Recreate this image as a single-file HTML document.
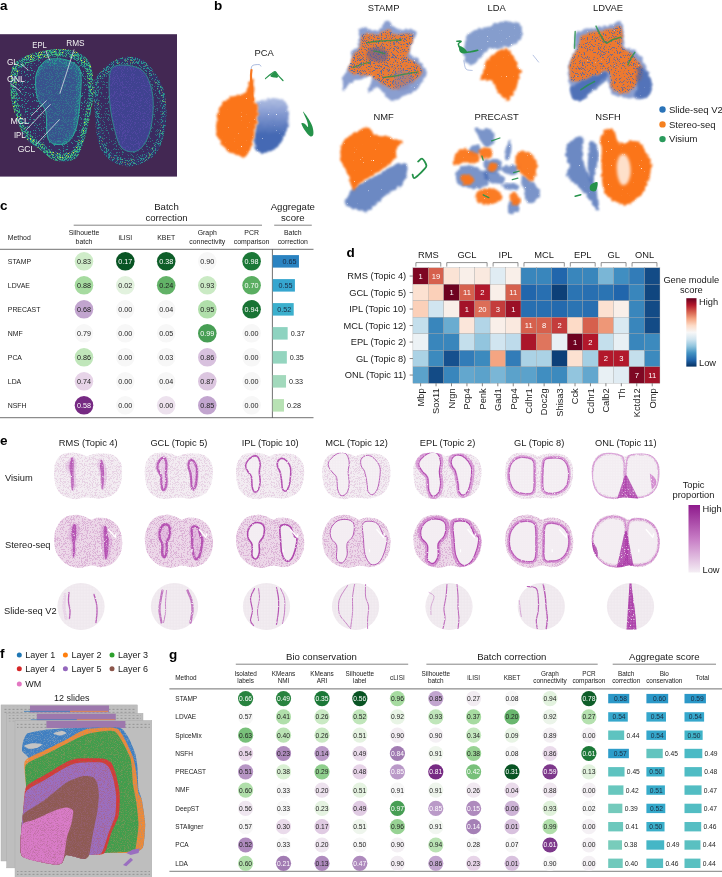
<!DOCTYPE html>
<html><head><meta charset="utf-8"><title>Figure</title>
<style>html,body{margin:0;padding:0;background:#fff;} svg{display:block;}</style></head>
<body><svg width="722" height="877" viewBox="0 0 722 877" font-family="'Liberation Sans', Arial, sans-serif">
<defs><filter id="spG" x="0" y="0" width="100%" height="100%" color-interpolation-filters="sRGB"><feTurbulence type="fractalNoise" baseFrequency="1.37" numOctaves="1" seed="3" result="n"/><feColorMatrix in="n" type="matrix" values="0 0 0 0 0.267  0 0 0 0 0.749  0 0 0 0 0.455  -20 0 0 0 9.6" result="c"/><feComposite in="c" in2="SourceGraphic" operator="in"/></filter><filter id="spY" x="0" y="0" width="100%" height="100%" color-interpolation-filters="sRGB"><feTurbulence type="fractalNoise" baseFrequency="1.37" numOctaves="1" seed="9" result="n"/><feColorMatrix in="n" type="matrix" values="0 0 0 0 0.812  0 0 0 0 0.878  0 0 0 0 0.227  -20 0 0 0 7.0" result="c"/><feComposite in="c" in2="SourceGraphic" operator="in"/></filter><filter id="spT" x="0" y="0" width="100%" height="100%" color-interpolation-filters="sRGB"><feTurbulence type="fractalNoise" baseFrequency="1.37" numOctaves="1" seed="5" result="n"/><feColorMatrix in="n" type="matrix" values="0 0 0 0 0.165  0 0 0 0 0.569  0 0 0 0 0.565  -20 0 0 0 9.3" result="c"/><feComposite in="c" in2="SourceGraphic" operator="in"/></filter><filter id="spT2" x="0" y="0" width="100%" height="100%" color-interpolation-filters="sRGB"><feTurbulence type="fractalNoise" baseFrequency="1.37" numOctaves="1" seed="12" result="n"/><feColorMatrix in="n" type="matrix" values="0 0 0 0 0.165  0 0 0 0 0.569  0 0 0 0 0.565  -20 0 0 0 7.9" result="c"/><feComposite in="c" in2="SourceGraphic" operator="in"/></filter><filter id="spB" x="0" y="0" width="100%" height="100%" color-interpolation-filters="sRGB"><feTurbulence type="fractalNoise" baseFrequency="1.37" numOctaves="1" seed="21" result="n"/><feColorMatrix in="n" type="matrix" values="0 0 0 0 0.227  0 0 0 0 0.416  0 0 0 0 0.596  -20 0 0 0 9.6" result="c"/><feComposite in="c" in2="SourceGraphic" operator="in"/></filter><filter id="spP" x="0" y="0" width="100%" height="100%" color-interpolation-filters="sRGB"><feTurbulence type="fractalNoise" baseFrequency="1.37" numOctaves="1" seed="17" result="n"/><feColorMatrix in="n" type="matrix" values="0 0 0 0 0.314  0 0 0 0 0.275  0 0 0 0 0.627  -20 0 0 0 9.0" result="c"/><feComposite in="c" in2="SourceGraphic" operator="in"/></filter>
<filter id="grainB" x="-10%" y="-10%" width="120%" height="120%" color-interpolation-filters="sRGB">
 <feTurbulence type="fractalNoise" baseFrequency="0.25" numOctaves="2" seed="4" result="t"/>
 <feDisplacementMap in="SourceGraphic" in2="t" scale="4" xChannelSelector="R" yChannelSelector="G" result="d"/>
 <feGaussianBlur in="d" stdDeviation="0.8" result="db"/>
 <feTurbulence type="fractalNoise" baseFrequency="1.37" numOctaves="1" seed="11" result="n"/>
 <feColorMatrix in="n" type="matrix" values="0 0 0 0 0  0 0 0 0 0  0 0 0 0 0  -10 0 0 0 8.3" result="a"/>
 <feComposite in="db" in2="a" operator="in"/>
</filter>
<filter id="mixB" x="0" y="0" width="100%" height="100%" color-interpolation-filters="sRGB">
 <feTurbulence type="fractalNoise" baseFrequency="1.37" numOctaves="1" seed="31" result="n"/>
 <feColorMatrix in="n" type="matrix" values="0 0 0 0 0.27  0 0 0 0 0.40  0 0 0 0 0.70  -20 0 0 0 9.0" result="c"/>
 <feComposite in="c" in2="SourceGraphic" operator="in"/>
</filter>
<filter id="mixB2" x="0" y="0" width="100%" height="100%" color-interpolation-filters="sRGB">
 <feTurbulence type="fractalNoise" baseFrequency="1.37" numOctaves="1" seed="37" result="n"/>
 <feColorMatrix in="n" type="matrix" values="0 0 0 0 0.27  0 0 0 0 0.40  0 0 0 0 0.70  -20 0 0 0 8.3" result="c"/>
 <feComposite in="c" in2="SourceGraphic" operator="in"/>
</filter>
<filter id="softG" x="-20%" y="-20%" width="140%" height="140%"><feGaussianBlur stdDeviation="0.5"/></filter>
<filter id="softB" x="-20%" y="-20%" width="140%" height="140%"><feGaussianBlur stdDeviation="1.5"/></filter>

<filter id="spPk" x="0" y="0" width="100%" height="100%" color-interpolation-filters="sRGB">
 <feTurbulence type="fractalNoise" baseFrequency="1.37" numOctaves="1" seed="41" result="n"/>
 <feColorMatrix in="n" type="matrix" values="0 0 0 0 0.86  0 0 0 0 0.70  0 0 0 0 0.84  -20 0 0 0 9.4" result="c"/>
 <feComposite in="c" in2="SourceGraphic" operator="in"/>
</filter>
<filter id="spPkV" x="0" y="0" width="100%" height="100%" color-interpolation-filters="sRGB">
 <feTurbulence type="fractalNoise" baseFrequency="1.37" numOctaves="1" seed="43" result="n"/>
 <feColorMatrix in="n" type="matrix" values="0 0 0 0 0.90  0 0 0 0 0.82  0 0 0 0 0.89  -20 0 0 0 9.6" result="c"/>
 <feComposite in="c" in2="SourceGraphic" operator="in"/>
</filter>
<filter id="magF" x="-10%" y="-10%" width="120%" height="120%" color-interpolation-filters="sRGB">
 <feGaussianBlur in="SourceGraphic" stdDeviation="0.5" result="b"/>
 <feTurbulence type="fractalNoise" baseFrequency="1.37" numOctaves="1" seed="23" result="n"/>
 <feColorMatrix in="n" type="matrix" values="0 0 0 0 0  0 0 0 0 0  0 0 0 0 0  -8 0 0 0 6.0" result="a"/>
 <feComposite in="b" in2="a" operator="in"/>
</filter>
<pattern id="dotsV" width="1.6" height="1.6" patternUnits="userSpaceOnUse"><rect width="1.6" height="1.6" fill="none"/><circle cx="0.4" cy="0.4" r="0.35" fill="#ffffff" opacity="0.55"/></pattern>
<pattern id="dotsS" width="2" height="2" patternUnits="userSpaceOnUse"><circle cx="0.5" cy="0.5" r="0.3" fill="#ffffff" opacity="0.35"/></pattern>
<pattern id="dotsL" width="1.5" height="1.5" patternUnits="userSpaceOnUse"><circle cx="0.4" cy="0.4" r="0.35" fill="#ffffff" opacity="0.5"/></pattern>

<pattern id="fdots" width="4" height="3" patternUnits="userSpaceOnUse"><rect x="0.5" y="0.8" width="2" height="1.2" fill="#9a9a9a"/></pattern>
<filter id="fhex" x="0" y="0" width="100%" height="100%">
 <feTurbulence type="fractalNoise" baseFrequency="1.3" numOctaves="1" seed="5" result="n"/>
 <feColorMatrix in="n" type="matrix" values="0 0 0 0 0  0 0 0 0 0  0 0 0 0 0  0 0 0 -1.6 1.75" result="a"/>
 <feComposite in="SourceGraphic" in2="a" operator="in"/>
</filter>
</defs>
<rect width="722" height="877" fill="#fff"/>
<text x="0.00" y="10.20" font-size="13.5" text-anchor="start" fill="#000" font-weight="bold" >a</text>
<rect x="0" y="34.2" width="177" height="142.4" fill="#432853"/>
<path d="M13.85,64.32 C18.10,58.18 27.24,54.90 36.01,52.41 C44.78,49.92 57.71,47.93 66.48,49.36 C75.25,50.79 84.12,54.35 88.64,61.00 C93.17,67.65 93.26,80.85 93.63,89.25 C94.00,97.65 92.38,103.10 90.86,111.41 C89.34,119.72 87.07,131.27 84.49,139.11 C81.90,146.96 80.19,154.95 75.35,158.50 C70.50,162.06 61.03,161.74 55.40,160.44 C49.77,159.15 46.63,154.67 41.55,150.75 C36.47,146.82 29.46,143.45 24.93,136.90 C20.41,130.34 16.81,119.35 14.40,111.41 C12.00,103.47 10.62,97.10 10.53,89.25 C10.43,81.40 9.60,70.46 13.85,64.32Z" fill="#33386a"/>
<path d="M13.85,64.32 C18.10,58.18 27.24,54.90 36.01,52.41 C44.78,49.92 57.71,47.93 66.48,49.36 C75.25,50.79 84.12,54.35 88.64,61.00 C93.17,67.65 93.26,80.85 93.63,89.25 C94.00,97.65 92.38,103.10 90.86,111.41 C89.34,119.72 87.07,131.27 84.49,139.11 C81.90,146.96 80.19,154.95 75.35,158.50 C70.50,162.06 61.03,161.74 55.40,160.44 C49.77,159.15 46.63,154.67 41.55,150.75 C36.47,146.82 29.46,143.45 24.93,136.90 C20.41,130.34 16.81,119.35 14.40,111.41 C12.00,103.47 10.62,97.10 10.53,89.25 C10.43,81.40 9.60,70.46 13.85,64.32Z" fill="#fff" filter="url(#spG)"/>
<path d="M13.85,64.32 C18.10,58.18 27.24,54.90 36.01,52.41 C44.78,49.92 57.71,47.93 66.48,49.36 C75.25,50.79 84.12,54.35 88.64,61.00 C93.17,67.65 93.26,80.85 93.63,89.25 C94.00,97.65 92.38,103.10 90.86,111.41 C89.34,119.72 87.07,131.27 84.49,139.11 C81.90,146.96 80.19,154.95 75.35,158.50 C70.50,162.06 61.03,161.74 55.40,160.44 C49.77,159.15 46.63,154.67 41.55,150.75 C36.47,146.82 29.46,143.45 24.93,136.90 C20.41,130.34 16.81,119.35 14.40,111.41 C12.00,103.47 10.62,97.10 10.53,89.25 C10.43,81.40 9.60,70.46 13.85,64.32Z" fill="#fff" filter="url(#spY)"/>
<path d="M13.85,64.32 C18.10,58.18 27.24,54.90 36.01,52.41 C44.78,49.92 57.71,47.93 66.48,49.36 C75.25,50.79 84.12,54.35 88.64,61.00 C93.17,67.65 93.26,80.85 93.63,89.25 C94.00,97.65 92.38,103.10 90.86,111.41 C89.34,119.72 87.07,131.27 84.49,139.11 C81.90,146.96 80.19,154.95 75.35,158.50 C70.50,162.06 61.03,161.74 55.40,160.44 C49.77,159.15 46.63,154.67 41.55,150.75 C36.47,146.82 29.46,143.45 24.93,136.90 C20.41,130.34 16.81,119.35 14.40,111.41 C12.00,103.47 10.62,97.10 10.53,89.25 C10.43,81.40 9.60,70.46 13.85,64.32Z" fill="#fff" filter="url(#spT)"/>
<path d="M19.61,69.88 C23.26,64.60 31.13,61.78 38.67,59.63 C46.21,57.49 57.33,55.78 64.87,57.01 C72.42,58.24 80.04,61.30 83.93,67.02 C87.82,72.74 87.90,84.09 88.22,91.32 C88.54,98.54 87.15,103.23 85.84,110.37 C84.53,117.52 82.58,127.45 80.36,134.20 C78.14,140.95 76.67,147.82 72.50,150.87 C68.33,153.93 60.19,153.65 55.35,152.54 C50.50,151.43 47.80,147.58 43.43,144.20 C39.07,140.83 33.03,137.93 29.14,132.29 C25.25,126.65 22.15,117.20 20.09,110.37 C18.02,103.55 16.83,98.07 16.75,91.32 C16.67,84.57 15.96,75.16 19.61,69.88Z" fill="#3a2c62"/>
<path d="M19.61,69.88 C23.26,64.60 31.13,61.78 38.67,59.63 C46.21,57.49 57.33,55.78 64.87,57.01 C72.42,58.24 80.04,61.30 83.93,67.02 C87.82,72.74 87.90,84.09 88.22,91.32 C88.54,98.54 87.15,103.23 85.84,110.37 C84.53,117.52 82.58,127.45 80.36,134.20 C78.14,140.95 76.67,147.82 72.50,150.87 C68.33,153.93 60.19,153.65 55.35,152.54 C50.50,151.43 47.80,147.58 43.43,144.20 C39.07,140.83 33.03,137.93 29.14,132.29 C25.25,126.65 22.15,117.20 20.09,110.37 C18.02,103.55 16.83,98.07 16.75,91.32 C16.67,84.57 15.96,75.16 19.61,69.88Z" fill="#fff" filter="url(#spT2)"/>
<path d="M55.40,58.78 C59.56,58.69 65.10,58.92 69.25,61.00 C73.41,63.07 78.58,64.23 80.33,71.25 C82.09,78.26 80.61,93.18 79.78,103.10 C78.95,113.03 77.93,124.02 75.35,130.80 C72.76,137.59 68.74,142.35 64.27,143.82 C59.79,145.30 51.57,145.07 48.48,139.67 C45.38,134.27 47.55,118.43 45.71,111.41 C43.86,104.40 39.01,103.56 37.40,97.56 C35.78,91.56 34.86,81.40 36.01,75.40 C37.17,69.40 41.09,64.32 44.32,61.55 C47.55,58.78 51.25,58.87 55.40,58.78Z" fill="#33608f"/>
<path d="M55.40,58.78 C59.56,58.69 65.10,58.92 69.25,61.00 C73.41,63.07 78.58,64.23 80.33,71.25 C82.09,78.26 80.61,93.18 79.78,103.10 C78.95,113.03 77.93,124.02 75.35,130.80 C72.76,137.59 68.74,142.35 64.27,143.82 C59.79,145.30 51.57,145.07 48.48,139.67 C45.38,134.27 47.55,118.43 45.71,111.41 C43.86,104.40 39.01,103.56 37.40,97.56 C35.78,91.56 34.86,81.40 36.01,75.40 C37.17,69.40 41.09,64.32 44.32,61.55 C47.55,58.78 51.25,58.87 55.40,58.78Z" fill="#fff" filter="url(#spT)"/>
<path d="M55.40,58.78 C59.56,58.69 65.10,58.92 69.25,61.00 C73.41,63.07 78.58,64.23 80.33,71.25 C82.09,78.26 80.61,93.18 79.78,103.10 C78.95,113.03 77.93,124.02 75.35,130.80 C72.76,137.59 68.74,142.35 64.27,143.82 C59.79,145.30 51.57,145.07 48.48,139.67 C45.38,134.27 47.55,118.43 45.71,111.41 C43.86,104.40 39.01,103.56 37.40,97.56 C35.78,91.56 34.86,81.40 36.01,75.40 C37.17,69.40 41.09,64.32 44.32,61.55 C47.55,58.78 51.25,58.87 55.40,58.78Z" fill="#443f8c" opacity="0.4" transform="translate(5,14) scale(0.88)"/>
<path d="M55.40,58.78 C59.56,58.69 65.10,58.92 69.25,61.00 C73.41,63.07 78.58,64.23 80.33,71.25 C82.09,78.26 80.61,93.18 79.78,103.10 C78.95,113.03 77.93,124.02 75.35,130.80 C72.76,137.59 68.74,142.35 64.27,143.82 C59.79,145.30 51.57,145.07 48.48,139.67 C45.38,134.27 47.55,118.43 45.71,111.41 C43.86,104.40 39.01,103.56 37.40,97.56 C35.78,91.56 34.86,81.40 36.01,75.40 C37.17,69.40 41.09,64.32 44.32,61.55 C47.55,58.78 51.25,58.87 55.40,58.78Z" fill="none" stroke="#2bab98" stroke-width="1.0"/>
<path d="M96.95,75.40 C101.20,69.77 111.27,60.63 119.11,58.23 C126.96,55.83 136.66,55.83 144.04,61.00 C151.43,66.17 159.83,78.54 163.43,89.25 C167.04,99.96 166.94,114.55 165.65,125.26 C164.36,135.97 161.13,146.73 155.68,153.52 C150.23,160.30 140.44,164.83 132.96,165.98 C125.48,167.14 116.57,164.37 110.80,160.44 C105.03,156.52 101.02,150.61 98.34,142.44 C95.66,134.27 95.52,119.82 94.74,111.41 C93.95,103.01 93.26,98.02 93.63,92.02 C94.00,86.02 92.71,81.03 96.95,75.40Z" fill="#373068"/>
<path d="M96.95,75.40 C101.20,69.77 111.27,60.63 119.11,58.23 C126.96,55.83 136.66,55.83 144.04,61.00 C151.43,66.17 159.83,78.54 163.43,89.25 C167.04,99.96 166.94,114.55 165.65,125.26 C164.36,135.97 161.13,146.73 155.68,153.52 C150.23,160.30 140.44,164.83 132.96,165.98 C125.48,167.14 116.57,164.37 110.80,160.44 C105.03,156.52 101.02,150.61 98.34,142.44 C95.66,134.27 95.52,119.82 94.74,111.41 C93.95,103.01 93.26,98.02 93.63,92.02 C94.00,86.02 92.71,81.03 96.95,75.40Z" fill="#fff" filter="url(#spT)"/>
<path d="M96.95,75.40 C101.20,69.77 111.27,60.63 119.11,58.23 C126.96,55.83 136.66,55.83 144.04,61.00 C151.43,66.17 159.83,78.54 163.43,89.25 C167.04,99.96 166.94,114.55 165.65,125.26 C164.36,135.97 161.13,146.73 155.68,153.52 C150.23,160.30 140.44,164.83 132.96,165.98 C125.48,167.14 116.57,164.37 110.80,160.44 C105.03,156.52 101.02,150.61 98.34,142.44 C95.66,134.27 95.52,119.82 94.74,111.41 C93.95,103.01 93.26,98.02 93.63,92.02 C94.00,86.02 92.71,81.03 96.95,75.40Z" fill="#fff" filter="url(#spY)" opacity="0.4"/>
<path d="M101.58,80.53 C105.23,75.68 113.89,67.82 120.64,65.76 C127.39,63.69 135.73,63.69 142.08,68.14 C148.43,72.58 155.66,83.23 158.75,92.44 C161.85,101.65 161.77,114.19 160.66,123.41 C159.55,132.62 156.77,141.87 152.08,147.71 C147.40,153.54 138.98,157.43 132.55,158.43 C126.12,159.42 118.45,157.04 113.49,153.66 C108.53,150.29 105.07,145.20 102.77,138.18 C100.47,131.15 100.35,118.72 99.67,111.49 C99.00,104.27 98.40,99.98 98.72,94.82 C99.04,89.66 97.93,85.37 101.58,80.53Z" fill="#3b2a60"/>
<path d="M101.58,80.53 C105.23,75.68 113.89,67.82 120.64,65.76 C127.39,63.69 135.73,63.69 142.08,68.14 C148.43,72.58 155.66,83.23 158.75,92.44 C161.85,101.65 161.77,114.19 160.66,123.41 C159.55,132.62 156.77,141.87 152.08,147.71 C147.40,153.54 138.98,157.43 132.55,158.43 C126.12,159.42 118.45,157.04 113.49,153.66 C108.53,150.29 105.07,145.20 102.77,138.18 C100.47,131.15 100.35,118.72 99.67,111.49 C99.00,104.27 98.40,99.98 98.72,94.82 C99.04,89.66 97.93,85.37 101.58,80.53Z" fill="#fff" filter="url(#spT2)" opacity="0.7"/>
<path d="M110.80,70.42 C113.34,65.01 119.11,64.88 124.65,65.15 C130.19,65.43 139.34,66.68 144.04,72.08 C148.75,77.48 151.89,87.77 152.91,97.56 C153.92,107.35 152.54,122.03 150.14,130.80 C147.74,139.58 143.21,147.33 138.50,150.19 C133.80,153.06 126.04,152.13 121.88,147.98 C117.73,143.82 115.65,133.67 113.57,125.26 C111.50,116.86 109.88,106.70 109.42,97.56 C108.96,88.42 108.26,75.82 110.80,70.42Z" fill="#3f4290"/>
<path d="M110.80,70.42 C113.34,65.01 119.11,64.88 124.65,65.15 C130.19,65.43 139.34,66.68 144.04,72.08 C148.75,77.48 151.89,87.77 152.91,97.56 C153.92,107.35 152.54,122.03 150.14,130.80 C147.74,139.58 143.21,147.33 138.50,150.19 C133.80,153.06 126.04,152.13 121.88,147.98 C117.73,143.82 115.65,133.67 113.57,125.26 C111.50,116.86 109.88,106.70 109.42,97.56 C108.96,88.42 108.26,75.82 110.80,70.42Z" fill="#fff" filter="url(#spP)"/>
<path d="M110.80,70.42 C113.34,65.01 119.11,64.88 124.65,65.15 C130.19,65.43 139.34,66.68 144.04,72.08 C148.75,77.48 151.89,87.77 152.91,97.56 C153.92,107.35 152.54,122.03 150.14,130.80 C147.74,139.58 143.21,147.33 138.50,150.19 C133.80,153.06 126.04,152.13 121.88,147.98 C117.73,143.82 115.65,133.67 113.57,125.26 C111.50,116.86 109.88,106.70 109.42,97.56 C108.96,88.42 108.26,75.82 110.80,70.42Z" fill="none" stroke="#2f8f8f" stroke-width="0.9"/>
<text x="32.30" y="47.70" font-size="9.5" text-anchor="start" fill="#f2f2f2" font-weight="normal" textLength="14.5" lengthAdjust="spacingAndGlyphs">EPL</text>
<text x="66.30" y="45.60" font-size="9.5" text-anchor="start" fill="#f2f2f2" font-weight="normal" textLength="18.3" lengthAdjust="spacingAndGlyphs">RMS</text>
<text x="6.90" y="64.70" font-size="9.5" text-anchor="start" fill="#f2f2f2" font-weight="normal" textLength="11.1" lengthAdjust="spacingAndGlyphs">GL</text>
<text x="6.90" y="82.10" font-size="9.5" text-anchor="start" fill="#f2f2f2" font-weight="normal" textLength="18.1" lengthAdjust="spacingAndGlyphs">ONL</text>
<text x="10.40" y="123.90" font-size="9.5" text-anchor="start" fill="#f2f2f2" font-weight="normal" textLength="18.6" lengthAdjust="spacingAndGlyphs">MCL</text>
<text x="13.90" y="137.70" font-size="9.5" text-anchor="start" fill="#f2f2f2" font-weight="normal" textLength="11.7" lengthAdjust="spacingAndGlyphs">IPL</text>
<text x="17.70" y="151.50" font-size="9.5" text-anchor="start" fill="#f2f2f2" font-weight="normal" textLength="17.6" lengthAdjust="spacingAndGlyphs">GCL</text>
<line x1="45.7" y1="50.8" x2="49.9" y2="60.5" stroke="#f2f2f2" stroke-width="0.7"/>
<line x1="74.1" y1="49.4" x2="59.8" y2="93.7" stroke="#f2f2f2" stroke-width="0.7"/>
<line x1="20.8" y1="63.9" x2="28.4" y2="70.2" stroke="#f2f2f2" stroke-width="0.7"/>
<line x1="10.4" y1="83.3" x2="20.8" y2="91.6" stroke="#f2f2f2" stroke-width="0.7"/>
<line x1="31.2" y1="115.9" x2="46.5" y2="100.6" stroke="#f2f2f2" stroke-width="0.7"/>
<line x1="26.3" y1="129.8" x2="50.6" y2="104.2" stroke="#f2f2f2" stroke-width="0.7"/>
<line x1="36.3" y1="144.3" x2="59.6" y2="119.4" stroke="#f2f2f2" stroke-width="0.7"/>
<text x="214.00" y="10.20" font-size="13.5" text-anchor="start" fill="#000" font-weight="bold" >b</text>
<text x="264.10" y="55.50" font-size="9.4" text-anchor="middle" fill="#1a1a1a" font-weight="normal" >PCA</text>
<path d="M252.80,91.60 C252.58,89.48 251.77,82.62 251.50,78.90 C251.23,75.18 250.98,71.55 251.20,69.30 C251.42,67.05 251.47,66.18 252.80,65.40 C254.13,64.62 257.87,64.47 259.20,64.60 C260.53,64.73 260.53,65.93 260.80,66.20" fill="none" stroke="#7d95cc" stroke-width="0.8" opacity="0.8" stroke-linecap="round" stroke-linejoin="round"/>
<linearGradient id="pcaBl" gradientUnits="userSpaceOnUse" x1="0" y1="100" x2="0" y2="135"><stop offset="0" stop-color="#a9b8e0"/><stop offset="0.45" stop-color="#7890cc"/><stop offset="1" stop-color="#3c62b0"/></linearGradient>
<path d="M256.00,102.80 C256.53,101.33 258.42,100.93 260.00,100.40 C261.58,99.87 263.52,100.00 265.50,99.60 C267.48,99.20 269.77,98.13 271.90,98.00 C274.03,97.87 276.18,98.27 278.30,98.80 C280.42,99.33 283.02,99.73 284.60,101.20 C286.18,102.67 287.13,104.68 287.80,107.60 C288.47,110.52 288.73,114.98 288.60,118.70 C288.47,122.42 288.45,125.65 287.00,129.90 C285.55,134.15 282.42,140.75 279.90,144.20 C277.38,147.65 274.83,149.13 271.90,150.60 C268.97,152.07 264.95,153.27 262.30,153.00 C259.65,152.73 257.32,151.27 256.00,149.00 C254.68,146.73 254.40,142.85 254.40,139.40 C254.40,135.95 255.47,131.75 256.00,128.30 C256.53,124.85 257.47,121.88 257.60,118.70 C257.73,115.52 257.07,111.85 256.80,109.20 C256.53,106.55 255.47,104.27 256.00,102.80Z" fill="url(#pcaBl)" opacity="0.95" filter="url(#grainB)"/>
<path d="M252.80,100.00 C252.58,97.67 251.80,90.00 251.50,86.00 C251.20,82.00 251.00,78.67 251.00,76.00 C251.00,73.33 251.42,71.00 251.50,70.00" fill="none" stroke="#fb7519" stroke-width="2.2" opacity="0.95" stroke-linecap="round" stroke-linejoin="round"/>
<path d="M216.20,126.70 C216.47,121.93 217.18,112.38 219.30,107.60 C221.42,102.82 225.97,100.00 228.90,98.00 C231.83,96.00 234.25,96.40 236.90,95.60 C239.55,94.80 242.95,94.65 244.80,93.20 C246.65,91.75 247.05,89.10 248.00,86.90 C248.95,84.70 249.58,81.15 250.50,80.00 C251.42,78.85 253.03,78.67 253.50,80.00 C253.97,81.33 253.15,84.73 253.30,88.00 C253.45,91.27 253.68,96.33 254.40,99.60 C255.12,102.87 257.07,104.42 257.60,107.60 C258.13,110.78 258.00,114.98 257.60,118.70 C257.20,122.42 255.87,126.45 255.20,129.90 C254.53,133.35 254.53,135.95 253.60,139.40 C252.67,142.85 251.33,147.42 249.60,150.60 C247.87,153.78 245.32,157.97 243.20,158.50 C241.08,159.03 239.28,154.85 236.90,153.80 C234.52,152.75 231.30,153.80 228.90,152.20 C226.50,150.60 224.37,146.87 222.50,144.20 C220.63,141.53 218.75,139.12 217.70,136.20 C216.65,133.28 215.93,131.47 216.20,126.70Z" fill="#fb7519" opacity="1.0" filter="url(#grainB)"/>
<path d="M265.50,78.60 C266.42,77.83 269.40,75.15 271.00,74.00 C272.60,72.85 273.88,71.42 275.10,71.70 C276.32,71.98 276.98,74.23 278.30,75.70 C279.62,77.17 282.22,79.70 283.00,80.50" fill="none" stroke="#25924a" stroke-width="1.2" opacity="1.0" stroke-linecap="round" stroke-linejoin="round"/>
<path d="M270.30,76.00 C270.48,75.03 273.82,71.53 275.10,71.70 C276.38,71.87 278.18,76.03 278.00,77.00 C277.82,77.97 275.28,77.67 274.00,77.50 C272.72,77.33 270.12,76.97 270.30,76.00Z" fill="#25924a" opacity="1"/>
<path d="M303.00,111.50 C303.25,111.12 306.92,116.17 308.50,118.70 C310.08,121.23 311.70,124.05 312.50,126.70 C313.30,129.35 313.70,133.02 313.30,134.60 C312.90,136.18 311.55,136.98 310.10,136.20 C308.65,135.42 306.05,132.02 304.60,129.90 C303.15,127.78 301.33,124.48 301.40,123.50 C301.47,122.52 303.90,123.42 305.00,124.00 C306.10,124.58 307.67,127.50 308.00,127.00 C308.33,126.50 307.83,123.58 307.00,121.00 C306.17,118.42 302.75,111.88 303.00,111.50Z" fill="#25924a" opacity="1"/>
<text x="383.60" y="10.60" font-size="9.4" text-anchor="middle" fill="#1a1a1a" font-weight="normal" >STAMP</text>
<path d="M343.30,91.20 C342.81,90.39 341.41,82.69 341.90,80.10 C342.39,77.51 346.37,71.43 347.50,69.00 C348.63,66.57 351.12,61.56 351.60,59.30 C352.08,57.04 350.80,51.05 351.60,49.60 C352.41,48.15 357.61,49.16 358.50,46.90 C359.39,44.64 358.38,32.46 359.20,30.20 C360.02,27.94 363.47,27.50 365.50,27.50 C367.53,27.50 374.02,31.02 376.60,30.20 C379.18,29.38 385.66,20.98 387.60,20.50 C389.54,20.02 391.74,24.97 393.20,26.10 C394.66,27.23 397.84,29.87 400.10,30.20 C402.36,30.53 410.66,28.57 412.60,28.90 C414.54,29.23 416.70,31.39 416.70,33.00 C416.70,34.61 413.41,40.27 412.60,42.70 C411.80,45.13 409.16,51.86 409.80,53.80 C410.44,55.74 416.16,57.04 418.10,59.30 C420.04,61.56 425.76,70.94 426.40,73.20 C427.04,75.46 424.57,77.09 423.60,78.70 C422.63,80.31 419.38,85.38 418.10,87.00 C416.82,88.62 414.54,91.47 412.60,92.60 C410.66,93.73 403.76,95.73 401.50,96.70 C399.24,97.67 394.82,100.74 393.20,100.90 C391.58,101.06 388.90,99.23 387.60,98.10 C386.31,96.97 383.38,92.50 382.10,91.20 C380.82,89.91 378.22,86.84 376.60,87.00 C374.98,87.16 368.85,93.24 368.20,92.60 C367.55,91.96 370.51,83.60 371.00,81.50 C371.49,79.40 373.37,74.93 372.40,74.60 C371.43,74.27 364.96,77.89 362.70,78.70 C360.44,79.51 354.94,80.53 353.00,81.50 C351.06,82.47 347.23,85.87 346.10,87.00 C344.97,88.13 343.79,92.01 343.30,91.20Z" fill="#6d86c4" opacity="0.8" filter="url(#grainB)"/>
<path d="M353.00,56.60 C354.47,54.01 358.61,51.16 359.90,48.20 C361.19,45.24 360.47,36.24 362.70,34.40 C364.93,32.56 373.28,34.96 376.60,34.40 C379.92,33.84 385.03,30.20 387.60,30.20 C390.17,30.20 392.57,33.84 395.90,34.40 C399.23,34.96 410.75,32.37 412.60,34.40 C414.45,36.43 410.55,46.64 409.80,49.60 C409.05,52.56 405.89,54.56 407.00,56.60 C408.11,58.64 416.06,62.69 418.10,64.90 C420.14,67.11 423.03,70.99 422.30,73.20 C421.57,75.41 415.37,79.66 412.60,81.50 C409.83,83.34 404.09,85.89 401.50,87.00 C398.91,88.11 395.60,90.16 393.20,89.80 C390.80,89.44 385.71,85.59 383.50,84.30 C381.29,83.01 378.27,81.22 376.60,80.10 C374.93,78.98 372.85,76.63 371.00,75.90 C369.15,75.17 365.29,74.96 362.70,74.60 C360.11,74.24 353.44,74.13 351.60,73.20 C349.76,72.27 348.71,69.81 348.90,67.60 C349.09,65.39 351.53,59.19 353.00,56.60Z" fill="#fb7519" opacity="0.85" filter="url(#grainB)"/>
<path d="M353.00,56.60 C354.47,54.01 358.61,51.16 359.90,48.20 C361.19,45.24 360.47,36.24 362.70,34.40 C364.93,32.56 373.28,34.96 376.60,34.40 C379.92,33.84 385.03,30.20 387.60,30.20 C390.17,30.20 392.57,33.84 395.90,34.40 C399.23,34.96 410.75,32.37 412.60,34.40 C414.45,36.43 410.55,46.64 409.80,49.60 C409.05,52.56 405.89,54.56 407.00,56.60 C408.11,58.64 416.06,62.69 418.10,64.90 C420.14,67.11 423.03,70.99 422.30,73.20 C421.57,75.41 415.37,79.66 412.60,81.50 C409.83,83.34 404.09,85.89 401.50,87.00 C398.91,88.11 395.60,90.16 393.20,89.80 C390.80,89.44 385.71,85.59 383.50,84.30 C381.29,83.01 378.27,81.22 376.60,80.10 C374.93,78.98 372.85,76.63 371.00,75.90 C369.15,75.17 365.29,74.96 362.70,74.60 C360.11,74.24 353.44,74.13 351.60,73.20 C349.76,72.27 348.71,69.81 348.90,67.60 C349.09,65.39 351.53,59.19 353.00,56.60Z" fill="#fff" filter="url(#mixB)" opacity="0.8"/>
<path d="M368.00,50.00 C369.67,48.17 374.67,46.67 378.00,47.00 C381.33,47.33 386.67,49.83 388.00,52.00 C389.33,54.17 388.00,58.33 386.00,60.00 C384.00,61.67 379.00,62.33 376.00,62.00 C373.00,61.67 369.33,60.00 368.00,58.00 C366.67,56.00 366.33,51.83 368.00,50.00Z" fill="#5a5f9a" opacity="0.6" filter="url(#grainB)"/>
<path d="M395.00,72.00 C396.67,69.00 401.83,68.67 405.00,70.00 C408.17,71.33 414.00,76.67 414.00,80.00 C414.00,83.33 408.17,88.67 405.00,90.00 C401.83,91.33 396.67,91.00 395.00,88.00 C393.33,85.00 393.33,75.00 395.00,72.00Z" fill="#7d7fb0" opacity="0.45" filter="url(#grainB)"/>
<path d="M353.00,67.60 C354.33,67.08 358.23,65.42 361.00,64.50 C363.77,63.58 368.17,62.50 369.60,62.10" fill="none" stroke="#25924a" stroke-width="1.3" opacity="0.75" stroke-linecap="round" stroke-linejoin="round"/>
<path d="M366.90,42.70 C369.08,42.42 375.82,41.37 380.00,41.00 C384.18,40.63 388.42,40.68 392.00,40.50 C395.58,40.32 399.92,40.00 401.50,39.90" fill="none" stroke="#25924a" stroke-width="1.3" opacity="0.75" stroke-linecap="round" stroke-linejoin="round"/>
<path d="M383.50,77.30 C385.42,77.08 391.42,76.55 395.00,76.00 C398.58,75.45 401.15,74.70 405.00,74.00 C408.85,73.30 415.92,72.17 418.10,71.80" fill="none" stroke="#25924a" stroke-width="1.3" opacity="0.75" stroke-linecap="round" stroke-linejoin="round"/>
<path d="M373.80,51.00 C374.67,51.17 377.15,51.53 379.00,52.00 C380.85,52.47 383.92,53.50 384.90,53.80" fill="none" stroke="#25924a" stroke-width="1.3" opacity="0.75" stroke-linecap="round" stroke-linejoin="round"/>
<text x="383.60" y="119.50" font-size="9.4" text-anchor="middle" fill="#1a1a1a" font-weight="normal" >NMF</text>
<path d="M351.60,189.30 C353.90,187.22 358.53,184.62 362.70,182.30 C366.87,179.98 371.98,177.93 376.60,175.40 C381.22,172.87 386.25,169.18 390.40,167.10 C394.55,165.02 398.73,163.13 401.50,162.90 C404.27,162.67 406.32,163.15 407.00,165.70 C407.68,168.25 406.75,174.73 405.60,178.20 C404.45,181.67 402.63,184.20 400.10,186.50 C397.57,188.80 393.63,189.70 390.40,192.00 C387.17,194.30 383.47,197.98 380.70,200.30 C377.93,202.62 376.10,204.05 373.80,205.90 C371.50,207.75 369.67,210.72 366.90,211.40 C364.13,212.08 360.43,210.92 357.20,210.00 C353.97,209.08 349.47,207.28 347.50,205.90 C345.53,204.52 345.17,203.55 345.40,201.70 C345.63,199.85 347.87,196.87 348.90,194.80 C349.93,192.73 349.30,191.38 351.60,189.30Z" fill="#3c62b0" opacity="0.75" filter="url(#grainB)"/>
<path d="M340.50,150.50 C340.97,146.58 342.62,142.17 344.70,139.40 C346.78,136.63 350.00,135.75 353.00,133.90 C356.00,132.05 359.93,129.23 362.70,128.30 C365.47,127.37 367.28,127.15 369.60,128.30 C371.92,129.45 373.60,133.82 376.60,135.20 C379.60,136.58 384.38,135.90 387.60,136.60 C390.82,137.30 393.35,138.58 395.90,139.40 C398.45,140.22 402.67,140.12 402.90,141.50 C403.13,142.88 398.47,145.28 397.30,147.70 C396.13,150.12 396.58,153.68 395.90,156.00 C395.22,158.32 395.27,159.52 393.20,161.60 C391.13,163.68 386.73,166.20 383.50,168.50 C380.27,170.80 377.27,173.33 373.80,175.40 C370.33,177.47 365.93,178.58 362.70,180.90 C359.47,183.22 356.25,188.37 354.40,189.30 C352.55,190.23 352.75,189.05 351.60,186.50 C350.45,183.95 349.12,177.93 347.50,174.00 C345.88,170.07 343.07,166.82 341.90,162.90 C340.73,158.98 340.03,154.42 340.50,150.50Z" fill="#fb7519" opacity="1.0" filter="url(#grainB)"/>
<path d="M418.10,161.60 C418.80,161.13 420.92,158.12 422.30,158.80 C423.68,159.48 426.18,163.85 426.40,165.70 C426.62,167.55 424.98,168.28 423.60,169.90 C422.22,171.52 419.70,174.02 418.10,175.40 C416.50,176.78 414.92,178.32 414.00,178.20 C413.08,178.08 412.83,175.28 412.60,174.70" fill="none" stroke="#25924a" stroke-width="1.8" opacity="1.0" stroke-linecap="round" stroke-linejoin="round"/>
<text x="496.60" y="10.60" font-size="9.4" text-anchor="middle" fill="#1a1a1a" font-weight="normal" >LDA</text>
<path d="M465.20,41.30 C465.78,39.22 465.92,36.47 468.00,34.40 C470.08,32.33 473.77,30.28 477.70,28.90 C481.63,27.52 488.60,27.15 491.60,26.10 C494.60,25.05 492.93,23.30 495.70,22.60 C498.47,21.90 504.27,21.78 508.20,21.90 C512.13,22.02 517.00,21.92 519.30,23.30 C521.60,24.68 521.78,27.43 522.00,30.20 C522.22,32.97 521.75,37.58 520.60,39.90 C519.45,42.22 517.63,42.93 515.10,44.10 C512.57,45.27 508.63,46.22 505.40,46.90 C502.17,47.58 498.47,47.75 495.70,48.20 C492.93,48.65 491.10,48.43 488.80,49.60 C486.50,50.77 483.75,53.35 481.90,55.20 C480.05,57.05 479.32,59.08 477.70,60.70 C476.08,62.32 474.28,64.90 472.20,64.90 C470.12,64.90 466.58,62.55 465.20,60.70 C463.82,58.85 464.02,56.10 463.90,53.80 C463.78,51.50 464.28,48.98 464.50,46.90 C464.72,44.82 464.62,43.38 465.20,41.30Z" fill="#3c62b0" opacity="0.62" filter="url(#grainB)"/>
<path d="M463.90,60.70 C464.23,62.08 464.52,67.38 465.90,69.00 C467.28,70.62 471.15,70.17 472.20,70.40" fill="none" stroke="#7d95cc" stroke-width="0.7" opacity="0.8" stroke-linecap="round" stroke-linejoin="round"/>
<path d="M533.1,55.2 L538.6,62.1" fill="none" stroke="#7d95cc" stroke-width="0.7" opacity="0.8" stroke-linecap="round" stroke-linejoin="round"/>
<path d="M487.40,59.30 C489.25,57.22 493.17,54.13 495.70,52.40 C498.23,50.67 500.52,49.37 502.60,48.90 C504.68,48.43 506.58,48.55 508.20,49.60 C509.82,50.65 510.92,53.12 512.30,55.20 C513.68,57.28 515.57,60.03 516.50,62.10 C517.43,64.17 516.98,65.98 517.90,67.60 C518.82,69.22 521.77,70.42 522.00,71.80 C522.23,73.18 520.22,73.37 519.30,75.90 C518.38,78.43 517.67,83.77 516.50,87.00 C515.33,90.23 513.68,92.98 512.30,95.30 C510.92,97.62 509.82,100.67 508.20,100.90 C506.58,101.13 504.45,98.55 502.60,96.70 C500.75,94.85 498.72,92.33 497.10,89.80 C495.48,87.27 494.98,83.12 492.90,81.50 C490.82,79.88 486.67,80.57 484.60,80.10 C482.53,79.63 480.73,80.08 480.50,78.70 C480.27,77.32 482.52,74.10 483.20,71.80 C483.88,69.50 483.90,66.98 484.60,64.90 C485.30,62.82 485.55,61.38 487.40,59.30Z" fill="#fb7519" opacity="1.0" filter="url(#grainB)"/>
<path d="M456.90,41.30 C457.60,41.30 460.87,40.83 461.10,41.30 C461.33,41.77 458.30,42.72 458.30,44.10 C458.30,45.48 459.95,48.22 461.10,49.60 C462.25,50.98 463.58,52.05 465.20,52.40 C466.82,52.75 468.72,52.05 470.80,51.70 C472.88,51.35 476.55,50.53 477.70,50.30" fill="none" stroke="#25924a" stroke-width="1.6" opacity="1.0" stroke-linecap="round" stroke-linejoin="round"/>
<path d="M459.50,46.00 C460.25,45.50 462.75,47.00 464.00,48.00 C465.25,49.00 467.17,51.08 467.00,52.00 C466.83,52.92 464.25,53.67 463.00,53.50 C461.75,53.33 460.08,52.25 459.50,51.00 C458.92,49.75 458.75,46.50 459.50,46.00Z" fill="#25924a" opacity="1"/>
<text x="608.00" y="10.60" font-size="9.4" text-anchor="middle" fill="#1a1a1a" font-weight="normal" >LDVAE</text>
<path d="M568.30,73.20 C568.30,70.05 568.78,63.85 569.70,60.70 C570.62,57.55 574.47,53.11 575.20,49.60 C575.93,46.09 574.09,36.99 575.20,34.40 C576.31,31.81 580.73,31.12 583.50,30.20 C586.27,29.28 592.67,28.05 596.00,27.50 C599.33,26.95 605.54,26.94 608.50,26.10 C611.46,25.26 616.36,21.57 618.20,21.20 C620.04,20.83 621.57,21.73 622.30,23.30 C623.03,24.87 623.33,29.85 623.70,33.00 C624.07,36.15 623.62,44.50 625.10,46.90 C626.58,49.30 632.40,49.16 634.80,51.00 C637.20,52.84 641.26,57.74 643.10,60.70 C644.94,63.66 647.49,70.05 648.60,73.20 C649.71,76.35 651.40,81.35 651.40,84.30 C651.40,87.25 650.08,93.27 648.60,95.30 C647.12,97.33 642.87,99.13 640.30,99.50 C637.73,99.87 632.06,98.47 629.30,98.10 C626.54,97.73 621.83,97.26 619.60,96.70 C617.37,96.14 614.08,95.55 612.60,93.90 C611.12,92.25 609.42,86.70 608.50,84.30 C607.58,81.90 606.62,76.46 605.70,75.90 C604.78,75.34 603.08,78.62 601.60,80.10 C600.12,81.58 596.45,85.16 594.60,87.00 C592.75,88.84 589.54,92.05 587.70,93.90 C585.86,95.75 582.64,100.15 580.80,100.90 C578.96,101.65 575.19,100.61 573.90,99.50 C572.61,98.39 571.66,94.63 571.10,92.60 C570.54,90.57 570.07,86.89 569.70,84.30 C569.33,81.71 568.30,76.35 568.30,73.20Z" fill="#6d86c4" opacity="0.8" filter="url(#grainB)"/>
<path d="M569.70,73.20 C569.70,70.43 569.99,62.63 571.10,59.30 C572.21,55.97 576.52,51.33 578.00,48.20 C579.48,45.07 579.99,38.01 582.20,35.80 C584.41,33.59 591.09,32.35 594.60,31.60 C598.11,30.85 605.17,30.93 608.50,30.20 C611.83,29.47 617.76,25.73 619.60,26.10 C621.44,26.47 621.94,30.23 622.30,33.00 C622.66,35.77 621.01,44.13 622.30,46.90 C623.59,49.67 629.79,51.77 632.00,53.80 C634.21,55.83 637.42,59.89 638.90,62.10 C640.38,64.31 642.91,68.19 643.10,70.40 C643.29,72.61 641.41,76.49 640.30,78.70 C639.19,80.91 636.64,85.15 634.80,87.00 C632.96,88.85 628.71,91.85 626.50,92.60 C624.29,93.35 620.24,93.35 618.20,92.60 C616.16,91.85 612.31,89.23 611.20,87.00 C610.09,84.77 610.63,78.11 609.90,75.90 C609.17,73.69 607.37,70.57 605.70,70.40 C604.03,70.23 599.80,73.49 597.40,74.60 C595.00,75.71 590.29,77.78 587.70,78.70 C585.11,79.62 580.21,81.31 578.00,81.50 C575.79,81.69 572.21,81.21 571.10,80.10 C569.99,78.99 569.70,75.97 569.70,73.20Z" fill="#fb7519" opacity="0.88" filter="url(#grainB)"/>
<path d="M569.70,73.20 C569.70,70.43 569.99,62.63 571.10,59.30 C572.21,55.97 576.52,51.33 578.00,48.20 C579.48,45.07 579.99,38.01 582.20,35.80 C584.41,33.59 591.09,32.35 594.60,31.60 C598.11,30.85 605.17,30.93 608.50,30.20 C611.83,29.47 617.76,25.73 619.60,26.10 C621.44,26.47 621.94,30.23 622.30,33.00 C622.66,35.77 621.01,44.13 622.30,46.90 C623.59,49.67 629.79,51.77 632.00,53.80 C634.21,55.83 637.42,59.89 638.90,62.10 C640.38,64.31 642.91,68.19 643.10,70.40 C643.29,72.61 641.41,76.49 640.30,78.70 C639.19,80.91 636.64,85.15 634.80,87.00 C632.96,88.85 628.71,91.85 626.50,92.60 C624.29,93.35 620.24,93.35 618.20,92.60 C616.16,91.85 612.31,89.23 611.20,87.00 C610.09,84.77 610.63,78.11 609.90,75.90 C609.17,73.69 607.37,70.57 605.70,70.40 C604.03,70.23 599.80,73.49 597.40,74.60 C595.00,75.71 590.29,77.78 587.70,78.70 C585.11,79.62 580.21,81.31 578.00,81.50 C575.79,81.69 572.21,81.21 571.10,80.10 C569.99,78.99 569.70,75.97 569.70,73.20Z" fill="#fff" filter="url(#mixB2)" opacity="0.75"/>
<path d="M571.10,87.00 C572.83,85.15 576.88,83.35 580.80,81.50 C584.72,79.65 590.45,77.52 594.60,75.90 C598.75,74.28 603.62,71.33 605.70,71.80 C607.78,72.27 607.78,76.62 607.10,78.70 C606.42,80.78 604.37,81.98 601.60,84.30 C598.83,86.62 593.97,89.83 590.50,92.60 C587.03,95.37 583.57,99.75 580.80,100.90 C578.03,102.05 575.63,100.88 573.90,99.50 C572.17,98.12 570.87,94.68 570.40,92.60 C569.93,90.52 569.37,88.85 571.10,87.00Z" fill="#3c62b0" opacity="0.75" filter="url(#grainB)"/>
<path d="M637.60,67.60 C638.98,65.28 643.60,68.08 645.90,70.40 C648.20,72.72 650.72,77.58 651.40,81.50 C652.08,85.42 651.62,91.13 650.00,93.90 C648.38,96.67 644.23,97.87 641.70,98.10 C639.17,98.33 635.48,97.60 634.80,95.30 C634.12,93.00 637.13,88.92 637.60,84.30 C638.07,79.68 636.22,69.92 637.60,67.60Z" fill="#3c62b0" opacity="0.7" filter="url(#grainB)"/>
<path d="M575.20,31.60 C575.13,33.00 574.92,37.23 574.80,40.00 C574.68,42.77 574.55,46.83 574.50,48.20" fill="none" stroke="#25924a" stroke-width="1.5" opacity="0.8" stroke-linecap="round" stroke-linejoin="round"/>
<path d="M596.00,26.10 C596.67,27.42 598.38,31.23 600.00,34.00 C601.62,36.77 603.70,41.70 605.70,42.70 C607.70,43.70 609.47,40.92 612.00,40.00 C614.53,39.08 619.42,37.67 620.90,37.20" fill="none" stroke="#25924a" stroke-width="1.5" opacity="0.8" stroke-linecap="round" stroke-linejoin="round"/>
<path d="M634.80,52.40 C634.17,53.33 632.15,55.92 631.00,58.00 C629.85,60.08 628.42,63.75 627.90,64.90" fill="none" stroke="#25924a" stroke-width="1.5" opacity="0.8" stroke-linecap="round" stroke-linejoin="round"/>
<path d="M580.80,89.80 C582.00,89.00 585.70,86.38 588.00,85.00 C590.30,83.62 593.50,82.08 594.60,81.50" fill="none" stroke="#25924a" stroke-width="1.5" opacity="0.8" stroke-linecap="round" stroke-linejoin="round"/>
<text x="496.60" y="119.80" font-size="9.4" text-anchor="middle" fill="#1a1a1a" font-weight="normal" >PRECAST</text>
<path d="M474.43,128.29 C475.26,127.46 480.59,130.00 482.85,130.00 C485.10,130.00 486.00,127.46 487.97,128.29 C489.94,129.13 493.83,132.46 494.68,135.00 C495.54,137.54 494.50,141.57 493.10,143.54 C491.69,145.51 488.24,147.12 486.26,146.84 C484.29,146.55 482.66,143.81 481.26,141.83 C479.86,139.86 478.98,137.26 477.85,135.00 C476.71,132.74 473.60,129.13 474.43,128.29Z" fill="#3c62b0" opacity="0.68" filter="url(#grainB)"/>
<path d="M504.73,152.03 C505.30,148.65 508.73,141.05 509.85,140.19 C510.97,139.34 511.44,144.10 511.44,146.90 C511.44,149.71 510.68,154.77 509.85,157.03 C509.02,159.29 507.29,161.28 506.43,160.45 C505.58,159.61 504.16,155.40 504.73,152.03Z" fill="#3c62b0" opacity="0.68" filter="url(#grainB)"/>
<path d="M484.47,160.69 C486.16,159.29 492.06,158.99 494.60,158.99 C497.14,158.99 498.58,159.29 499.72,160.69 C500.86,162.10 502.00,165.45 501.43,167.40 C500.86,169.36 498.28,171.57 496.31,172.41 C494.33,173.24 491.57,173.24 489.60,172.41 C487.62,171.57 485.33,169.36 484.47,167.40 C483.62,165.45 482.78,162.10 484.47,160.69Z" fill="#3c62b0" opacity="0.68" filter="url(#grainB)"/>
<path d="M456.92,171.53 C458.33,168.72 461.68,165.37 465.34,164.82 C469.00,164.27 475.22,166.55 478.88,168.23 C482.54,169.92 485.61,172.42 487.30,174.94 C488.99,177.46 490.41,181.10 489.01,183.36 C487.61,185.62 482.83,187.92 478.88,188.49 C474.94,189.05 469.00,187.92 465.34,186.78 C461.68,185.64 458.33,184.20 456.92,181.65 C455.52,179.11 455.52,174.33 456.92,171.53Z" fill="#3c62b0" opacity="0.68" filter="url(#grainB)"/>
<path d="M484.12,171.43 C485.81,170.00 492.58,170.29 495.96,171.43 C499.33,172.57 503.26,176.29 504.37,178.26 C505.49,180.23 504.35,182.43 502.67,183.26 C500.98,184.09 497.05,183.81 494.25,183.26 C491.44,182.71 487.52,181.94 485.83,179.97 C484.14,177.99 482.44,172.85 484.12,171.43Z" fill="#3c62b0" opacity="0.68" filter="url(#grainB)"/>
<path d="M500.70,168.26 C501.54,166.57 509.43,165.13 512.54,164.85 C515.65,164.56 518.80,165.15 519.37,166.55 C519.94,167.96 517.93,171.86 515.95,173.26 C513.98,174.67 510.08,175.81 507.54,174.97 C504.99,174.14 499.87,169.95 500.70,168.26Z" fill="#3c62b0" opacity="0.68" filter="url(#grainB)"/>
<path d="M521.88,175.64 C522.71,173.93 526.04,176.96 528.59,178.93 C531.13,180.90 535.15,184.93 537.13,187.47 C539.10,190.01 540.99,191.66 540.42,194.18 C539.85,196.70 535.95,201.48 533.71,202.60 C531.47,203.72 528.69,203.13 527.00,200.89 C525.31,198.66 524.44,193.39 523.58,189.18 C522.73,184.97 521.04,177.35 521.88,175.64Z" fill="#3c62b0" opacity="0.68" filter="url(#grainB)"/>
<path d="M502.35,184.73 C503.18,183.59 509.65,182.74 512.48,183.02 C515.30,183.31 518.74,185.30 519.31,186.44 C519.88,187.58 517.86,189.29 515.89,189.85 C513.92,190.42 509.73,190.71 507.47,189.85 C505.22,189.00 501.52,185.87 502.35,184.73Z" fill="#3c62b0" opacity="0.68" filter="url(#grainB)"/>
<path d="M508.75,202.13 C510.15,200.16 515.48,199.30 517.17,200.42 C518.86,201.54 519.45,206.58 518.88,208.84 C518.31,211.09 515.44,213.39 513.75,213.96 C512.07,214.53 509.58,214.23 508.75,212.25 C507.92,210.28 507.35,204.10 508.75,202.13Z" fill="#3c62b0" opacity="0.68" filter="url(#grainB)"/>
<path d="M469.89,147.03 C471.29,145.63 476.33,144.47 478.31,145.32 C480.28,146.18 482.29,150.47 481.72,152.16 C481.15,153.84 476.86,155.18 474.89,155.45 C472.92,155.71 470.72,155.14 469.89,153.74 C469.06,152.34 468.49,148.43 469.89,147.03Z" fill="#3c62b0" opacity="0.68" filter="url(#grainB)"/>
<path d="M452.73,162.10 C452.73,159.79 455.27,153.57 457.32,151.24 C459.37,148.91 462.71,148.10 465.05,148.10 C467.38,148.10 469.25,150.47 471.32,151.24 C473.39,152.00 476.19,151.15 477.48,152.69 C478.77,154.24 479.81,158.72 479.05,160.53 C478.28,162.35 475.22,163.30 472.89,163.56 C470.55,163.82 467.64,161.84 465.05,162.10 C462.45,162.36 459.37,165.13 457.32,165.13 C455.27,165.13 452.73,164.42 452.73,162.10Z" fill="#fb7519" opacity="0.95" filter="url(#grainB)"/>
<path d="M479.86,148.56 C481.15,147.14 485.52,147.25 487.59,147.78 C489.66,148.30 491.77,150.02 492.30,151.70 C492.82,153.38 492.03,156.57 490.73,157.86 C489.42,159.14 486.27,159.69 484.46,159.42 C482.65,159.16 480.63,158.10 479.86,156.29 C479.10,154.48 478.58,149.98 479.86,148.56Z" fill="#fb7519" opacity="0.95" filter="url(#grainB)"/>
<path d="M516.87,154.83 C518.42,153.13 522.02,150.91 524.60,150.91 C527.17,150.91 530.25,152.62 532.32,154.83 C534.40,157.03 536.51,160.50 537.03,164.12 C537.55,167.74 536.24,173.70 535.46,176.55 C534.68,179.41 533.87,181.00 532.32,181.26 C530.77,181.52 528.48,179.93 526.16,178.12 C523.85,176.31 520.25,173.23 518.44,170.39 C516.63,167.56 515.56,163.69 515.30,161.10 C515.04,158.50 515.32,156.52 516.87,154.83Z" fill="#fb7519" opacity="0.95" filter="url(#grainB)"/>
<path d="M476.45,193.02 C477.74,191.22 481.08,189.08 484.18,188.42 C487.28,187.77 492.19,188.07 495.04,189.10 C497.90,190.12 500.53,192.64 501.32,194.58 C502.10,196.53 501.56,199.19 499.75,200.74 C497.94,202.29 493.55,203.36 490.45,203.88 C487.35,204.40 483.49,204.66 481.16,203.88 C478.82,203.10 477.24,200.99 476.45,199.18 C475.67,197.37 475.16,194.81 476.45,193.02Z" fill="#fb7519" opacity="0.95" filter="url(#grainB)"/>
<path d="M508.97,194.30 C509.49,192.49 513.32,191.97 515.13,192.74 C516.94,193.50 519.31,196.82 519.84,198.90 C520.36,200.97 519.57,204.38 518.27,205.17 C516.96,205.95 513.54,205.41 512.00,203.60 C510.45,201.79 508.45,196.11 508.97,194.30Z" fill="#fb7519" opacity="0.95" filter="url(#grainB)"/>
<path d="M460.34,176.44 C461.10,174.89 465.75,174.34 468.06,174.87 C470.38,175.39 473.70,178.02 474.22,179.57 C474.75,181.12 472.99,183.40 471.20,184.16 C469.41,184.93 465.28,185.45 463.47,184.16 C461.66,182.88 459.57,177.98 460.34,176.44Z" fill="#fb7519" opacity="0.95" filter="url(#grainB)"/>
<path d="M488.37,163.97 C489.40,162.66 492.98,161.88 494.53,162.40 C496.08,162.92 497.93,165.55 497.67,167.10 C497.41,168.65 494.51,171.17 492.96,171.69 C491.41,172.22 489.14,171.53 488.37,170.24 C487.61,168.95 487.34,165.27 488.37,163.97Z" fill="#fb7519" opacity="0.95" filter="url(#grainB)"/>
<path d="M491.6,140.8 L499.9,138.0" fill="none" stroke="#25924a" stroke-width="1.3" opacity="0.9" stroke-linecap="round" stroke-linejoin="round"/>
<path d="M481.9,156.0 L483.2,160.2" fill="none" stroke="#25924a" stroke-width="1.3" opacity="0.9" stroke-linecap="round" stroke-linejoin="round"/>
<path d="M513.7,172.6 L519.3,171.2" fill="none" stroke="#25924a" stroke-width="1.3" opacity="0.9" stroke-linecap="round" stroke-linejoin="round"/>
<path d="M512.3,179.6 L517.9,178.2" fill="none" stroke="#25924a" stroke-width="1.3" opacity="0.9" stroke-linecap="round" stroke-linejoin="round"/>
<path d="M483.2,194.8 L488.8,197.6" fill="none" stroke="#25924a" stroke-width="1.3" opacity="0.9" stroke-linecap="round" stroke-linejoin="round"/>
<text x="608.00" y="119.80" font-size="9.4" text-anchor="middle" fill="#1a1a1a" font-weight="normal" >NSFH</text>
<path d="M565.50,147.70 C566.20,144.47 568.55,142.53 571.10,140.80 C573.65,139.07 578.73,137.30 580.80,137.30 C582.87,137.30 583.27,137.92 583.50,140.80 C583.73,143.68 581.97,150.45 582.20,154.60 C582.43,158.75 583.98,162.70 584.90,165.70 C585.82,168.70 586.53,170.07 587.70,172.60 C588.87,175.13 590.52,178.58 591.90,180.90 C593.28,183.22 595.08,183.72 596.00,186.50 C596.92,189.28 597.05,193.68 597.40,197.60 C597.75,201.52 598.80,208.62 598.10,210.00 C597.40,211.38 594.93,207.97 593.20,205.90 C591.47,203.83 590.00,200.60 587.70,197.60 C585.40,194.60 582.40,190.90 579.40,187.90 C576.40,184.90 571.78,182.15 569.70,179.60 C567.62,177.05 566.67,174.92 566.90,172.60 C567.13,170.28 571.10,167.77 571.10,165.70 C571.10,163.63 567.83,163.20 566.90,160.20 C565.97,157.20 564.80,150.93 565.50,147.70Z" fill="#3c62b0" opacity="0.75" filter="url(#grainB)"/>
<path d="M589.10,142.20 C589.90,140.02 591.82,140.58 593.20,141.50 C594.58,142.42 596.70,144.35 597.40,147.70 C598.10,151.05 597.87,157.45 597.40,161.60 C596.93,165.75 595.30,169.15 594.60,172.60 C593.90,176.05 594.00,180.92 593.20,182.30 C592.40,183.68 590.72,183.20 589.80,180.90 C588.88,178.60 587.93,172.88 587.70,168.50 C587.47,164.12 588.17,158.98 588.40,154.60 C588.63,150.22 588.30,144.38 589.10,142.20Z" fill="#3c62b0" opacity="0.75" filter="url(#grainB)"/>
<path d="M600.20,138.00 C600.88,135.00 603.87,131.32 605.70,129.70 C607.53,128.08 609.58,127.60 611.20,128.30 C612.82,129.00 614.23,131.58 615.40,133.90 C616.57,136.22 616.82,140.60 618.20,142.20 C619.58,143.80 621.40,143.73 623.70,143.50 C626.00,143.27 629.23,140.80 632.00,140.80 C634.77,140.80 637.75,141.20 640.30,143.50 C642.85,145.80 645.45,151.13 647.30,154.60 C649.15,158.07 651.18,160.13 651.40,164.30 C651.62,168.47 649.98,174.98 648.60,179.60 C647.22,184.22 645.40,188.55 643.10,192.00 C640.80,195.45 637.57,198.22 634.80,200.30 C632.03,202.38 629.27,204.03 626.50,204.50 C623.73,204.97 621.20,204.25 618.20,203.10 C615.20,201.95 611.05,200.37 608.50,197.60 C605.95,194.83 604.05,191.35 602.90,186.50 C601.75,181.65 601.82,174.97 601.60,168.50 C601.38,162.03 601.83,152.78 601.60,147.70 C601.37,142.62 599.52,141.00 600.20,138.00Z" fill="#fb7519" opacity="1.0" filter="url(#grainB)"/>
<path d="M619.60,156.00 C620.98,154.15 623.48,153.67 625.10,154.60 C626.72,155.53 628.38,158.60 629.30,161.60 C630.22,164.60 630.83,169.15 630.60,172.60 C630.37,176.05 629.28,180.22 627.90,182.30 C626.52,184.38 623.92,185.78 622.30,185.10 C620.68,184.42 619.12,181.43 618.20,178.20 C617.28,174.97 616.57,169.40 616.80,165.70 C617.03,162.00 618.22,157.85 619.60,156.00Z" fill="#fff3ea" opacity="0.85" filter="url(#softB)"/>
<path d="M590.50,185.10 C591.65,183.72 596.48,181.38 597.40,182.30 C598.32,183.22 597.15,189.22 596.00,190.60 C594.85,191.98 591.42,191.52 590.50,190.60 C589.58,189.68 589.35,186.48 590.50,185.10Z" fill="#25924a" opacity="1"/>
<path d="M575.2,196.2 L580.8,194.8" fill="none" stroke="#25924a" stroke-width="1.5" opacity="1.0" stroke-linecap="round" stroke-linejoin="round"/>
<circle cx="662.5" cy="109.5" r="3.2" fill="#2a73b8"/>
<text x="669.00" y="112.80" font-size="9.5" text-anchor="start" fill="#1a1a1a" font-weight="normal" >Slide-seq V2</text>
<circle cx="662.5" cy="124.4" r="3.2" fill="#f5801f"/>
<text x="669.00" y="127.70" font-size="9.5" text-anchor="start" fill="#1a1a1a" font-weight="normal" >Stereo-seq</text>
<circle cx="662.5" cy="139.1" r="3.2" fill="#2a9a5c"/>
<text x="669.00" y="142.40" font-size="9.5" text-anchor="start" fill="#1a1a1a" font-weight="normal" >Visium</text>
<text x="0.00" y="209.80" font-size="13.5" text-anchor="start" fill="#000" font-weight="bold" >c</text>
<text x="166.50" y="209.80" font-size="9.6" text-anchor="middle" fill="#1a1a1a" font-weight="normal" >Batch</text>
<text x="166.50" y="220.80" font-size="9.6" text-anchor="middle" fill="#1a1a1a" font-weight="normal" >correction</text>
<text x="292.80" y="209.80" font-size="9.6" text-anchor="middle" fill="#1a1a1a" font-weight="normal" >Aggregate</text>
<text x="292.80" y="220.80" font-size="9.6" text-anchor="middle" fill="#1a1a1a" font-weight="normal" >score</text>
<line x1="73.7" y1="225.2" x2="262" y2="225.2" stroke="#333" stroke-width="0.6"/>
<line x1="274.2" y1="225.2" x2="311.8" y2="225.2" stroke="#333" stroke-width="0.6"/>
<text x="7.80" y="239.50" font-size="6.9" text-anchor="start" fill="#1a1a1a" font-weight="normal" >Method</text>
<text x="84.00" y="235.30" font-size="6.9" text-anchor="middle" fill="#1a1a1a" font-weight="normal" >Silhouette</text>
<text x="84.00" y="243.50" font-size="6.9" text-anchor="middle" fill="#1a1a1a" font-weight="normal" >batch</text>
<text x="125.30" y="239.50" font-size="6.9" text-anchor="middle" fill="#1a1a1a" font-weight="normal" >iLISI</text>
<text x="166.20" y="239.50" font-size="6.9" text-anchor="middle" fill="#1a1a1a" font-weight="normal" >KBET</text>
<text x="207.30" y="235.30" font-size="6.9" text-anchor="middle" fill="#1a1a1a" font-weight="normal" >Graph</text>
<text x="207.30" y="243.50" font-size="6.9" text-anchor="middle" fill="#1a1a1a" font-weight="normal" >connectivity</text>
<text x="251.60" y="235.30" font-size="6.9" text-anchor="middle" fill="#1a1a1a" font-weight="normal" >PCR</text>
<text x="251.60" y="243.50" font-size="6.9" text-anchor="middle" fill="#1a1a1a" font-weight="normal" >comparison</text>
<text x="292.80" y="235.30" font-size="6.9" text-anchor="middle" fill="#1a1a1a" font-weight="normal" >Batch</text>
<text x="292.80" y="243.50" font-size="6.9" text-anchor="middle" fill="#1a1a1a" font-weight="normal" >correction</text>
<line x1="0" y1="249.3" x2="313.5" y2="249.3" stroke="#333" stroke-width="0.7"/>
<line x1="272.4" y1="249.3" x2="272.4" y2="417.7" stroke="#333" stroke-width="0.7"/>
<line x1="0" y1="417.7" x2="313.5" y2="417.7" stroke="#333" stroke-width="0.7"/>
<text x="7.80" y="263.80" font-size="6.9" text-anchor="start" fill="#1a1a1a" font-weight="normal" >STAMP</text>
<circle cx="84.00" cy="261.30" r="9.3" fill="#cfecc9"/><text x="84.00" y="263.89" font-size="7.2" text-anchor="middle" fill="#222222" font-weight="normal" >0.83</text>
<circle cx="125.30" cy="261.30" r="9.3" fill="#085423"/><text x="125.30" y="263.89" font-size="7.2" text-anchor="middle" fill="#ffffff" font-weight="normal" >0.17</text>
<circle cx="166.20" cy="261.30" r="9.3" fill="#0e5e29"/><text x="166.20" y="263.89" font-size="7.2" text-anchor="middle" fill="#ffffff" font-weight="normal" >0.38</text>
<circle cx="207.30" cy="261.30" r="9.3" fill="#f7f7f7"/><text x="207.30" y="263.89" font-size="7.2" text-anchor="middle" fill="#222222" font-weight="normal" >0.90</text>
<circle cx="251.60" cy="261.30" r="9.3" fill="#1b7837"/><text x="251.60" y="263.89" font-size="7.2" text-anchor="middle" fill="#ffffff" font-weight="normal" >0.98</text>
<rect x="272.7" y="255.10" width="26.26" height="12.5" fill="#2b83c1"/>
<text x="296.46" y="263.90" font-size="7.2" text-anchor="end" fill="#1a2a44" font-weight="normal" >0.65</text>
<text x="7.80" y="287.80" font-size="6.9" text-anchor="start" fill="#1a1a1a" font-weight="normal" >LDVAE</text>
<circle cx="84.00" cy="285.30" r="9.3" fill="#a6dba0"/><text x="84.00" y="287.89" font-size="7.2" text-anchor="middle" fill="#222222" font-weight="normal" >0.88</text>
<circle cx="125.30" cy="285.30" r="9.3" fill="#e2f2de"/><text x="125.30" y="287.89" font-size="7.2" text-anchor="middle" fill="#222222" font-weight="normal" >0.02</text>
<circle cx="166.20" cy="285.30" r="9.3" fill="#62b267"/><text x="166.20" y="287.89" font-size="7.2" text-anchor="middle" fill="#222222" font-weight="normal" >0.24</text>
<circle cx="207.30" cy="285.30" r="9.3" fill="#caeac4"/><text x="207.30" y="287.89" font-size="7.2" text-anchor="middle" fill="#222222" font-weight="normal" >0.93</text>
<circle cx="251.60" cy="285.30" r="9.3" fill="#5aae61"/><text x="251.60" y="287.89" font-size="7.2" text-anchor="middle" fill="#ffffff" font-weight="normal" >0.70</text>
<rect x="272.7" y="279.10" width="22.22" height="12.5" fill="#36a6cf"/>
<text x="292.42" y="287.90" font-size="7.2" text-anchor="end" fill="#1a2a44" font-weight="normal" >0.55</text>
<text x="7.80" y="311.80" font-size="6.9" text-anchor="start" fill="#1a1a1a" font-weight="normal" >PRECAST</text>
<circle cx="84.00" cy="309.30" r="9.3" fill="#c2a5cf"/><text x="84.00" y="311.89" font-size="7.2" text-anchor="middle" fill="#222222" font-weight="normal" >0.68</text>
<circle cx="125.30" cy="309.30" r="9.3" fill="#f7f7f7"/><text x="125.30" y="311.89" font-size="7.2" text-anchor="middle" fill="#222222" font-weight="normal" >0.00</text>
<circle cx="166.20" cy="309.30" r="9.3" fill="#f7f7f7"/><text x="166.20" y="311.89" font-size="7.2" text-anchor="middle" fill="#222222" font-weight="normal" >0.04</text>
<circle cx="207.30" cy="309.30" r="9.3" fill="#b0dfaa"/><text x="207.30" y="311.89" font-size="7.2" text-anchor="middle" fill="#222222" font-weight="normal" >0.95</text>
<circle cx="251.60" cy="309.30" r="9.3" fill="#187334"/><text x="251.60" y="311.89" font-size="7.2" text-anchor="middle" fill="#ffffff" font-weight="normal" >0.94</text>
<rect x="272.7" y="303.10" width="21.01" height="12.5" fill="#3cb0cd"/>
<text x="291.21" y="311.90" font-size="7.2" text-anchor="end" fill="#1a2a44" font-weight="normal" >0.52</text>
<text x="7.80" y="335.80" font-size="6.9" text-anchor="start" fill="#1a1a1a" font-weight="normal" >NMF</text>
<circle cx="84.00" cy="333.30" r="9.3" fill="#f7f7f7"/><text x="84.00" y="335.89" font-size="7.2" text-anchor="middle" fill="#222222" font-weight="normal" >0.79</text>
<circle cx="125.30" cy="333.30" r="9.3" fill="#f7f7f7"/><text x="125.30" y="335.89" font-size="7.2" text-anchor="middle" fill="#222222" font-weight="normal" >0.00</text>
<circle cx="166.20" cy="333.30" r="9.3" fill="#f7f7f7"/><text x="166.20" y="335.89" font-size="7.2" text-anchor="middle" fill="#222222" font-weight="normal" >0.05</text>
<circle cx="207.30" cy="333.30" r="9.3" fill="#479e54"/><text x="207.30" y="335.89" font-size="7.2" text-anchor="middle" fill="#ffffff" font-weight="normal" >0.99</text>
<circle cx="251.60" cy="333.30" r="9.3" fill="#f7f7f7"/><text x="251.60" y="335.89" font-size="7.2" text-anchor="middle" fill="#222222" font-weight="normal" >0.00</text>
<rect x="272.7" y="327.10" width="14.95" height="12.5" fill="#8ed3c0"/>
<text x="290.65" y="335.90" font-size="7.2" text-anchor="start" fill="#222" font-weight="normal" >0.37</text>
<text x="7.80" y="359.80" font-size="6.9" text-anchor="start" fill="#1a1a1a" font-weight="normal" >PCA</text>
<circle cx="84.00" cy="357.30" r="9.3" fill="#c0e6ba"/><text x="84.00" y="359.89" font-size="7.2" text-anchor="middle" fill="#222222" font-weight="normal" >0.86</text>
<circle cx="125.30" cy="357.30" r="9.3" fill="#f7f7f7"/><text x="125.30" y="359.89" font-size="7.2" text-anchor="middle" fill="#222222" font-weight="normal" >0.00</text>
<circle cx="166.20" cy="357.30" r="9.3" fill="#f7f7f7"/><text x="166.20" y="359.89" font-size="7.2" text-anchor="middle" fill="#222222" font-weight="normal" >0.03</text>
<circle cx="207.30" cy="357.30" r="9.3" fill="#d8c1de"/><text x="207.30" y="359.89" font-size="7.2" text-anchor="middle" fill="#222222" font-weight="normal" >0.86</text>
<circle cx="251.60" cy="357.30" r="9.3" fill="#f7f7f7"/><text x="251.60" y="359.89" font-size="7.2" text-anchor="middle" fill="#222222" font-weight="normal" >0.00</text>
<rect x="272.7" y="351.10" width="14.14" height="12.5" fill="#94d5bf"/>
<text x="289.84" y="359.90" font-size="7.2" text-anchor="start" fill="#222" font-weight="normal" >0.35</text>
<text x="7.80" y="383.80" font-size="6.9" text-anchor="start" fill="#1a1a1a" font-weight="normal" >LDA</text>
<circle cx="84.00" cy="381.30" r="9.3" fill="#e7d4e8"/><text x="84.00" y="383.89" font-size="7.2" text-anchor="middle" fill="#222222" font-weight="normal" >0.74</text>
<circle cx="125.30" cy="381.30" r="9.3" fill="#f7f7f7"/><text x="125.30" y="383.89" font-size="7.2" text-anchor="middle" fill="#222222" font-weight="normal" >0.00</text>
<circle cx="166.20" cy="381.30" r="9.3" fill="#f7f7f7"/><text x="166.20" y="383.89" font-size="7.2" text-anchor="middle" fill="#222222" font-weight="normal" >0.04</text>
<circle cx="207.30" cy="381.30" r="9.3" fill="#dcc6e0"/><text x="207.30" y="383.89" font-size="7.2" text-anchor="middle" fill="#222222" font-weight="normal" >0.87</text>
<circle cx="251.60" cy="381.30" r="9.3" fill="#f7f7f7"/><text x="251.60" y="383.89" font-size="7.2" text-anchor="middle" fill="#222222" font-weight="normal" >0.00</text>
<rect x="272.7" y="375.10" width="13.33" height="12.5" fill="#a2d9bc"/>
<text x="289.03" y="383.90" font-size="7.2" text-anchor="start" fill="#222" font-weight="normal" >0.33</text>
<text x="7.80" y="407.80" font-size="6.9" text-anchor="start" fill="#1a1a1a" font-weight="normal" >NSFH</text>
<circle cx="84.00" cy="405.30" r="9.3" fill="#762a83"/><text x="84.00" y="407.89" font-size="7.2" text-anchor="middle" fill="#ffffff" font-weight="normal" >0.58</text>
<circle cx="125.30" cy="405.30" r="9.3" fill="#f7f7f7"/><text x="125.30" y="407.89" font-size="7.2" text-anchor="middle" fill="#222222" font-weight="normal" >0.00</text>
<circle cx="166.20" cy="405.30" r="9.3" fill="#ede2ee"/><text x="166.20" y="407.89" font-size="7.2" text-anchor="middle" fill="#222222" font-weight="normal" >0.00</text>
<circle cx="207.30" cy="405.30" r="9.3" fill="#c2a5cf"/><text x="207.30" y="407.89" font-size="7.2" text-anchor="middle" fill="#222222" font-weight="normal" >0.85</text>
<circle cx="251.60" cy="405.30" r="9.3" fill="#f7f7f7"/><text x="251.60" y="407.89" font-size="7.2" text-anchor="middle" fill="#222222" font-weight="normal" >0.00</text>
<rect x="272.7" y="399.10" width="11.31" height="12.5" fill="#b8e2b4"/>
<text x="287.01" y="407.90" font-size="7.2" text-anchor="start" fill="#222" font-weight="normal" >0.28</text>
<text x="346.50" y="256.80" font-size="13.5" text-anchor="start" fill="#000" font-weight="bold" >d</text>
<rect x="412.90" y="267.80" width="15.44" height="16.50" fill="#7e0723" stroke="#9c9c9c" stroke-width="0.3"/>
<rect x="428.34" y="267.80" width="15.44" height="16.50" fill="#d6604d" stroke="#9c9c9c" stroke-width="0.3"/>
<rect x="443.78" y="267.80" width="15.44" height="16.50" fill="#fbe3d5" stroke="#9c9c9c" stroke-width="0.3"/>
<rect x="459.22" y="267.80" width="15.44" height="16.50" fill="#f9efe9" stroke="#9c9c9c" stroke-width="0.3"/>
<rect x="474.66" y="267.80" width="15.44" height="16.50" fill="#fae9df" stroke="#9c9c9c" stroke-width="0.3"/>
<rect x="490.10" y="267.80" width="15.44" height="16.50" fill="#e0ecf3" stroke="#9c9c9c" stroke-width="0.3"/>
<rect x="505.54" y="267.80" width="15.44" height="16.50" fill="#f9efe9" stroke="#9c9c9c" stroke-width="0.3"/>
<rect x="520.98" y="267.80" width="15.44" height="16.50" fill="#3986bc" stroke="#9c9c9c" stroke-width="0.3"/>
<rect x="536.42" y="267.80" width="15.44" height="16.50" fill="#3986bc" stroke="#9c9c9c" stroke-width="0.3"/>
<rect x="551.86" y="267.80" width="15.44" height="16.50" fill="#2166ac" stroke="#9c9c9c" stroke-width="0.3"/>
<rect x="567.30" y="267.80" width="15.44" height="16.50" fill="#3986bc" stroke="#9c9c9c" stroke-width="0.3"/>
<rect x="582.74" y="267.80" width="15.44" height="16.50" fill="#3986bc" stroke="#9c9c9c" stroke-width="0.3"/>
<rect x="598.18" y="267.80" width="15.44" height="16.50" fill="#7ab6d6" stroke="#9c9c9c" stroke-width="0.3"/>
<rect x="613.62" y="267.80" width="15.44" height="16.50" fill="#408ec1" stroke="#9c9c9c" stroke-width="0.3"/>
<rect x="629.06" y="267.80" width="15.44" height="16.50" fill="#327cb8" stroke="#9c9c9c" stroke-width="0.3"/>
<rect x="644.50" y="267.80" width="15.44" height="16.50" fill="#134b86" stroke="#9c9c9c" stroke-width="0.3"/>
<rect x="412.90" y="284.30" width="15.44" height="16.50" fill="#fce1d1" stroke="#9c9c9c" stroke-width="0.3"/>
<rect x="428.34" y="284.30" width="15.44" height="16.50" fill="#fbd0b9" stroke="#9c9c9c" stroke-width="0.3"/>
<rect x="443.78" y="284.30" width="15.44" height="16.50" fill="#6e0220" stroke="#9c9c9c" stroke-width="0.3"/>
<rect x="459.22" y="284.30" width="15.44" height="16.50" fill="#d6604d" stroke="#9c9c9c" stroke-width="0.3"/>
<rect x="474.66" y="284.30" width="15.44" height="16.50" fill="#b2182b" stroke="#9c9c9c" stroke-width="0.3"/>
<rect x="490.10" y="284.30" width="15.44" height="16.50" fill="#f9efe9" stroke="#9c9c9c" stroke-width="0.3"/>
<rect x="505.54" y="284.30" width="15.44" height="16.50" fill="#d6604d" stroke="#9c9c9c" stroke-width="0.3"/>
<rect x="520.98" y="284.30" width="15.44" height="16.50" fill="#2166ac" stroke="#9c9c9c" stroke-width="0.3"/>
<rect x="536.42" y="284.30" width="15.44" height="16.50" fill="#286fb1" stroke="#9c9c9c" stroke-width="0.3"/>
<rect x="551.86" y="284.30" width="15.44" height="16.50" fill="#0d4078" stroke="#9c9c9c" stroke-width="0.3"/>
<rect x="567.30" y="284.30" width="15.44" height="16.50" fill="#2b74b3" stroke="#9c9c9c" stroke-width="0.3"/>
<rect x="582.74" y="284.30" width="15.44" height="16.50" fill="#286fb1" stroke="#9c9c9c" stroke-width="0.3"/>
<rect x="598.18" y="284.30" width="15.44" height="16.50" fill="#2b74b3" stroke="#9c9c9c" stroke-width="0.3"/>
<rect x="613.62" y="284.30" width="15.44" height="16.50" fill="#2166ac" stroke="#9c9c9c" stroke-width="0.3"/>
<rect x="629.06" y="284.30" width="15.44" height="16.50" fill="#3986bc" stroke="#9c9c9c" stroke-width="0.3"/>
<rect x="644.50" y="284.30" width="15.44" height="16.50" fill="#10467f" stroke="#9c9c9c" stroke-width="0.3"/>
<rect x="412.90" y="300.80" width="15.44" height="16.50" fill="#fbd0b9" stroke="#9c9c9c" stroke-width="0.3"/>
<rect x="428.34" y="300.80" width="15.44" height="16.50" fill="#d1e5f0" stroke="#9c9c9c" stroke-width="0.3"/>
<rect x="443.78" y="300.80" width="15.44" height="16.50" fill="#f9efe9" stroke="#9c9c9c" stroke-width="0.3"/>
<rect x="459.22" y="300.80" width="15.44" height="16.50" fill="#a31329" stroke="#9c9c9c" stroke-width="0.3"/>
<rect x="474.66" y="300.80" width="15.44" height="16.50" fill="#dc6e58" stroke="#9c9c9c" stroke-width="0.3"/>
<rect x="490.10" y="300.80" width="15.44" height="16.50" fill="#c43c3c" stroke="#9c9c9c" stroke-width="0.3"/>
<rect x="505.54" y="300.80" width="15.44" height="16.50" fill="#9b1127" stroke="#9c9c9c" stroke-width="0.3"/>
<rect x="520.98" y="300.80" width="15.44" height="16.50" fill="#286fb1" stroke="#9c9c9c" stroke-width="0.3"/>
<rect x="536.42" y="300.80" width="15.44" height="16.50" fill="#286fb1" stroke="#9c9c9c" stroke-width="0.3"/>
<rect x="551.86" y="300.80" width="15.44" height="16.50" fill="#246aae" stroke="#9c9c9c" stroke-width="0.3"/>
<rect x="567.30" y="300.80" width="15.44" height="16.50" fill="#2b74b3" stroke="#9c9c9c" stroke-width="0.3"/>
<rect x="582.74" y="300.80" width="15.44" height="16.50" fill="#286fb1" stroke="#9c9c9c" stroke-width="0.3"/>
<rect x="598.18" y="300.80" width="15.44" height="16.50" fill="#fce1d1" stroke="#9c9c9c" stroke-width="0.3"/>
<rect x="613.62" y="300.80" width="15.44" height="16.50" fill="#f9efe9" stroke="#9c9c9c" stroke-width="0.3"/>
<rect x="629.06" y="300.80" width="15.44" height="16.50" fill="#3986bc" stroke="#9c9c9c" stroke-width="0.3"/>
<rect x="644.50" y="300.80" width="15.44" height="16.50" fill="#134b86" stroke="#9c9c9c" stroke-width="0.3"/>
<rect x="412.90" y="317.30" width="15.44" height="16.50" fill="#c4dfec" stroke="#9c9c9c" stroke-width="0.3"/>
<rect x="428.34" y="317.30" width="15.44" height="16.50" fill="#3986bc" stroke="#9c9c9c" stroke-width="0.3"/>
<rect x="443.78" y="317.30" width="15.44" height="16.50" fill="#6aacd0" stroke="#9c9c9c" stroke-width="0.3"/>
<rect x="459.22" y="317.30" width="15.44" height="16.50" fill="#fbe6da" stroke="#9c9c9c" stroke-width="0.3"/>
<rect x="474.66" y="317.30" width="15.44" height="16.50" fill="#b2d5e7" stroke="#9c9c9c" stroke-width="0.3"/>
<rect x="490.10" y="317.30" width="15.44" height="16.50" fill="#f9efe9" stroke="#9c9c9c" stroke-width="0.3"/>
<rect x="505.54" y="317.30" width="15.44" height="16.50" fill="#fae9df" stroke="#9c9c9c" stroke-width="0.3"/>
<rect x="520.98" y="317.30" width="15.44" height="16.50" fill="#d6604d" stroke="#9c9c9c" stroke-width="0.3"/>
<rect x="536.42" y="317.30" width="15.44" height="16.50" fill="#d6604d" stroke="#9c9c9c" stroke-width="0.3"/>
<rect x="551.86" y="317.30" width="15.44" height="16.50" fill="#c43c3c" stroke="#9c9c9c" stroke-width="0.3"/>
<rect x="567.30" y="317.30" width="15.44" height="16.50" fill="#fddbc7" stroke="#9c9c9c" stroke-width="0.3"/>
<rect x="582.74" y="317.30" width="15.44" height="16.50" fill="#d6604d" stroke="#9c9c9c" stroke-width="0.3"/>
<rect x="598.18" y="317.30" width="15.44" height="16.50" fill="#ee9777" stroke="#9c9c9c" stroke-width="0.3"/>
<rect x="613.62" y="317.30" width="15.44" height="16.50" fill="#d9e9f1" stroke="#9c9c9c" stroke-width="0.3"/>
<rect x="629.06" y="317.30" width="15.44" height="16.50" fill="#3986bc" stroke="#9c9c9c" stroke-width="0.3"/>
<rect x="644.50" y="317.30" width="15.44" height="16.50" fill="#134b86" stroke="#9c9c9c" stroke-width="0.3"/>
<rect x="412.90" y="333.80" width="15.44" height="16.50" fill="#ecf2f5" stroke="#9c9c9c" stroke-width="0.3"/>
<rect x="428.34" y="333.80" width="15.44" height="16.50" fill="#3986bc" stroke="#9c9c9c" stroke-width="0.3"/>
<rect x="443.78" y="333.80" width="15.44" height="16.50" fill="#3986bc" stroke="#9c9c9c" stroke-width="0.3"/>
<rect x="459.22" y="333.80" width="15.44" height="16.50" fill="#c4dfec" stroke="#9c9c9c" stroke-width="0.3"/>
<rect x="474.66" y="333.80" width="15.44" height="16.50" fill="#92c5de" stroke="#9c9c9c" stroke-width="0.3"/>
<rect x="490.10" y="333.80" width="15.44" height="16.50" fill="#d1e5f0" stroke="#9c9c9c" stroke-width="0.3"/>
<rect x="505.54" y="333.80" width="15.44" height="16.50" fill="#bedbeb" stroke="#9c9c9c" stroke-width="0.3"/>
<rect x="520.98" y="333.80" width="15.44" height="16.50" fill="#ab162a" stroke="#9c9c9c" stroke-width="0.3"/>
<rect x="536.42" y="333.80" width="15.44" height="16.50" fill="#df755d" stroke="#9c9c9c" stroke-width="0.3"/>
<rect x="551.86" y="333.80" width="15.44" height="16.50" fill="#e8f0f4" stroke="#9c9c9c" stroke-width="0.3"/>
<rect x="567.30" y="333.80" width="15.44" height="16.50" fill="#6e0220" stroke="#9c9c9c" stroke-width="0.3"/>
<rect x="582.74" y="333.80" width="15.44" height="16.50" fill="#b2182b" stroke="#9c9c9c" stroke-width="0.3"/>
<rect x="598.18" y="333.80" width="15.44" height="16.50" fill="#c4dfec" stroke="#9c9c9c" stroke-width="0.3"/>
<rect x="613.62" y="333.80" width="15.44" height="16.50" fill="#e8f0f4" stroke="#9c9c9c" stroke-width="0.3"/>
<rect x="629.06" y="333.80" width="15.44" height="16.50" fill="#3986bc" stroke="#9c9c9c" stroke-width="0.3"/>
<rect x="644.50" y="333.80" width="15.44" height="16.50" fill="#3c8abe" stroke="#9c9c9c" stroke-width="0.3"/>
<rect x="412.90" y="350.30" width="15.44" height="16.50" fill="#abd2e5" stroke="#9c9c9c" stroke-width="0.3"/>
<rect x="428.34" y="350.30" width="15.44" height="16.50" fill="#3c8abe" stroke="#9c9c9c" stroke-width="0.3"/>
<rect x="443.78" y="350.30" width="15.44" height="16.50" fill="#16508e" stroke="#9c9c9c" stroke-width="0.3"/>
<rect x="459.22" y="350.30" width="15.44" height="16.50" fill="#327cb8" stroke="#9c9c9c" stroke-width="0.3"/>
<rect x="474.66" y="350.30" width="15.44" height="16.50" fill="#3c8abe" stroke="#9c9c9c" stroke-width="0.3"/>
<rect x="490.10" y="350.30" width="15.44" height="16.50" fill="#f4a582" stroke="#9c9c9c" stroke-width="0.3"/>
<rect x="505.54" y="350.30" width="15.44" height="16.50" fill="#327cb8" stroke="#9c9c9c" stroke-width="0.3"/>
<rect x="520.98" y="350.30" width="15.44" height="16.50" fill="#abd2e5" stroke="#9c9c9c" stroke-width="0.3"/>
<rect x="536.42" y="350.30" width="15.44" height="16.50" fill="#abd2e5" stroke="#9c9c9c" stroke-width="0.3"/>
<rect x="551.86" y="350.30" width="15.44" height="16.50" fill="#0d4078" stroke="#9c9c9c" stroke-width="0.3"/>
<rect x="567.30" y="350.30" width="15.44" height="16.50" fill="#fce1d1" stroke="#9c9c9c" stroke-width="0.3"/>
<rect x="582.74" y="350.30" width="15.44" height="16.50" fill="#a5cfe3" stroke="#9c9c9c" stroke-width="0.3"/>
<rect x="598.18" y="350.30" width="15.44" height="16.50" fill="#b2182b" stroke="#9c9c9c" stroke-width="0.3"/>
<rect x="613.62" y="350.30" width="15.44" height="16.50" fill="#b2182b" stroke="#9c9c9c" stroke-width="0.3"/>
<rect x="629.06" y="350.30" width="15.44" height="16.50" fill="#c4dfec" stroke="#9c9c9c" stroke-width="0.3"/>
<rect x="644.50" y="350.30" width="15.44" height="16.50" fill="#3c8abe" stroke="#9c9c9c" stroke-width="0.3"/>
<rect x="412.90" y="366.80" width="15.44" height="16.50" fill="#5ba2cb" stroke="#9c9c9c" stroke-width="0.3"/>
<rect x="428.34" y="366.80" width="15.44" height="16.50" fill="#134b86" stroke="#9c9c9c" stroke-width="0.3"/>
<rect x="443.78" y="366.80" width="15.44" height="16.50" fill="#3986bc" stroke="#9c9c9c" stroke-width="0.3"/>
<rect x="459.22" y="366.80" width="15.44" height="16.50" fill="#63a7ce" stroke="#9c9c9c" stroke-width="0.3"/>
<rect x="474.66" y="366.80" width="15.44" height="16.50" fill="#5ba2cb" stroke="#9c9c9c" stroke-width="0.3"/>
<rect x="490.10" y="366.80" width="15.44" height="16.50" fill="#7ab6d6" stroke="#9c9c9c" stroke-width="0.3"/>
<rect x="505.54" y="366.80" width="15.44" height="16.50" fill="#5ba2cb" stroke="#9c9c9c" stroke-width="0.3"/>
<rect x="520.98" y="366.80" width="15.44" height="16.50" fill="#5ba2cb" stroke="#9c9c9c" stroke-width="0.3"/>
<rect x="536.42" y="366.80" width="15.44" height="16.50" fill="#408ec1" stroke="#9c9c9c" stroke-width="0.3"/>
<rect x="551.86" y="366.80" width="15.44" height="16.50" fill="#3c8abe" stroke="#9c9c9c" stroke-width="0.3"/>
<rect x="567.30" y="366.80" width="15.44" height="16.50" fill="#92c5de" stroke="#9c9c9c" stroke-width="0.3"/>
<rect x="582.74" y="366.80" width="15.44" height="16.50" fill="#63a7ce" stroke="#9c9c9c" stroke-width="0.3"/>
<rect x="598.18" y="366.80" width="15.44" height="16.50" fill="#e8f0f4" stroke="#9c9c9c" stroke-width="0.3"/>
<rect x="613.62" y="366.80" width="15.44" height="16.50" fill="#e0ecf3" stroke="#9c9c9c" stroke-width="0.3"/>
<rect x="629.06" y="366.80" width="15.44" height="16.50" fill="#7e0723" stroke="#9c9c9c" stroke-width="0.3"/>
<rect x="644.50" y="366.80" width="15.44" height="16.50" fill="#a31329" stroke="#9c9c9c" stroke-width="0.3"/>
<text x="420.62" y="278.75" font-size="7.6" text-anchor="middle" fill="#fff" font-weight="normal" >1</text>
<text x="436.06" y="278.75" font-size="7.6" text-anchor="middle" fill="#fff" font-weight="normal" >19</text>
<text x="451.50" y="295.25" font-size="7.6" text-anchor="middle" fill="#fff" font-weight="normal" >1</text>
<text x="466.94" y="295.25" font-size="7.6" text-anchor="middle" fill="#fff" font-weight="normal" >11</text>
<text x="482.38" y="295.25" font-size="7.6" text-anchor="middle" fill="#fff" font-weight="normal" >2</text>
<text x="513.26" y="295.25" font-size="7.6" text-anchor="middle" fill="#fff" font-weight="normal" >11</text>
<text x="466.94" y="311.75" font-size="7.6" text-anchor="middle" fill="#fff" font-weight="normal" >1</text>
<text x="482.38" y="311.75" font-size="7.6" text-anchor="middle" fill="#fff" font-weight="normal" >20</text>
<text x="497.82" y="311.75" font-size="7.6" text-anchor="middle" fill="#fff" font-weight="normal" >3</text>
<text x="513.26" y="311.75" font-size="7.6" text-anchor="middle" fill="#fff" font-weight="normal" >1</text>
<text x="528.70" y="328.25" font-size="7.6" text-anchor="middle" fill="#fff" font-weight="normal" >11</text>
<text x="544.14" y="328.25" font-size="7.6" text-anchor="middle" fill="#fff" font-weight="normal" >8</text>
<text x="559.58" y="328.25" font-size="7.6" text-anchor="middle" fill="#fff" font-weight="normal" >2</text>
<text x="575.02" y="344.75" font-size="7.6" text-anchor="middle" fill="#fff" font-weight="normal" >1</text>
<text x="590.46" y="344.75" font-size="7.6" text-anchor="middle" fill="#fff" font-weight="normal" >2</text>
<text x="605.90" y="361.25" font-size="7.6" text-anchor="middle" fill="#fff" font-weight="normal" >2</text>
<text x="621.34" y="361.25" font-size="7.6" text-anchor="middle" fill="#fff" font-weight="normal" >3</text>
<text x="636.78" y="377.75" font-size="7.6" text-anchor="middle" fill="#fff" font-weight="normal" >7</text>
<text x="652.22" y="377.75" font-size="7.6" text-anchor="middle" fill="#fff" font-weight="normal" >11</text>
<text x="406.20" y="279.45" font-size="9.3" text-anchor="end" fill="#1a1a1a" font-weight="normal" >RMS (Topic 4)</text>
<line x1="409.6" y1="276.05" x2="412.9" y2="276.05" stroke="#333" stroke-width="0.6"/>
<text x="406.20" y="295.95" font-size="9.3" text-anchor="end" fill="#1a1a1a" font-weight="normal" >GCL (Topic 5)</text>
<line x1="409.6" y1="292.55" x2="412.9" y2="292.55" stroke="#333" stroke-width="0.6"/>
<text x="406.20" y="312.45" font-size="9.3" text-anchor="end" fill="#1a1a1a" font-weight="normal" >IPL (Topic 10)</text>
<line x1="409.6" y1="309.05" x2="412.9" y2="309.05" stroke="#333" stroke-width="0.6"/>
<text x="406.20" y="328.95" font-size="9.3" text-anchor="end" fill="#1a1a1a" font-weight="normal" >MCL (Topic 12)</text>
<line x1="409.6" y1="325.55" x2="412.9" y2="325.55" stroke="#333" stroke-width="0.6"/>
<text x="406.20" y="345.45" font-size="9.3" text-anchor="end" fill="#1a1a1a" font-weight="normal" >EPL (Topic 2)</text>
<line x1="409.6" y1="342.05" x2="412.9" y2="342.05" stroke="#333" stroke-width="0.6"/>
<text x="406.20" y="361.95" font-size="9.3" text-anchor="end" fill="#1a1a1a" font-weight="normal" >GL (Topic 8)</text>
<line x1="409.6" y1="358.55" x2="412.9" y2="358.55" stroke="#333" stroke-width="0.6"/>
<text x="406.20" y="378.45" font-size="9.3" text-anchor="end" fill="#1a1a1a" font-weight="normal" >ONL (Topic 11)</text>
<line x1="409.6" y1="375.05" x2="412.9" y2="375.05" stroke="#333" stroke-width="0.6"/>
<line x1="420.62" y1="383.30" x2="420.62" y2="386.30" stroke="#333" stroke-width="0.6"/>
<text x="0.00" y="0.00" font-size="9.3" text-anchor="end" fill="#1a1a1a" font-weight="normal" transform="translate(423.92,388.30) rotate(-90)">Mbp</text>
<line x1="436.06" y1="383.30" x2="436.06" y2="386.30" stroke="#333" stroke-width="0.6"/>
<text x="0.00" y="0.00" font-size="9.3" text-anchor="end" fill="#1a1a1a" font-weight="normal" transform="translate(439.36,388.30) rotate(-90)">Sox11</text>
<line x1="451.50" y1="383.30" x2="451.50" y2="386.30" stroke="#333" stroke-width="0.6"/>
<text x="0.00" y="0.00" font-size="9.3" text-anchor="end" fill="#1a1a1a" font-weight="normal" transform="translate(454.80,388.30) rotate(-90)">Nrgn</text>
<line x1="466.94" y1="383.30" x2="466.94" y2="386.30" stroke="#333" stroke-width="0.6"/>
<text x="0.00" y="0.00" font-size="9.3" text-anchor="end" fill="#1a1a1a" font-weight="normal" transform="translate(470.24,388.30) rotate(-90)">Pcp4</text>
<line x1="482.38" y1="383.30" x2="482.38" y2="386.30" stroke="#333" stroke-width="0.6"/>
<text x="0.00" y="0.00" font-size="9.3" text-anchor="end" fill="#1a1a1a" font-weight="normal" transform="translate(485.68,388.30) rotate(-90)">Penk</text>
<line x1="497.82" y1="383.30" x2="497.82" y2="386.30" stroke="#333" stroke-width="0.6"/>
<text x="0.00" y="0.00" font-size="9.3" text-anchor="end" fill="#1a1a1a" font-weight="normal" transform="translate(501.12,388.30) rotate(-90)">Gad1</text>
<line x1="513.26" y1="383.30" x2="513.26" y2="386.30" stroke="#333" stroke-width="0.6"/>
<text x="0.00" y="0.00" font-size="9.3" text-anchor="end" fill="#1a1a1a" font-weight="normal" transform="translate(516.56,388.30) rotate(-90)">Pcp4</text>
<line x1="528.70" y1="383.30" x2="528.70" y2="386.30" stroke="#333" stroke-width="0.6"/>
<text x="0.00" y="0.00" font-size="9.3" text-anchor="end" fill="#1a1a1a" font-weight="normal" transform="translate(532.00,388.30) rotate(-90)">Cdhr1</text>
<line x1="544.14" y1="383.30" x2="544.14" y2="386.30" stroke="#333" stroke-width="0.6"/>
<text x="0.00" y="0.00" font-size="9.3" text-anchor="end" fill="#1a1a1a" font-weight="normal" transform="translate(547.44,388.30) rotate(-90)">Doc2g</text>
<line x1="559.58" y1="383.30" x2="559.58" y2="386.30" stroke="#333" stroke-width="0.6"/>
<text x="0.00" y="0.00" font-size="9.3" text-anchor="end" fill="#1a1a1a" font-weight="normal" transform="translate(562.88,388.30) rotate(-90)">Shisa3</text>
<line x1="575.02" y1="383.30" x2="575.02" y2="386.30" stroke="#333" stroke-width="0.6"/>
<text x="0.00" y="0.00" font-size="9.3" text-anchor="end" fill="#1a1a1a" font-weight="normal" transform="translate(578.32,388.30) rotate(-90)">Cck</text>
<line x1="590.46" y1="383.30" x2="590.46" y2="386.30" stroke="#333" stroke-width="0.6"/>
<text x="0.00" y="0.00" font-size="9.3" text-anchor="end" fill="#1a1a1a" font-weight="normal" transform="translate(593.76,388.30) rotate(-90)">Cdhr1</text>
<line x1="605.90" y1="383.30" x2="605.90" y2="386.30" stroke="#333" stroke-width="0.6"/>
<text x="0.00" y="0.00" font-size="9.3" text-anchor="end" fill="#1a1a1a" font-weight="normal" transform="translate(609.20,388.30) rotate(-90)">Calb2</text>
<line x1="621.34" y1="383.30" x2="621.34" y2="386.30" stroke="#333" stroke-width="0.6"/>
<text x="0.00" y="0.00" font-size="9.3" text-anchor="end" fill="#1a1a1a" font-weight="normal" transform="translate(624.64,388.30) rotate(-90)">Th</text>
<line x1="636.78" y1="383.30" x2="636.78" y2="386.30" stroke="#333" stroke-width="0.6"/>
<text x="0.00" y="0.00" font-size="9.3" text-anchor="end" fill="#1a1a1a" font-weight="normal" transform="translate(640.08,388.30) rotate(-90)">Kctd12</text>
<line x1="652.22" y1="383.30" x2="652.22" y2="386.30" stroke="#333" stroke-width="0.6"/>
<text x="0.00" y="0.00" font-size="9.3" text-anchor="end" fill="#1a1a1a" font-weight="normal" transform="translate(655.52,388.30) rotate(-90)">Omp</text>
<path d="M415.90,266.6 V262.6 H440.78 V266.6" fill="none" stroke="#444" stroke-width="0.6"/>
<text x="428.34" y="258.30" font-size="9.3" text-anchor="middle" fill="#1a1a1a" font-weight="normal" >RMS</text>
<path d="M446.78,266.6 V262.6 H487.10 V266.6" fill="none" stroke="#444" stroke-width="0.6"/>
<text x="466.94" y="258.30" font-size="9.3" text-anchor="middle" fill="#1a1a1a" font-weight="normal" >GCL</text>
<path d="M493.10,266.6 V262.6 H517.98 V266.6" fill="none" stroke="#444" stroke-width="0.6"/>
<text x="505.54" y="258.30" font-size="9.3" text-anchor="middle" fill="#1a1a1a" font-weight="normal" >IPL</text>
<path d="M523.98,266.6 V262.6 H564.30 V266.6" fill="none" stroke="#444" stroke-width="0.6"/>
<text x="544.14" y="258.30" font-size="9.3" text-anchor="middle" fill="#1a1a1a" font-weight="normal" >MCL</text>
<path d="M570.30,266.6 V262.6 H595.18 V266.6" fill="none" stroke="#444" stroke-width="0.6"/>
<text x="582.74" y="258.30" font-size="9.3" text-anchor="middle" fill="#1a1a1a" font-weight="normal" >EPL</text>
<path d="M601.18,266.6 V262.6 H626.06 V266.6" fill="none" stroke="#444" stroke-width="0.6"/>
<text x="613.62" y="258.30" font-size="9.3" text-anchor="middle" fill="#1a1a1a" font-weight="normal" >GL</text>
<path d="M632.06,266.6 V262.6 H656.94 V266.6" fill="none" stroke="#444" stroke-width="0.6"/>
<text x="644.50" y="258.30" font-size="9.3" text-anchor="middle" fill="#1a1a1a" font-weight="normal" >ONL</text>
<linearGradient id="rdbuG" x1="0" y1="0" x2="0" y2="1"><stop offset="0.0" stop-color="#67001f"/><stop offset="0.1" stop-color="#b2182b"/><stop offset="0.2" stop-color="#d6604d"/><stop offset="0.3" stop-color="#f4a582"/><stop offset="0.4" stop-color="#fddbc7"/><stop offset="0.5" stop-color="#f7f7f7"/><stop offset="0.6" stop-color="#d1e5f0"/><stop offset="0.7" stop-color="#92c5de"/><stop offset="0.8" stop-color="#4393c3"/><stop offset="0.9" stop-color="#2166ac"/><stop offset="1.0" stop-color="#053061"/></linearGradient>
<rect x="686.3" y="298.2" width="10.2" height="68.4" fill="url(#rdbuG)"/>
<text x="691.30" y="283.30" font-size="9.3" text-anchor="middle" fill="#1a1a1a" font-weight="normal" >Gene module</text>
<text x="691.30" y="293.00" font-size="9.3" text-anchor="middle" fill="#1a1a1a" font-weight="normal" >score</text>
<text x="699.00" y="305.30" font-size="9.3" text-anchor="start" fill="#1a1a1a" font-weight="normal" >High</text>
<text x="699.00" y="366.00" font-size="9.3" text-anchor="start" fill="#1a1a1a" font-weight="normal" >Low</text>
<text x="0.00" y="445.30" font-size="13.5" text-anchor="start" fill="#000" font-weight="bold" >e</text>
<text x="88.20" y="446.00" font-size="9.3" text-anchor="middle" fill="#1a1a1a" font-weight="normal" >RMS (Topic 4)</text>
<text x="178.90" y="446.00" font-size="9.3" text-anchor="middle" fill="#1a1a1a" font-weight="normal" >GCL (Topic 5)</text>
<text x="270.20" y="446.00" font-size="9.3" text-anchor="middle" fill="#1a1a1a" font-weight="normal" >IPL (Topic 10)</text>
<text x="356.50" y="446.00" font-size="9.3" text-anchor="middle" fill="#1a1a1a" font-weight="normal" >MCL (Topic 12)</text>
<text x="447.50" y="446.00" font-size="9.3" text-anchor="middle" fill="#1a1a1a" font-weight="normal" >EPL (Topic 2)</text>
<text x="539.20" y="446.00" font-size="9.3" text-anchor="middle" fill="#1a1a1a" font-weight="normal" >GL (Topic 8)</text>
<text x="625.80" y="446.00" font-size="9.3" text-anchor="middle" fill="#1a1a1a" font-weight="normal" >ONL (Topic 11)</text>
<text x="5.00" y="481.00" font-size="9.3" text-anchor="start" fill="#1a1a1a" font-weight="normal" >Visium</text>
<text x="5.00" y="547.80" font-size="9.3" text-anchor="start" fill="#1a1a1a" font-weight="normal" >Stereo-seq</text>
<text x="4.00" y="613.60" font-size="9.3" text-anchor="start" fill="#1a1a1a" font-weight="normal" >Slide-seq V2</text>
<path d="M55.00,464.00 C56.07,460.68 58.08,457.07 60.60,455.20 C63.12,453.33 66.92,453.07 70.10,452.80 C73.28,452.53 77.03,453.07 79.70,453.60 C82.37,454.13 83.97,455.87 86.10,456.00 C88.23,456.13 89.83,454.80 92.50,454.40 C95.17,454.00 98.63,453.47 102.10,453.60 C105.57,453.73 110.23,453.73 113.30,455.20 C116.37,456.67 119.03,459.33 120.50,462.40 C121.97,465.47 122.23,469.62 122.10,473.60 C121.97,477.58 121.17,482.85 119.70,486.30 C118.23,489.75 116.23,492.30 113.30,494.30 C110.37,496.30 106.63,497.77 102.10,498.30 C97.57,498.83 90.63,497.37 86.10,497.50 C81.57,497.63 78.62,499.37 74.90,499.10 C71.18,498.83 66.85,497.77 63.80,495.90 C60.75,494.03 58.20,491.37 56.60,487.90 C55.00,484.43 54.47,479.08 54.20,475.10 C53.93,471.12 53.93,467.32 55.00,464.00Z" fill="#f2ebf1"/>
<path d="M55.00,464.00 C56.07,460.68 58.08,457.07 60.60,455.20 C63.12,453.33 66.92,453.07 70.10,452.80 C73.28,452.53 77.03,453.07 79.70,453.60 C82.37,454.13 83.97,455.87 86.10,456.00 C88.23,456.13 89.83,454.80 92.50,454.40 C95.17,454.00 98.63,453.47 102.10,453.60 C105.57,453.73 110.23,453.73 113.30,455.20 C116.37,456.67 119.03,459.33 120.50,462.40 C121.97,465.47 122.23,469.62 122.10,473.60 C121.97,477.58 121.17,482.85 119.70,486.30 C118.23,489.75 116.23,492.30 113.30,494.30 C110.37,496.30 106.63,497.77 102.10,498.30 C97.57,498.83 90.63,497.37 86.10,497.50 C81.57,497.63 78.62,499.37 74.90,499.10 C71.18,498.83 66.85,497.77 63.80,495.90 C60.75,494.03 58.20,491.37 56.60,487.90 C55.00,484.43 54.47,479.08 54.20,475.10 C53.93,471.12 53.93,467.32 55.00,464.00Z" fill="#fff" filter="url(#spPkV)"/>
<clipPath id="clipV0"><path d="M55.00,464.00 C56.07,460.68 58.08,457.07 60.60,455.20 C63.12,453.33 66.92,453.07 70.10,452.80 C73.28,452.53 77.03,453.07 79.70,453.60 C82.37,454.13 83.97,455.87 86.10,456.00 C88.23,456.13 89.83,454.80 92.50,454.40 C95.17,454.00 98.63,453.47 102.10,453.60 C105.57,453.73 110.23,453.73 113.30,455.20 C116.37,456.67 119.03,459.33 120.50,462.40 C121.97,465.47 122.23,469.62 122.10,473.60 C121.97,477.58 121.17,482.85 119.70,486.30 C118.23,489.75 116.23,492.30 113.30,494.30 C110.37,496.30 106.63,497.77 102.10,498.30 C97.57,498.83 90.63,497.37 86.10,497.50 C81.57,497.63 78.62,499.37 74.90,499.10 C71.18,498.83 66.85,497.77 63.80,495.90 C60.75,494.03 58.20,491.37 56.60,487.90 C55.00,484.43 54.47,479.08 54.20,475.10 C53.93,471.12 53.93,467.32 55.00,464.00Z"/></clipPath>
<g clip-path="url(#clipV0)">
<g filter="url(#magF)">
<path d="M66.78,462.93 C67.52,461.29 69.33,458.50 70.63,457.61 C71.92,456.73 73.62,456.47 74.55,457.61 C75.48,458.75 76.04,462.05 76.23,464.45 C76.42,466.86 75.67,469.28 75.67,472.05 C75.67,474.83 76.32,478.31 76.23,481.08 C76.14,483.85 75.76,487.03 75.11,488.68 C74.46,490.33 73.06,491.47 72.31,490.96 C71.56,490.45 70.99,488.05 70.63,485.64 C70.27,483.23 70.59,478.78 70.14,476.52 C69.69,474.26 68.55,473.56 67.90,472.05 C67.25,470.55 66.41,469.01 66.22,467.49 C66.03,465.97 66.05,464.58 66.78,462.93Z" fill="#c35fc0" opacity="0.26"/>
<path d="M69.69,463.26 C70.00,461.66 70.78,458.96 71.34,458.10 C71.89,457.24 72.62,457.00 73.02,458.10 C73.42,459.21 73.66,462.40 73.74,464.73 C73.82,467.06 73.50,469.40 73.50,472.09 C73.50,474.77 73.78,478.14 73.74,480.83 C73.70,483.51 73.54,486.59 73.26,488.19 C72.98,489.78 72.38,490.89 72.06,490.40 C71.74,489.90 71.49,487.57 71.34,485.24 C71.18,482.91 71.32,478.60 71.13,476.41 C70.93,474.22 70.45,473.54 70.17,472.09 C69.89,470.63 69.53,469.14 69.45,467.67 C69.37,466.20 69.37,464.85 69.69,463.26Z" fill="#a0229e" opacity="0.64"/>
<path d="M97.58,462.21 C98.04,460.82 99.35,459.30 100.38,459.17 C101.40,459.05 102.71,459.93 103.74,461.45 C104.76,462.97 106.07,465.77 106.54,468.29 C107.00,470.81 106.72,473.66 106.54,476.56 C106.35,479.45 105.98,483.40 105.42,485.68 C104.86,487.96 103.92,489.86 103.18,490.24 C102.43,490.62 101.40,489.48 100.94,487.96 C100.47,486.44 100.66,483.76 100.38,481.12 C100.10,478.47 99.72,474.36 99.26,472.09 C98.79,469.83 97.86,469.18 97.58,467.53 C97.30,465.89 97.11,463.61 97.58,462.21Z" fill="#c35fc0" opacity="0.26"/>
<path d="M100.08,462.58 C100.28,461.23 100.84,459.76 101.28,459.64 C101.72,459.51 102.28,460.37 102.72,461.84 C103.16,463.32 103.72,466.03 103.92,468.47 C104.12,470.91 104.00,473.67 103.92,476.47 C103.84,479.28 103.68,483.10 103.44,485.30 C103.20,487.51 102.80,489.35 102.48,489.72 C102.16,490.09 101.72,488.98 101.52,487.51 C101.32,486.04 101.40,483.45 101.28,480.89 C101.16,478.33 101.00,474.34 100.80,472.15 C100.60,469.95 100.20,469.33 100.08,467.73 C99.96,466.14 99.88,463.93 100.08,462.58Z" fill="#a0229e" opacity="0.64"/>
</g></g>
<path d="M55.00,464.00 C56.07,460.68 58.08,457.07 60.60,455.20 C63.12,453.33 66.92,453.07 70.10,452.80 C73.28,452.53 77.03,453.07 79.70,453.60 C82.37,454.13 83.97,455.87 86.10,456.00 C88.23,456.13 89.83,454.80 92.50,454.40 C95.17,454.00 98.63,453.47 102.10,453.60 C105.57,453.73 110.23,453.73 113.30,455.20 C116.37,456.67 119.03,459.33 120.50,462.40 C121.97,465.47 122.23,469.62 122.10,473.60 C121.97,477.58 121.17,482.85 119.70,486.30 C118.23,489.75 116.23,492.30 113.30,494.30 C110.37,496.30 106.63,497.77 102.10,498.30 C97.57,498.83 90.63,497.37 86.10,497.50 C81.57,497.63 78.62,499.37 74.90,499.10 C71.18,498.83 66.85,497.77 63.80,495.90 C60.75,494.03 58.20,491.37 56.60,487.90 C55.00,484.43 54.47,479.08 54.20,475.10 C53.93,471.12 53.93,467.32 55.00,464.00Z" fill="url(#dotsV)"/>
<path d="M55.80,529.76 C57.40,525.89 60.35,520.60 63.80,518.11 C67.25,515.61 72.78,514.92 76.50,514.78 C80.22,514.64 83.70,516.44 86.10,517.28 C88.50,518.11 89.03,519.69 90.90,519.77 C92.77,519.86 94.37,517.93 97.30,517.80 C100.23,517.66 105.03,517.50 108.50,518.94 C111.97,520.38 115.83,522.98 118.10,526.43 C120.37,529.88 121.70,535.22 122.10,539.64 C122.50,544.06 121.97,549.07 120.50,552.95 C119.03,556.83 116.37,560.57 113.30,562.93 C110.23,565.29 105.83,566.68 102.10,567.09 C98.37,567.51 94.63,565.29 90.90,565.43 C87.17,565.57 83.68,568.06 79.70,567.92 C75.72,567.79 70.72,566.81 67.00,564.60 C63.28,562.38 59.53,558.49 57.40,554.61 C55.27,550.73 54.47,545.44 54.20,541.30 C53.93,537.16 54.20,533.62 55.80,529.76Z" fill="#ecd7e8"/>
<path d="M55.80,529.76 C57.40,525.89 60.35,520.60 63.80,518.11 C67.25,515.61 72.78,514.92 76.50,514.78 C80.22,514.64 83.70,516.44 86.10,517.28 C88.50,518.11 89.03,519.69 90.90,519.77 C92.77,519.86 94.37,517.93 97.30,517.80 C100.23,517.66 105.03,517.50 108.50,518.94 C111.97,520.38 115.83,522.98 118.10,526.43 C120.37,529.88 121.70,535.22 122.10,539.64 C122.50,544.06 121.97,549.07 120.50,552.95 C119.03,556.83 116.37,560.57 113.30,562.93 C110.23,565.29 105.83,566.68 102.10,567.09 C98.37,567.51 94.63,565.29 90.90,565.43 C87.17,565.57 83.68,568.06 79.70,567.92 C75.72,567.79 70.72,566.81 67.00,564.60 C63.28,562.38 59.53,558.49 57.40,554.61 C55.27,550.73 54.47,545.44 54.20,541.30 C53.93,537.16 54.20,533.62 55.80,529.76Z" fill="#fff" filter="url(#spPk)"/>
<clipPath id="clipS0"><path d="M55.80,529.76 C57.40,525.89 60.35,520.60 63.80,518.11 C67.25,515.61 72.78,514.92 76.50,514.78 C80.22,514.64 83.70,516.44 86.10,517.28 C88.50,518.11 89.03,519.69 90.90,519.77 C92.77,519.86 94.37,517.93 97.30,517.80 C100.23,517.66 105.03,517.50 108.50,518.94 C111.97,520.38 115.83,522.98 118.10,526.43 C120.37,529.88 121.70,535.22 122.10,539.64 C122.50,544.06 121.97,549.07 120.50,552.95 C119.03,556.83 116.37,560.57 113.30,562.93 C110.23,565.29 105.83,566.68 102.10,567.09 C98.37,567.51 94.63,565.29 90.90,565.43 C87.17,565.57 83.68,568.06 79.70,567.92 C75.72,567.79 70.72,566.81 67.00,564.60 C63.28,562.38 59.53,558.49 57.40,554.61 C55.27,550.73 54.47,545.44 54.20,541.30 C53.93,537.16 54.20,533.62 55.80,529.76Z"/></clipPath>
<g clip-path="url(#clipS0)">
<g filter="url(#magF)">
<path d="M68.53,530.66 C69.08,528.39 70.43,525.72 71.82,524.58 C73.21,523.44 75.56,523.31 76.86,523.82 C78.17,524.33 79.29,525.48 79.66,527.62 C80.04,529.76 79.66,534.13 79.10,536.64 C78.54,539.16 76.77,540.19 76.30,542.72 C75.84,545.26 76.68,549.31 76.30,551.84 C75.93,554.38 74.90,557.42 74.06,557.92 C73.22,558.43 71.73,557.16 71.26,554.88 C70.80,552.60 71.72,547.03 71.26,544.24 C70.81,541.46 68.99,540.43 68.53,538.16 C68.08,535.90 67.98,532.92 68.53,530.66Z" fill="#c35fc0" opacity="0.26"/>
<path d="M71.64,530.93 C71.88,528.74 72.46,526.15 73.05,525.05 C73.65,523.94 74.65,523.82 75.21,524.31 C75.77,524.80 76.25,525.92 76.41,527.99 C76.57,530.06 76.41,534.29 76.17,536.73 C75.93,539.17 75.17,540.16 74.97,542.62 C74.77,545.07 75.13,549.00 74.97,551.45 C74.81,553.90 74.37,556.85 74.01,557.34 C73.65,557.83 73.01,556.60 72.81,554.39 C72.61,552.19 73.01,546.79 72.81,544.09 C72.62,541.39 71.84,540.39 71.64,538.20 C71.45,536.01 71.41,533.13 71.64,530.93Z" fill="#a0229e" opacity="0.64"/>
<path d="M100.52,527.72 C101.02,525.33 102.66,525.44 103.88,525.44 C105.09,525.44 106.67,525.84 107.80,527.72 C108.92,529.60 109.85,534.99 110.59,536.75 C111.34,538.50 112.18,536.24 112.28,538.27 C112.37,540.29 111.81,545.61 111.16,548.91 C110.50,552.20 109.48,556.25 108.36,558.03 C107.23,559.80 105.56,560.56 104.44,559.55 C103.31,558.53 102.23,555.24 101.64,551.95 C101.04,548.65 101.05,543.82 100.87,539.79 C100.68,535.75 100.01,530.11 100.52,527.72Z" fill="#c35fc0" opacity="0.26"/>
<path d="M103.74,528.15 C103.95,525.84 104.66,525.94 105.18,525.94 C105.70,525.94 106.38,526.33 106.86,528.15 C107.34,529.98 107.74,535.19 108.06,536.89 C108.38,538.59 108.74,536.40 108.78,538.36 C108.81,540.33 108.58,545.48 108.30,548.67 C108.02,551.86 107.58,555.78 107.10,557.50 C106.62,559.22 105.90,559.95 105.42,558.97 C104.94,557.99 104.47,554.80 104.22,551.61 C103.96,548.42 103.97,543.75 103.89,539.84 C103.81,535.93 103.52,530.47 103.74,528.15Z" fill="#a0229e" opacity="0.64"/>
</g></g>
<path d="M55.80,529.76 C57.40,525.89 60.35,520.60 63.80,518.11 C67.25,515.61 72.78,514.92 76.50,514.78 C80.22,514.64 83.70,516.44 86.10,517.28 C88.50,518.11 89.03,519.69 90.90,519.77 C92.77,519.86 94.37,517.93 97.30,517.80 C100.23,517.66 105.03,517.50 108.50,518.94 C111.97,520.38 115.83,522.98 118.10,526.43 C120.37,529.88 121.70,535.22 122.10,539.64 C122.50,544.06 121.97,549.07 120.50,552.95 C119.03,556.83 116.37,560.57 113.30,562.93 C110.23,565.29 105.83,566.68 102.10,567.09 C98.37,567.51 94.63,565.29 90.90,565.43 C87.17,565.57 83.68,568.06 79.70,567.92 C75.72,567.79 70.72,566.81 67.00,564.60 C63.28,562.38 59.53,558.49 57.40,554.61 C55.27,550.73 54.47,545.44 54.20,541.30 C53.93,537.16 54.20,533.62 55.80,529.76Z" fill="url(#dotsS)"/>
<path d="M108.2,529.3 L115.2,537.3 L116.2,533.3" fill="none" stroke="#ffffff" stroke-width="1.3" stroke-linejoin="round"/>
<line x1="101.2" y1="549.3" x2="101.2" y2="552.3" stroke="#ffffff" stroke-width="1.2"/>
<circle cx="81.0" cy="606.5" r="23.6" fill="#efe8ee"/>
<g filter="url(#magF)">
<path d="M69.00,592.50 C68.92,594.00 68.33,598.50 68.50,601.50 C68.67,604.50 69.83,607.67 70.00,610.50 C70.17,613.33 69.58,617.17 69.50,618.50" fill="none" stroke="#a0229e" stroke-width="1.36" opacity="0.72" stroke-linecap="round"/>
<path d="M94.00,594.50 C94.42,596.00 96.00,600.50 96.50,603.50 C97.00,606.50 97.08,609.33 97.00,612.50 C96.92,615.67 96.17,620.83 96.00,622.50" fill="none" stroke="#a0229e" stroke-width="1.36" opacity="0.72" stroke-linecap="round"/>
<path d="M65.00,594.50 C64.83,596.50 63.83,602.50 64.00,606.50 C64.17,610.50 65.67,616.50 66.00,618.50" fill="none" stroke="#c35fc0" stroke-width="2.98" opacity="0.17" stroke-linecap="round"/>
</g>
<circle cx="81.0" cy="606.5" r="23.6" fill="url(#dotsL)"/>
<path d="M145.70,464.00 C146.77,460.68 148.78,457.07 151.30,455.20 C153.82,453.33 157.62,453.07 160.80,452.80 C163.98,452.53 167.73,453.07 170.40,453.60 C173.07,454.13 174.67,455.87 176.80,456.00 C178.93,456.13 180.53,454.80 183.20,454.40 C185.87,454.00 189.33,453.47 192.80,453.60 C196.27,453.73 200.93,453.73 204.00,455.20 C207.07,456.67 209.73,459.33 211.20,462.40 C212.67,465.47 212.93,469.62 212.80,473.60 C212.67,477.58 211.87,482.85 210.40,486.30 C208.93,489.75 206.93,492.30 204.00,494.30 C201.07,496.30 197.33,497.77 192.80,498.30 C188.27,498.83 181.33,497.37 176.80,497.50 C172.27,497.63 169.32,499.37 165.60,499.10 C161.88,498.83 157.55,497.77 154.50,495.90 C151.45,494.03 148.90,491.37 147.30,487.90 C145.70,484.43 145.17,479.08 144.90,475.10 C144.63,471.12 144.63,467.32 145.70,464.00Z" fill="#f2ebf1"/>
<path d="M145.70,464.00 C146.77,460.68 148.78,457.07 151.30,455.20 C153.82,453.33 157.62,453.07 160.80,452.80 C163.98,452.53 167.73,453.07 170.40,453.60 C173.07,454.13 174.67,455.87 176.80,456.00 C178.93,456.13 180.53,454.80 183.20,454.40 C185.87,454.00 189.33,453.47 192.80,453.60 C196.27,453.73 200.93,453.73 204.00,455.20 C207.07,456.67 209.73,459.33 211.20,462.40 C212.67,465.47 212.93,469.62 212.80,473.60 C212.67,477.58 211.87,482.85 210.40,486.30 C208.93,489.75 206.93,492.30 204.00,494.30 C201.07,496.30 197.33,497.77 192.80,498.30 C188.27,498.83 181.33,497.37 176.80,497.50 C172.27,497.63 169.32,499.37 165.60,499.10 C161.88,498.83 157.55,497.77 154.50,495.90 C151.45,494.03 148.90,491.37 147.30,487.90 C145.70,484.43 145.17,479.08 144.90,475.10 C144.63,471.12 144.63,467.32 145.70,464.00Z" fill="#fff" filter="url(#spPkV)"/>
<clipPath id="clipV1"><path d="M145.70,464.00 C146.77,460.68 148.78,457.07 151.30,455.20 C153.82,453.33 157.62,453.07 160.80,452.80 C163.98,452.53 167.73,453.07 170.40,453.60 C173.07,454.13 174.67,455.87 176.80,456.00 C178.93,456.13 180.53,454.80 183.20,454.40 C185.87,454.00 189.33,453.47 192.80,453.60 C196.27,453.73 200.93,453.73 204.00,455.20 C207.07,456.67 209.73,459.33 211.20,462.40 C212.67,465.47 212.93,469.62 212.80,473.60 C212.67,477.58 211.87,482.85 210.40,486.30 C208.93,489.75 206.93,492.30 204.00,494.30 C201.07,496.30 197.33,497.77 192.80,498.30 C188.27,498.83 181.33,497.37 176.80,497.50 C172.27,497.63 169.32,499.37 165.60,499.10 C161.88,498.83 157.55,497.77 154.50,495.90 C151.45,494.03 148.90,491.37 147.30,487.90 C145.70,484.43 145.17,479.08 144.90,475.10 C144.63,471.12 144.63,467.32 145.70,464.00Z"/></clipPath>
<g clip-path="url(#clipV1)">
<g filter="url(#magF)">
<path d="M155.66,462.40 C156.66,460.67 159.13,457.73 160.89,456.80 C162.65,455.87 164.94,455.60 166.21,456.80 C167.48,458.00 168.24,461.47 168.49,464.00 C168.74,466.53 167.73,469.08 167.73,472.00 C167.73,474.92 168.62,478.58 168.49,481.50 C168.36,484.42 167.86,487.77 166.97,489.50 C166.08,491.23 164.18,492.43 163.17,491.90 C162.16,491.37 161.38,488.83 160.89,486.30 C160.40,483.77 160.84,479.08 160.22,476.70 C159.61,474.32 158.07,473.58 157.18,472.00 C156.30,470.42 155.16,468.80 154.90,467.20 C154.65,465.60 154.67,464.13 155.66,462.40Z" fill="#c35fc0" opacity="0.21"/>
<path d="M158.06,463.47 C158.71,461.91 160.32,459.27 161.47,458.43 C162.62,457.59 164.12,457.35 164.94,458.43 C165.77,459.51 166.27,462.63 166.43,464.91 C166.60,467.19 165.94,469.48 165.94,472.11 C165.94,474.73 166.51,478.03 166.43,480.66 C166.35,483.28 166.02,486.30 165.44,487.86 C164.86,489.42 163.62,490.50 162.96,490.02 C162.30,489.54 161.79,487.26 161.47,484.98 C161.15,482.70 161.44,478.48 161.04,476.34 C160.63,474.19 159.63,473.53 159.05,472.11 C158.47,470.68 157.73,469.23 157.57,467.79 C157.40,466.35 157.41,465.03 158.06,463.47Z" fill="none" stroke="#a0229e" stroke-width="2.30" opacity="0.68"/>
<path d="M186.71,461.60 C187.35,460.13 189.12,458.53 190.51,458.40 C191.91,458.27 193.68,459.20 195.07,460.80 C196.47,462.40 198.24,465.35 198.87,468.00 C199.51,470.65 199.13,473.65 198.87,476.70 C198.62,479.75 198.11,483.90 197.35,486.30 C196.59,488.70 195.33,490.70 194.31,491.10 C193.30,491.50 191.91,490.30 191.27,488.70 C190.64,487.10 190.89,484.28 190.51,481.50 C190.13,478.72 189.63,474.38 188.99,472.00 C188.36,469.62 187.09,468.93 186.71,467.20 C186.33,465.47 186.08,463.07 186.71,461.60Z" fill="#c35fc0" opacity="0.21"/>
<path d="M188.78,462.82 C189.19,461.50 190.35,460.06 191.26,459.94 C192.17,459.82 193.32,460.66 194.23,462.10 C195.14,463.54 196.30,466.20 196.71,468.58 C197.13,470.97 196.88,473.67 196.71,476.41 C196.55,479.16 196.22,482.89 195.72,485.05 C195.22,487.21 194.40,489.01 193.74,489.37 C193.08,489.73 192.17,488.65 191.75,487.21 C191.34,485.77 191.50,483.24 191.26,480.73 C191.01,478.23 190.68,474.33 190.26,472.18 C189.85,470.04 189.02,469.42 188.78,467.86 C188.53,466.30 188.36,464.14 188.78,462.82Z" fill="none" stroke="#a0229e" stroke-width="2.30" opacity="0.68"/>
</g></g>
<path d="M145.70,464.00 C146.77,460.68 148.78,457.07 151.30,455.20 C153.82,453.33 157.62,453.07 160.80,452.80 C163.98,452.53 167.73,453.07 170.40,453.60 C173.07,454.13 174.67,455.87 176.80,456.00 C178.93,456.13 180.53,454.80 183.20,454.40 C185.87,454.00 189.33,453.47 192.80,453.60 C196.27,453.73 200.93,453.73 204.00,455.20 C207.07,456.67 209.73,459.33 211.20,462.40 C212.67,465.47 212.93,469.62 212.80,473.60 C212.67,477.58 211.87,482.85 210.40,486.30 C208.93,489.75 206.93,492.30 204.00,494.30 C201.07,496.30 197.33,497.77 192.80,498.30 C188.27,498.83 181.33,497.37 176.80,497.50 C172.27,497.63 169.32,499.37 165.60,499.10 C161.88,498.83 157.55,497.77 154.50,495.90 C151.45,494.03 148.90,491.37 147.30,487.90 C145.70,484.43 145.17,479.08 144.90,475.10 C144.63,471.12 144.63,467.32 145.70,464.00Z" fill="url(#dotsV)"/>
<path d="M146.50,529.76 C148.10,525.89 151.05,520.60 154.50,518.11 C157.95,515.61 163.48,514.92 167.20,514.78 C170.92,514.64 174.40,516.44 176.80,517.28 C179.20,518.11 179.73,519.69 181.60,519.77 C183.47,519.86 185.07,517.93 188.00,517.80 C190.93,517.66 195.73,517.50 199.20,518.94 C202.67,520.38 206.53,522.98 208.80,526.43 C211.07,529.88 212.40,535.22 212.80,539.64 C213.20,544.06 212.67,549.07 211.20,552.95 C209.73,556.83 207.07,560.57 204.00,562.93 C200.93,565.29 196.53,566.68 192.80,567.09 C189.07,567.51 185.33,565.29 181.60,565.43 C177.87,565.57 174.38,568.06 170.40,567.92 C166.42,567.79 161.42,566.81 157.70,564.60 C153.98,562.38 150.23,558.49 148.10,554.61 C145.97,550.73 145.17,545.44 144.90,541.30 C144.63,537.16 144.90,533.62 146.50,529.76Z" fill="#ecd7e8"/>
<path d="M146.50,529.76 C148.10,525.89 151.05,520.60 154.50,518.11 C157.95,515.61 163.48,514.92 167.20,514.78 C170.92,514.64 174.40,516.44 176.80,517.28 C179.20,518.11 179.73,519.69 181.60,519.77 C183.47,519.86 185.07,517.93 188.00,517.80 C190.93,517.66 195.73,517.50 199.20,518.94 C202.67,520.38 206.53,522.98 208.80,526.43 C211.07,529.88 212.40,535.22 212.80,539.64 C213.20,544.06 212.67,549.07 211.20,552.95 C209.73,556.83 207.07,560.57 204.00,562.93 C200.93,565.29 196.53,566.68 192.80,567.09 C189.07,567.51 185.33,565.29 181.60,565.43 C177.87,565.57 174.38,568.06 170.40,567.92 C166.42,567.79 161.42,566.81 157.70,564.60 C153.98,562.38 150.23,558.49 148.10,554.61 C145.97,550.73 145.17,545.44 144.90,541.30 C144.63,537.16 144.90,533.62 146.50,529.76Z" fill="#fff" filter="url(#spPk)"/>
<clipPath id="clipS1"><path d="M146.50,529.76 C148.10,525.89 151.05,520.60 154.50,518.11 C157.95,515.61 163.48,514.92 167.20,514.78 C170.92,514.64 174.40,516.44 176.80,517.28 C179.20,518.11 179.73,519.69 181.60,519.77 C183.47,519.86 185.07,517.93 188.00,517.80 C190.93,517.66 195.73,517.50 199.20,518.94 C202.67,520.38 206.53,522.98 208.80,526.43 C211.07,529.88 212.40,535.22 212.80,539.64 C213.20,544.06 212.67,549.07 211.20,552.95 C209.73,556.83 207.07,560.57 204.00,562.93 C200.93,565.29 196.53,566.68 192.80,567.09 C189.07,567.51 185.33,565.29 181.60,565.43 C177.87,565.57 174.38,568.06 170.40,567.92 C166.42,567.79 161.42,566.81 157.70,564.60 C153.98,562.38 150.23,558.49 148.10,554.61 C145.97,550.73 145.17,545.44 144.90,541.30 C144.63,537.16 144.90,533.62 146.50,529.76Z"/></clipPath>
<g clip-path="url(#clipS1)">
<g filter="url(#magF)">
<path d="M157.29,530.20 C158.03,527.82 159.87,525.00 161.75,523.80 C163.64,522.60 166.82,522.47 168.59,523.00 C170.37,523.53 171.89,524.75 172.39,527.00 C172.90,529.25 172.39,533.85 171.63,536.50 C170.87,539.15 168.47,540.23 167.83,542.90 C167.20,545.57 168.34,549.83 167.83,552.50 C167.33,555.17 165.93,558.37 164.79,558.90 C163.65,559.43 161.63,558.10 160.99,555.70 C160.36,553.30 161.61,547.43 160.99,544.50 C160.38,541.57 157.91,540.48 157.29,538.10 C156.67,535.72 156.54,532.58 157.29,530.20Z" fill="#c35fc0" opacity="0.21"/>
<path d="M159.85,531.12 C160.34,528.97 161.54,526.44 162.77,525.36 C164.00,524.28 166.07,524.16 167.23,524.64 C168.39,525.12 169.38,526.21 169.71,528.24 C170.04,530.26 169.71,534.40 169.22,536.79 C168.72,539.17 167.15,540.15 166.74,542.55 C166.32,544.95 167.07,548.79 166.74,551.19 C166.40,553.59 165.50,556.47 164.75,556.95 C164.01,557.43 162.68,556.23 162.27,554.07 C161.86,551.91 162.67,546.63 162.27,543.99 C161.87,541.35 160.26,540.37 159.85,538.23 C159.45,536.08 159.37,533.26 159.85,531.12Z" fill="none" stroke="#a0229e" stroke-width="2.30" opacity="0.68"/>
<path d="M189.20,527.00 C189.88,524.48 192.12,524.60 193.76,524.60 C195.41,524.60 197.56,525.02 199.08,527.00 C200.60,528.98 201.87,534.65 202.88,536.50 C203.90,538.35 205.04,535.97 205.16,538.10 C205.29,540.23 204.53,545.83 203.64,549.30 C202.76,552.77 201.36,557.03 199.84,558.90 C198.32,560.77 196.04,561.57 194.52,560.50 C193.00,559.43 191.53,555.97 190.72,552.50 C189.91,549.03 189.93,543.95 189.68,539.70 C189.42,535.45 188.52,529.52 189.20,527.00Z" fill="#c35fc0" opacity="0.21"/>
<path d="M191.86,528.44 C192.30,526.18 193.76,526.28 194.84,526.28 C195.91,526.28 197.32,526.66 198.31,528.44 C199.30,530.23 200.13,535.33 200.79,536.99 C201.45,538.66 202.19,536.51 202.28,538.43 C202.36,540.35 201.86,545.39 201.28,548.51 C200.70,551.63 199.79,555.47 198.80,557.15 C197.81,558.83 196.32,559.55 195.33,558.59 C194.34,557.63 193.38,554.51 192.85,551.39 C192.32,548.27 192.33,543.70 192.17,539.87 C192.00,536.05 191.41,530.71 191.86,528.44Z" fill="none" stroke="#a0229e" stroke-width="2.30" opacity="0.68"/>
</g></g>
<path d="M146.50,529.76 C148.10,525.89 151.05,520.60 154.50,518.11 C157.95,515.61 163.48,514.92 167.20,514.78 C170.92,514.64 174.40,516.44 176.80,517.28 C179.20,518.11 179.73,519.69 181.60,519.77 C183.47,519.86 185.07,517.93 188.00,517.80 C190.93,517.66 195.73,517.50 199.20,518.94 C202.67,520.38 206.53,522.98 208.80,526.43 C211.07,529.88 212.40,535.22 212.80,539.64 C213.20,544.06 212.67,549.07 211.20,552.95 C209.73,556.83 207.07,560.57 204.00,562.93 C200.93,565.29 196.53,566.68 192.80,567.09 C189.07,567.51 185.33,565.29 181.60,565.43 C177.87,565.57 174.38,568.06 170.40,567.92 C166.42,567.79 161.42,566.81 157.70,564.60 C153.98,562.38 150.23,558.49 148.10,554.61 C145.97,550.73 145.17,545.44 144.90,541.30 C144.63,537.16 144.90,533.62 146.50,529.76Z" fill="url(#dotsS)"/>
<path d="M198.9,529.3 L205.9,537.3 L206.9,533.3" fill="none" stroke="#ffffff" stroke-width="1.3" stroke-linejoin="round"/>
<line x1="191.9" y1="549.3" x2="191.9" y2="552.3" stroke="#ffffff" stroke-width="1.2"/>
<circle cx="174.5" cy="606.5" r="23.6" fill="#efe8ee"/>
<g filter="url(#magF)">
<path d="M162.50,590.50 C162.17,592.17 161.00,597.17 160.50,600.50 C160.00,603.83 159.33,606.83 159.50,610.50 C159.67,614.17 161.17,620.50 161.50,622.50" fill="none" stroke="#a0229e" stroke-width="2.21" opacity="0.59" stroke-linecap="round"/>
<path d="M166.50,590.50 C166.33,592.50 165.67,598.83 165.50,602.50 C165.33,606.17 165.83,609.17 165.50,612.50 C165.17,615.83 163.83,620.83 163.50,622.50" fill="none" stroke="#a0229e" stroke-width="1.02" opacity="0.51" stroke-linecap="round"/>
<path d="M187.50,590.50 C188.17,592.17 190.67,597.17 191.50,600.50 C192.33,603.83 192.67,606.83 192.50,610.50 C192.33,614.17 190.83,620.50 190.50,622.50" fill="none" stroke="#a0229e" stroke-width="2.38" opacity="0.59" stroke-linecap="round"/>
</g>
<circle cx="174.5" cy="606.5" r="23.6" fill="url(#dotsL)"/>
<path d="M237.00,464.00 C238.07,460.68 240.08,457.07 242.60,455.20 C245.12,453.33 248.92,453.07 252.10,452.80 C255.28,452.53 259.03,453.07 261.70,453.60 C264.37,454.13 265.97,455.87 268.10,456.00 C270.23,456.13 271.83,454.80 274.50,454.40 C277.17,454.00 280.63,453.47 284.10,453.60 C287.57,453.73 292.23,453.73 295.30,455.20 C298.37,456.67 301.03,459.33 302.50,462.40 C303.97,465.47 304.23,469.62 304.10,473.60 C303.97,477.58 303.17,482.85 301.70,486.30 C300.23,489.75 298.23,492.30 295.30,494.30 C292.37,496.30 288.63,497.77 284.10,498.30 C279.57,498.83 272.63,497.37 268.10,497.50 C263.57,497.63 260.62,499.37 256.90,499.10 C253.18,498.83 248.85,497.77 245.80,495.90 C242.75,494.03 240.20,491.37 238.60,487.90 C237.00,484.43 236.47,479.08 236.20,475.10 C235.93,471.12 235.93,467.32 237.00,464.00Z" fill="#f2ebf1"/>
<path d="M237.00,464.00 C238.07,460.68 240.08,457.07 242.60,455.20 C245.12,453.33 248.92,453.07 252.10,452.80 C255.28,452.53 259.03,453.07 261.70,453.60 C264.37,454.13 265.97,455.87 268.10,456.00 C270.23,456.13 271.83,454.80 274.50,454.40 C277.17,454.00 280.63,453.47 284.10,453.60 C287.57,453.73 292.23,453.73 295.30,455.20 C298.37,456.67 301.03,459.33 302.50,462.40 C303.97,465.47 304.23,469.62 304.10,473.60 C303.97,477.58 303.17,482.85 301.70,486.30 C300.23,489.75 298.23,492.30 295.30,494.30 C292.37,496.30 288.63,497.77 284.10,498.30 C279.57,498.83 272.63,497.37 268.10,497.50 C263.57,497.63 260.62,499.37 256.90,499.10 C253.18,498.83 248.85,497.77 245.80,495.90 C242.75,494.03 240.20,491.37 238.60,487.90 C237.00,484.43 236.47,479.08 236.20,475.10 C235.93,471.12 235.93,467.32 237.00,464.00Z" fill="#fff" filter="url(#spPkV)"/>
<clipPath id="clipV2"><path d="M237.00,464.00 C238.07,460.68 240.08,457.07 242.60,455.20 C245.12,453.33 248.92,453.07 252.10,452.80 C255.28,452.53 259.03,453.07 261.70,453.60 C264.37,454.13 265.97,455.87 268.10,456.00 C270.23,456.13 271.83,454.80 274.50,454.40 C277.17,454.00 280.63,453.47 284.10,453.60 C287.57,453.73 292.23,453.73 295.30,455.20 C298.37,456.67 301.03,459.33 302.50,462.40 C303.97,465.47 304.23,469.62 304.10,473.60 C303.97,477.58 303.17,482.85 301.70,486.30 C300.23,489.75 298.23,492.30 295.30,494.30 C292.37,496.30 288.63,497.77 284.10,498.30 C279.57,498.83 272.63,497.37 268.10,497.50 C263.57,497.63 260.62,499.37 256.90,499.10 C253.18,498.83 248.85,497.77 245.80,495.90 C242.75,494.03 240.20,491.37 238.60,487.90 C237.00,484.43 236.47,479.08 236.20,475.10 C235.93,471.12 235.93,467.32 237.00,464.00Z"/></clipPath>
<g clip-path="url(#clipV2)">
<path d="M246.60,462.40 C247.65,460.67 250.25,457.73 252.10,456.80 C253.95,455.87 256.37,455.60 257.70,456.80 C259.03,458.00 259.83,461.47 260.10,464.00 C260.37,466.53 259.30,469.08 259.30,472.00 C259.30,474.92 260.23,478.58 260.10,481.50 C259.97,484.42 259.43,487.77 258.50,489.50 C257.57,491.23 255.57,492.43 254.50,491.90 C253.43,491.37 252.62,488.83 252.10,486.30 C251.58,483.77 252.05,479.08 251.40,476.70 C250.75,474.32 249.13,473.58 248.20,472.00 C247.27,470.42 246.07,468.80 245.80,467.20 C245.53,465.60 245.55,464.13 246.60,462.40Z" fill="#f3edf2"/>
<path d="M277.70,461.60 C278.37,460.13 280.23,458.53 281.70,458.40 C283.17,458.27 285.03,459.20 286.50,460.80 C287.97,462.40 289.83,465.35 290.50,468.00 C291.17,470.65 290.77,473.65 290.50,476.70 C290.23,479.75 289.70,483.90 288.90,486.30 C288.10,488.70 286.77,490.70 285.70,491.10 C284.63,491.50 283.17,490.30 282.50,488.70 C281.83,487.10 282.10,484.28 281.70,481.50 C281.30,478.72 280.77,474.38 280.10,472.00 C279.43,469.62 278.10,468.93 277.70,467.20 C277.30,465.47 277.03,463.07 277.70,461.60Z" fill="#f3edf2"/>
<g filter="url(#magF)">
<path d="M246.60,462.40 C247.65,460.67 250.25,457.73 252.10,456.80 C253.95,455.87 256.37,455.60 257.70,456.80 C259.03,458.00 259.83,461.47 260.10,464.00 C260.37,466.53 259.30,469.08 259.30,472.00 C259.30,474.92 260.23,478.58 260.10,481.50 C259.97,484.42 259.43,487.77 258.50,489.50 C257.57,491.23 255.57,492.43 254.50,491.90 C253.43,491.37 252.62,488.83 252.10,486.30 C251.58,483.77 252.05,479.08 251.40,476.70 C250.75,474.32 249.13,473.58 248.20,472.00 C247.27,470.42 246.07,468.80 245.80,467.20 C245.53,465.60 245.55,464.13 246.60,462.40Z" fill="none" stroke="#a0229e" stroke-width="1.56" opacity="0.81"/>
<path d="M277.70,461.60 C278.37,460.13 280.23,458.53 281.70,458.40 C283.17,458.27 285.03,459.20 286.50,460.80 C287.97,462.40 289.83,465.35 290.50,468.00 C291.17,470.65 290.77,473.65 290.50,476.70 C290.23,479.75 289.70,483.90 288.90,486.30 C288.10,488.70 286.77,490.70 285.70,491.10 C284.63,491.50 283.17,490.30 282.50,488.70 C281.83,487.10 282.10,484.28 281.70,481.50 C281.30,478.72 280.77,474.38 280.10,472.00 C279.43,469.62 278.10,468.93 277.70,467.20 C277.30,465.47 277.03,463.07 277.70,461.60Z" fill="none" stroke="#a0229e" stroke-width="1.56" opacity="0.81"/>
</g></g>
<path d="M237.00,464.00 C238.07,460.68 240.08,457.07 242.60,455.20 C245.12,453.33 248.92,453.07 252.10,452.80 C255.28,452.53 259.03,453.07 261.70,453.60 C264.37,454.13 265.97,455.87 268.10,456.00 C270.23,456.13 271.83,454.80 274.50,454.40 C277.17,454.00 280.63,453.47 284.10,453.60 C287.57,453.73 292.23,453.73 295.30,455.20 C298.37,456.67 301.03,459.33 302.50,462.40 C303.97,465.47 304.23,469.62 304.10,473.60 C303.97,477.58 303.17,482.85 301.70,486.30 C300.23,489.75 298.23,492.30 295.30,494.30 C292.37,496.30 288.63,497.77 284.10,498.30 C279.57,498.83 272.63,497.37 268.10,497.50 C263.57,497.63 260.62,499.37 256.90,499.10 C253.18,498.83 248.85,497.77 245.80,495.90 C242.75,494.03 240.20,491.37 238.60,487.90 C237.00,484.43 236.47,479.08 236.20,475.10 C235.93,471.12 235.93,467.32 237.00,464.00Z" fill="url(#dotsV)"/>
<path d="M237.80,529.76 C239.40,525.89 242.35,520.60 245.80,518.11 C249.25,515.61 254.78,514.92 258.50,514.78 C262.22,514.64 265.70,516.44 268.10,517.28 C270.50,518.11 271.03,519.69 272.90,519.77 C274.77,519.86 276.37,517.93 279.30,517.80 C282.23,517.66 287.03,517.50 290.50,518.94 C293.97,520.38 297.83,522.98 300.10,526.43 C302.37,529.88 303.70,535.22 304.10,539.64 C304.50,544.06 303.97,549.07 302.50,552.95 C301.03,556.83 298.37,560.57 295.30,562.93 C292.23,565.29 287.83,566.68 284.10,567.09 C280.37,567.51 276.63,565.29 272.90,565.43 C269.17,565.57 265.68,568.06 261.70,567.92 C257.72,567.79 252.72,566.81 249.00,564.60 C245.28,562.38 241.53,558.49 239.40,554.61 C237.27,550.73 236.47,545.44 236.20,541.30 C235.93,537.16 236.20,533.62 237.80,529.76Z" fill="#ecd7e8"/>
<path d="M237.80,529.76 C239.40,525.89 242.35,520.60 245.80,518.11 C249.25,515.61 254.78,514.92 258.50,514.78 C262.22,514.64 265.70,516.44 268.10,517.28 C270.50,518.11 271.03,519.69 272.90,519.77 C274.77,519.86 276.37,517.93 279.30,517.80 C282.23,517.66 287.03,517.50 290.50,518.94 C293.97,520.38 297.83,522.98 300.10,526.43 C302.37,529.88 303.70,535.22 304.10,539.64 C304.50,544.06 303.97,549.07 302.50,552.95 C301.03,556.83 298.37,560.57 295.30,562.93 C292.23,565.29 287.83,566.68 284.10,567.09 C280.37,567.51 276.63,565.29 272.90,565.43 C269.17,565.57 265.68,568.06 261.70,567.92 C257.72,567.79 252.72,566.81 249.00,564.60 C245.28,562.38 241.53,558.49 239.40,554.61 C237.27,550.73 236.47,545.44 236.20,541.30 C235.93,537.16 236.20,533.62 237.80,529.76Z" fill="#fff" filter="url(#spPk)"/>
<clipPath id="clipS2"><path d="M237.80,529.76 C239.40,525.89 242.35,520.60 245.80,518.11 C249.25,515.61 254.78,514.92 258.50,514.78 C262.22,514.64 265.70,516.44 268.10,517.28 C270.50,518.11 271.03,519.69 272.90,519.77 C274.77,519.86 276.37,517.93 279.30,517.80 C282.23,517.66 287.03,517.50 290.50,518.94 C293.97,520.38 297.83,522.98 300.10,526.43 C302.37,529.88 303.70,535.22 304.10,539.64 C304.50,544.06 303.97,549.07 302.50,552.95 C301.03,556.83 298.37,560.57 295.30,562.93 C292.23,565.29 287.83,566.68 284.10,567.09 C280.37,567.51 276.63,565.29 272.90,565.43 C269.17,565.57 265.68,568.06 261.70,567.92 C257.72,567.79 252.72,566.81 249.00,564.60 C245.28,562.38 241.53,558.49 239.40,554.61 C237.27,550.73 236.47,545.44 236.20,541.30 C235.93,537.16 236.20,533.62 237.80,529.76Z"/></clipPath>
<g clip-path="url(#clipS2)">
<path d="M248.20,530.20 C248.98,527.82 250.92,525.00 252.90,523.80 C254.88,522.60 258.23,522.47 260.10,523.00 C261.97,523.53 263.57,524.75 264.10,527.00 C264.63,529.25 264.10,533.85 263.30,536.50 C262.50,539.15 259.97,540.23 259.30,542.90 C258.63,545.57 259.83,549.83 259.30,552.50 C258.77,555.17 257.30,558.37 256.10,558.90 C254.90,559.43 252.77,558.10 252.10,555.70 C251.43,553.30 252.75,547.43 252.10,544.50 C251.45,541.57 248.85,540.48 248.20,538.10 C247.55,535.72 247.42,532.58 248.20,530.20Z" fill="#f3edf2"/>
<path d="M280.10,527.00 C280.82,524.48 283.17,524.60 284.90,524.60 C286.63,524.60 288.90,525.02 290.50,527.00 C292.10,528.98 293.43,534.65 294.50,536.50 C295.57,538.35 296.77,535.97 296.90,538.10 C297.03,540.23 296.23,545.83 295.30,549.30 C294.37,552.77 292.90,557.03 291.30,558.90 C289.70,560.77 287.30,561.57 285.70,560.50 C284.10,559.43 282.55,555.97 281.70,552.50 C280.85,549.03 280.87,543.95 280.60,539.70 C280.33,535.45 279.38,529.52 280.10,527.00Z" fill="#f3edf2"/>
<g filter="url(#magF)">
<path d="M248.20,530.20 C248.98,527.82 250.92,525.00 252.90,523.80 C254.88,522.60 258.23,522.47 260.10,523.00 C261.97,523.53 263.57,524.75 264.10,527.00 C264.63,529.25 264.10,533.85 263.30,536.50 C262.50,539.15 259.97,540.23 259.30,542.90 C258.63,545.57 259.83,549.83 259.30,552.50 C258.77,555.17 257.30,558.37 256.10,558.90 C254.90,559.43 252.77,558.10 252.10,555.70 C251.43,553.30 252.75,547.43 252.10,544.50 C251.45,541.57 248.85,540.48 248.20,538.10 C247.55,535.72 247.42,532.58 248.20,530.20Z" fill="none" stroke="#a0229e" stroke-width="1.56" opacity="0.81"/>
<path d="M280.10,527.00 C280.82,524.48 283.17,524.60 284.90,524.60 C286.63,524.60 288.90,525.02 290.50,527.00 C292.10,528.98 293.43,534.65 294.50,536.50 C295.57,538.35 296.77,535.97 296.90,538.10 C297.03,540.23 296.23,545.83 295.30,549.30 C294.37,552.77 292.90,557.03 291.30,558.90 C289.70,560.77 287.30,561.57 285.70,560.50 C284.10,559.43 282.55,555.97 281.70,552.50 C280.85,549.03 280.87,543.95 280.60,539.70 C280.33,535.45 279.38,529.52 280.10,527.00Z" fill="none" stroke="#a0229e" stroke-width="1.56" opacity="0.81"/>
</g></g>
<path d="M237.80,529.76 C239.40,525.89 242.35,520.60 245.80,518.11 C249.25,515.61 254.78,514.92 258.50,514.78 C262.22,514.64 265.70,516.44 268.10,517.28 C270.50,518.11 271.03,519.69 272.90,519.77 C274.77,519.86 276.37,517.93 279.30,517.80 C282.23,517.66 287.03,517.50 290.50,518.94 C293.97,520.38 297.83,522.98 300.10,526.43 C302.37,529.88 303.70,535.22 304.10,539.64 C304.50,544.06 303.97,549.07 302.50,552.95 C301.03,556.83 298.37,560.57 295.30,562.93 C292.23,565.29 287.83,566.68 284.10,567.09 C280.37,567.51 276.63,565.29 272.90,565.43 C269.17,565.57 265.68,568.06 261.70,567.92 C257.72,567.79 252.72,566.81 249.00,564.60 C245.28,562.38 241.53,558.49 239.40,554.61 C237.27,550.73 236.47,545.44 236.20,541.30 C235.93,537.16 236.20,533.62 237.80,529.76Z" fill="url(#dotsS)"/>
<path d="M290.2,529.3 L297.2,537.3 L298.2,533.3" fill="none" stroke="#ffffff" stroke-width="1.3" stroke-linejoin="round"/>
<line x1="283.2" y1="549.3" x2="283.2" y2="552.3" stroke="#ffffff" stroke-width="1.2"/>
<circle cx="266.5" cy="606.5" r="23.6" fill="#efe8ee"/>
<g filter="url(#magF)">
<path d="M254.50,588.50 C253.83,590.17 250.83,594.83 250.50,598.50 C250.17,602.17 252.50,606.83 252.50,610.50 C252.50,614.17 250.33,618.00 250.50,620.50 C250.67,623.00 253.00,624.67 253.50,625.50" fill="none" stroke="#a0229e" stroke-width="1.19" opacity="0.77" stroke-linecap="round"/>
<path d="M258.50,588.50 C258.67,590.17 259.67,594.83 259.50,598.50 C259.33,602.17 257.67,606.83 257.50,610.50 C257.33,614.17 258.33,618.83 258.50,620.50" fill="none" stroke="#a0229e" stroke-width="1.02" opacity="0.59" stroke-linecap="round"/>
<path d="M276.50,587.50 C276.83,589.33 278.17,594.67 278.50,598.50 C278.83,602.33 278.83,606.17 278.50,610.50 C278.17,614.83 276.83,622.17 276.50,624.50" fill="none" stroke="#a0229e" stroke-width="1.19" opacity="0.77" stroke-linecap="round"/>
<path d="M280.50,588.50 C281.17,590.17 283.83,594.50 284.50,598.50 C285.17,602.50 284.83,608.33 284.50,612.50 C284.17,616.67 282.83,621.67 282.50,623.50" fill="none" stroke="#a0229e" stroke-width="0.94" opacity="0.59" stroke-linecap="round"/>
</g>
<circle cx="266.5" cy="606.5" r="23.6" fill="url(#dotsL)"/>
<path d="M323.30,464.00 C324.37,460.68 326.38,457.07 328.90,455.20 C331.42,453.33 335.22,453.07 338.40,452.80 C341.58,452.53 345.33,453.07 348.00,453.60 C350.67,454.13 352.27,455.87 354.40,456.00 C356.53,456.13 358.13,454.80 360.80,454.40 C363.47,454.00 366.93,453.47 370.40,453.60 C373.87,453.73 378.53,453.73 381.60,455.20 C384.67,456.67 387.33,459.33 388.80,462.40 C390.27,465.47 390.53,469.62 390.40,473.60 C390.27,477.58 389.47,482.85 388.00,486.30 C386.53,489.75 384.53,492.30 381.60,494.30 C378.67,496.30 374.93,497.77 370.40,498.30 C365.87,498.83 358.93,497.37 354.40,497.50 C349.87,497.63 346.92,499.37 343.20,499.10 C339.48,498.83 335.15,497.77 332.10,495.90 C329.05,494.03 326.50,491.37 324.90,487.90 C323.30,484.43 322.77,479.08 322.50,475.10 C322.23,471.12 322.23,467.32 323.30,464.00Z" fill="#f2ebf1"/>
<path d="M323.30,464.00 C324.37,460.68 326.38,457.07 328.90,455.20 C331.42,453.33 335.22,453.07 338.40,452.80 C341.58,452.53 345.33,453.07 348.00,453.60 C350.67,454.13 352.27,455.87 354.40,456.00 C356.53,456.13 358.13,454.80 360.80,454.40 C363.47,454.00 366.93,453.47 370.40,453.60 C373.87,453.73 378.53,453.73 381.60,455.20 C384.67,456.67 387.33,459.33 388.80,462.40 C390.27,465.47 390.53,469.62 390.40,473.60 C390.27,477.58 389.47,482.85 388.00,486.30 C386.53,489.75 384.53,492.30 381.60,494.30 C378.67,496.30 374.93,497.77 370.40,498.30 C365.87,498.83 358.93,497.37 354.40,497.50 C349.87,497.63 346.92,499.37 343.20,499.10 C339.48,498.83 335.15,497.77 332.10,495.90 C329.05,494.03 326.50,491.37 324.90,487.90 C323.30,484.43 322.77,479.08 322.50,475.10 C322.23,471.12 322.23,467.32 323.30,464.00Z" fill="#fff" filter="url(#spPkV)"/>
<clipPath id="clipV3"><path d="M323.30,464.00 C324.37,460.68 326.38,457.07 328.90,455.20 C331.42,453.33 335.22,453.07 338.40,452.80 C341.58,452.53 345.33,453.07 348.00,453.60 C350.67,454.13 352.27,455.87 354.40,456.00 C356.53,456.13 358.13,454.80 360.80,454.40 C363.47,454.00 366.93,453.47 370.40,453.60 C373.87,453.73 378.53,453.73 381.60,455.20 C384.67,456.67 387.33,459.33 388.80,462.40 C390.27,465.47 390.53,469.62 390.40,473.60 C390.27,477.58 389.47,482.85 388.00,486.30 C386.53,489.75 384.53,492.30 381.60,494.30 C378.67,496.30 374.93,497.77 370.40,498.30 C365.87,498.83 358.93,497.37 354.40,497.50 C349.87,497.63 346.92,499.37 343.20,499.10 C339.48,498.83 335.15,497.77 332.10,495.90 C329.05,494.03 326.50,491.37 324.90,487.90 C323.30,484.43 322.77,479.08 322.50,475.10 C322.23,471.12 322.23,467.32 323.30,464.00Z"/></clipPath>
<g clip-path="url(#clipV3)">
<path d="M329.63,460.26 C331.15,458.18 334.92,454.66 337.60,453.54 C340.29,452.42 343.79,452.10 345.72,453.54 C347.66,454.98 348.82,459.14 349.20,462.18 C349.59,465.22 348.05,468.28 348.05,471.78 C348.05,475.28 349.40,479.68 349.20,483.18 C349.01,486.68 348.24,490.70 346.88,492.78 C345.53,494.86 342.63,496.30 341.09,495.66 C339.54,495.02 338.35,491.98 337.60,488.94 C336.86,485.90 337.53,480.28 336.59,477.42 C335.65,474.56 333.30,473.68 331.95,471.78 C330.60,469.88 328.86,467.94 328.47,466.02 C328.08,464.10 328.11,462.34 329.63,460.26Z" fill="#f3edf2"/>
<path d="M361.19,459.15 C362.15,457.39 364.86,455.47 366.99,455.31 C369.11,455.15 371.82,456.27 373.95,458.19 C376.07,460.11 378.78,463.65 379.75,466.83 C380.71,470.01 380.13,473.61 379.75,477.27 C379.36,480.93 378.59,485.91 377.43,488.79 C376.27,491.67 374.33,494.07 372.79,494.55 C371.24,495.03 369.11,493.59 368.15,491.67 C367.18,489.75 367.57,486.37 366.99,483.03 C366.41,479.69 365.63,474.49 364.67,471.63 C363.70,468.77 361.77,467.95 361.19,465.87 C360.61,463.79 360.22,460.91 361.19,459.15Z" fill="#f3edf2"/>
<g filter="url(#magF)">
<path d="M329.63,460.26 C331.15,458.18 334.92,454.66 337.60,453.54 C340.29,452.42 343.79,452.10 345.72,453.54 C347.66,454.98 348.82,459.14 349.20,462.18 C349.59,465.22 348.05,468.28 348.05,471.78 C348.05,475.28 349.40,479.68 349.20,483.18 C349.01,486.68 348.24,490.70 346.88,492.78 C345.53,494.86 342.63,496.30 341.09,495.66 C339.54,495.02 338.35,491.98 337.60,488.94 C336.86,485.90 337.53,480.28 336.59,477.42 C335.65,474.56 333.30,473.68 331.95,471.78 C330.60,469.88 328.86,467.94 328.47,466.02 C328.08,464.10 328.11,462.34 329.63,460.26Z" fill="none" stroke="#a0229e" stroke-width="0.90" opacity="0.81"/>
<path d="M361.19,459.15 C362.15,457.39 364.86,455.47 366.99,455.31 C369.11,455.15 371.82,456.27 373.95,458.19 C376.07,460.11 378.78,463.65 379.75,466.83 C380.71,470.01 380.13,473.61 379.75,477.27 C379.36,480.93 378.59,485.91 377.43,488.79 C376.27,491.67 374.33,494.07 372.79,494.55 C371.24,495.03 369.11,493.59 368.15,491.67 C367.18,489.75 367.57,486.37 366.99,483.03 C366.41,479.69 365.63,474.49 364.67,471.63 C363.70,468.77 361.77,467.95 361.19,465.87 C360.61,463.79 360.22,460.91 361.19,459.15Z" fill="none" stroke="#a0229e" stroke-width="0.90" opacity="0.81"/>
</g></g>
<path d="M323.30,464.00 C324.37,460.68 326.38,457.07 328.90,455.20 C331.42,453.33 335.22,453.07 338.40,452.80 C341.58,452.53 345.33,453.07 348.00,453.60 C350.67,454.13 352.27,455.87 354.40,456.00 C356.53,456.13 358.13,454.80 360.80,454.40 C363.47,454.00 366.93,453.47 370.40,453.60 C373.87,453.73 378.53,453.73 381.60,455.20 C384.67,456.67 387.33,459.33 388.80,462.40 C390.27,465.47 390.53,469.62 390.40,473.60 C390.27,477.58 389.47,482.85 388.00,486.30 C386.53,489.75 384.53,492.30 381.60,494.30 C378.67,496.30 374.93,497.77 370.40,498.30 C365.87,498.83 358.93,497.37 354.40,497.50 C349.87,497.63 346.92,499.37 343.20,499.10 C339.48,498.83 335.15,497.77 332.10,495.90 C329.05,494.03 326.50,491.37 324.90,487.90 C323.30,484.43 322.77,479.08 322.50,475.10 C322.23,471.12 322.23,467.32 323.30,464.00Z" fill="url(#dotsV)"/>
<path d="M324.10,529.76 C325.70,525.89 328.65,520.60 332.10,518.11 C335.55,515.61 341.08,514.92 344.80,514.78 C348.52,514.64 352.00,516.44 354.40,517.28 C356.80,518.11 357.33,519.69 359.20,519.77 C361.07,519.86 362.67,517.93 365.60,517.80 C368.53,517.66 373.33,517.50 376.80,518.94 C380.27,520.38 384.13,522.98 386.40,526.43 C388.67,529.88 390.00,535.22 390.40,539.64 C390.80,544.06 390.27,549.07 388.80,552.95 C387.33,556.83 384.67,560.57 381.60,562.93 C378.53,565.29 374.13,566.68 370.40,567.09 C366.67,567.51 362.93,565.29 359.20,565.43 C355.47,565.57 351.98,568.06 348.00,567.92 C344.02,567.79 339.02,566.81 335.30,564.60 C331.58,562.38 327.83,558.49 325.70,554.61 C323.57,550.73 322.77,545.44 322.50,541.30 C322.23,537.16 322.50,533.62 324.10,529.76Z" fill="#ecd7e8"/>
<path d="M324.10,529.76 C325.70,525.89 328.65,520.60 332.10,518.11 C335.55,515.61 341.08,514.92 344.80,514.78 C348.52,514.64 352.00,516.44 354.40,517.28 C356.80,518.11 357.33,519.69 359.20,519.77 C361.07,519.86 362.67,517.93 365.60,517.80 C368.53,517.66 373.33,517.50 376.80,518.94 C380.27,520.38 384.13,522.98 386.40,526.43 C388.67,529.88 390.00,535.22 390.40,539.64 C390.80,544.06 390.27,549.07 388.80,552.95 C387.33,556.83 384.67,560.57 381.60,562.93 C378.53,565.29 374.13,566.68 370.40,567.09 C366.67,567.51 362.93,565.29 359.20,565.43 C355.47,565.57 351.98,568.06 348.00,567.92 C344.02,567.79 339.02,566.81 335.30,564.60 C331.58,562.38 327.83,558.49 325.70,554.61 C323.57,550.73 322.77,545.44 322.50,541.30 C322.23,537.16 322.50,533.62 324.10,529.76Z" fill="#fff" filter="url(#spPk)"/>
<clipPath id="clipS3"><path d="M324.10,529.76 C325.70,525.89 328.65,520.60 332.10,518.11 C335.55,515.61 341.08,514.92 344.80,514.78 C348.52,514.64 352.00,516.44 354.40,517.28 C356.80,518.11 357.33,519.69 359.20,519.77 C361.07,519.86 362.67,517.93 365.60,517.80 C368.53,517.66 373.33,517.50 376.80,518.94 C380.27,520.38 384.13,522.98 386.40,526.43 C388.67,529.88 390.00,535.22 390.40,539.64 C390.80,544.06 390.27,549.07 388.80,552.95 C387.33,556.83 384.67,560.57 381.60,562.93 C378.53,565.29 374.13,566.68 370.40,567.09 C366.67,567.51 362.93,565.29 359.20,565.43 C355.47,565.57 351.98,568.06 348.00,567.92 C344.02,567.79 339.02,566.81 335.30,564.60 C331.58,562.38 327.83,558.49 325.70,554.61 C323.57,550.73 322.77,545.44 322.50,541.30 C322.23,537.16 322.50,533.62 324.10,529.76Z"/></clipPath>
<g clip-path="url(#clipS3)">
<path d="M331.00,528.37 C332.14,525.51 334.94,522.13 337.82,520.69 C340.69,519.25 345.55,519.09 348.26,519.73 C350.96,520.37 353.28,521.83 354.06,524.53 C354.83,527.23 354.06,532.75 352.90,535.93 C351.74,539.11 348.06,540.41 347.10,543.61 C346.13,546.81 347.87,551.93 347.10,555.13 C346.32,558.33 344.20,562.17 342.46,562.81 C340.72,563.45 337.62,561.85 336.66,558.97 C335.69,556.09 337.60,549.05 336.66,545.53 C335.71,542.01 331.94,540.71 331.00,537.85 C330.06,534.99 329.87,531.23 331.00,528.37Z" fill="#f3edf2"/>
<path d="M362.78,524.12 C363.82,521.10 367.22,521.24 369.74,521.24 C372.25,521.24 375.54,521.74 377.86,524.12 C380.18,526.50 382.11,533.30 383.66,535.52 C385.20,537.74 386.94,534.88 387.14,537.44 C387.33,540.00 386.17,546.72 384.82,550.88 C383.46,555.04 381.34,560.16 379.02,562.40 C376.70,564.64 373.22,565.60 370.90,564.32 C368.58,563.04 366.33,558.88 365.10,554.72 C363.87,550.56 363.89,544.46 363.50,539.36 C363.12,534.26 361.74,527.14 362.78,524.12Z" fill="#f3edf2"/>
<g filter="url(#magF)">
<path d="M331.00,528.37 C332.14,525.51 334.94,522.13 337.82,520.69 C340.69,519.25 345.55,519.09 348.26,519.73 C350.96,520.37 353.28,521.83 354.06,524.53 C354.83,527.23 354.06,532.75 352.90,535.93 C351.74,539.11 348.06,540.41 347.10,543.61 C346.13,546.81 347.87,551.93 347.10,555.13 C346.32,558.33 344.20,562.17 342.46,562.81 C340.72,563.45 337.62,561.85 336.66,558.97 C335.69,556.09 337.60,549.05 336.66,545.53 C335.71,542.01 331.94,540.71 331.00,537.85 C330.06,534.99 329.87,531.23 331.00,528.37Z" fill="none" stroke="#a0229e" stroke-width="0.90" opacity="0.81"/>
<path d="M362.78,524.12 C363.82,521.10 367.22,521.24 369.74,521.24 C372.25,521.24 375.54,521.74 377.86,524.12 C380.18,526.50 382.11,533.30 383.66,535.52 C385.20,537.74 386.94,534.88 387.14,537.44 C387.33,540.00 386.17,546.72 384.82,550.88 C383.46,555.04 381.34,560.16 379.02,562.40 C376.70,564.64 373.22,565.60 370.90,564.32 C368.58,563.04 366.33,558.88 365.10,554.72 C363.87,550.56 363.89,544.46 363.50,539.36 C363.12,534.26 361.74,527.14 362.78,524.12Z" fill="none" stroke="#a0229e" stroke-width="0.90" opacity="0.81"/>
</g></g>
<path d="M324.10,529.76 C325.70,525.89 328.65,520.60 332.10,518.11 C335.55,515.61 341.08,514.92 344.80,514.78 C348.52,514.64 352.00,516.44 354.40,517.28 C356.80,518.11 357.33,519.69 359.20,519.77 C361.07,519.86 362.67,517.93 365.60,517.80 C368.53,517.66 373.33,517.50 376.80,518.94 C380.27,520.38 384.13,522.98 386.40,526.43 C388.67,529.88 390.00,535.22 390.40,539.64 C390.80,544.06 390.27,549.07 388.80,552.95 C387.33,556.83 384.67,560.57 381.60,562.93 C378.53,565.29 374.13,566.68 370.40,567.09 C366.67,567.51 362.93,565.29 359.20,565.43 C355.47,565.57 351.98,568.06 348.00,567.92 C344.02,567.79 339.02,566.81 335.30,564.60 C331.58,562.38 327.83,558.49 325.70,554.61 C323.57,550.73 322.77,545.44 322.50,541.30 C322.23,537.16 322.50,533.62 324.10,529.76Z" fill="url(#dotsS)"/>
<path d="M376.5,529.3 L383.5,537.3 L384.5,533.3" fill="none" stroke="#ffffff" stroke-width="1.3" stroke-linejoin="round"/>
<line x1="369.5" y1="549.3" x2="369.5" y2="552.3" stroke="#ffffff" stroke-width="1.2"/>
<circle cx="355.6" cy="606.5" r="23.6" fill="#efe8ee"/>
<g filter="url(#magF)">
<path d="M347.60,585.50 C346.43,587.33 342.10,593.33 340.60,596.50 C339.10,599.67 338.77,601.50 338.60,604.50 C338.43,607.50 338.43,611.50 339.60,614.50 C340.77,617.50 343.93,620.33 345.60,622.50 C347.27,624.67 348.93,626.67 349.60,627.50" fill="none" stroke="#a0229e" stroke-width="0.77" opacity="0.68" stroke-linecap="round"/>
<path d="M354.60,584.50 C354.27,586.50 352.93,592.17 352.60,596.50 C352.27,600.83 352.77,606.50 352.60,610.50 C352.43,614.50 351.93,617.50 351.60,620.50 C351.27,623.50 350.77,627.17 350.60,628.50" fill="none" stroke="#a0229e" stroke-width="0.85" opacity="0.68" stroke-linecap="round"/>
<path d="M365.60,584.50 C365.60,586.50 365.10,592.83 365.60,596.50 C366.10,600.17 368.27,602.83 368.60,606.50 C368.93,610.17 367.77,614.83 367.60,618.50 C367.43,622.17 367.60,626.83 367.60,628.50" fill="none" stroke="#a0229e" stroke-width="0.85" opacity="0.68" stroke-linecap="round"/>
</g>
<circle cx="355.6" cy="606.5" r="23.6" fill="url(#dotsL)"/>
<path d="M414.30,464.00 C415.37,460.68 417.38,457.07 419.90,455.20 C422.42,453.33 426.22,453.07 429.40,452.80 C432.58,452.53 436.33,453.07 439.00,453.60 C441.67,454.13 443.27,455.87 445.40,456.00 C447.53,456.13 449.13,454.80 451.80,454.40 C454.47,454.00 457.93,453.47 461.40,453.60 C464.87,453.73 469.53,453.73 472.60,455.20 C475.67,456.67 478.33,459.33 479.80,462.40 C481.27,465.47 481.53,469.62 481.40,473.60 C481.27,477.58 480.47,482.85 479.00,486.30 C477.53,489.75 475.53,492.30 472.60,494.30 C469.67,496.30 465.93,497.77 461.40,498.30 C456.87,498.83 449.93,497.37 445.40,497.50 C440.87,497.63 437.92,499.37 434.20,499.10 C430.48,498.83 426.15,497.77 423.10,495.90 C420.05,494.03 417.50,491.37 415.90,487.90 C414.30,484.43 413.77,479.08 413.50,475.10 C413.23,471.12 413.23,467.32 414.30,464.00Z" fill="#f2ebf1"/>
<path d="M414.30,464.00 C415.37,460.68 417.38,457.07 419.90,455.20 C422.42,453.33 426.22,453.07 429.40,452.80 C432.58,452.53 436.33,453.07 439.00,453.60 C441.67,454.13 443.27,455.87 445.40,456.00 C447.53,456.13 449.13,454.80 451.80,454.40 C454.47,454.00 457.93,453.47 461.40,453.60 C464.87,453.73 469.53,453.73 472.60,455.20 C475.67,456.67 478.33,459.33 479.80,462.40 C481.27,465.47 481.53,469.62 481.40,473.60 C481.27,477.58 480.47,482.85 479.00,486.30 C477.53,489.75 475.53,492.30 472.60,494.30 C469.67,496.30 465.93,497.77 461.40,498.30 C456.87,498.83 449.93,497.37 445.40,497.50 C440.87,497.63 437.92,499.37 434.20,499.10 C430.48,498.83 426.15,497.77 423.10,495.90 C420.05,494.03 417.50,491.37 415.90,487.90 C414.30,484.43 413.77,479.08 413.50,475.10 C413.23,471.12 413.23,467.32 414.30,464.00Z" fill="#fff" filter="url(#spPkV)"/>
<clipPath id="clipV4"><path d="M414.30,464.00 C415.37,460.68 417.38,457.07 419.90,455.20 C422.42,453.33 426.22,453.07 429.40,452.80 C432.58,452.53 436.33,453.07 439.00,453.60 C441.67,454.13 443.27,455.87 445.40,456.00 C447.53,456.13 449.13,454.80 451.80,454.40 C454.47,454.00 457.93,453.47 461.40,453.60 C464.87,453.73 469.53,453.73 472.60,455.20 C475.67,456.67 478.33,459.33 479.80,462.40 C481.27,465.47 481.53,469.62 481.40,473.60 C481.27,477.58 480.47,482.85 479.00,486.30 C477.53,489.75 475.53,492.30 472.60,494.30 C469.67,496.30 465.93,497.77 461.40,498.30 C456.87,498.83 449.93,497.37 445.40,497.50 C440.87,497.63 437.92,499.37 434.20,499.10 C430.48,498.83 426.15,497.77 423.10,495.90 C420.05,494.03 417.50,491.37 415.90,487.90 C414.30,484.43 413.77,479.08 413.50,475.10 C413.23,471.12 413.23,467.32 414.30,464.00Z"/></clipPath>
<g clip-path="url(#clipV4)">
<path d="M420.63,460.26 C422.15,458.18 425.92,454.66 428.60,453.54 C431.29,452.42 434.79,452.10 436.72,453.54 C438.66,454.98 439.82,459.14 440.20,462.18 C440.59,465.22 439.05,468.28 439.05,471.78 C439.05,475.28 440.40,479.68 440.20,483.18 C440.01,486.68 439.24,490.70 437.88,492.78 C436.53,494.86 433.63,496.30 432.09,495.66 C430.54,495.02 429.35,491.98 428.60,488.94 C427.86,485.90 428.53,480.28 427.59,477.42 C426.65,474.56 424.30,473.68 422.95,471.78 C421.60,469.88 419.86,467.94 419.47,466.02 C419.08,464.10 419.11,462.34 420.63,460.26Z" fill="#f3edf2"/>
<path d="M452.19,459.15 C453.15,457.39 455.86,455.47 457.99,455.31 C460.11,455.15 462.82,456.27 464.95,458.19 C467.07,460.11 469.78,463.65 470.75,466.83 C471.71,470.01 471.13,473.61 470.75,477.27 C470.36,480.93 469.59,485.91 468.43,488.79 C467.27,491.67 465.33,494.07 463.79,494.55 C462.24,495.03 460.11,493.59 459.15,491.67 C458.18,489.75 458.57,486.37 457.99,483.03 C457.41,479.69 456.63,474.49 455.67,471.63 C454.70,468.77 452.77,467.95 452.19,465.87 C451.61,463.79 451.22,460.91 452.19,459.15Z" fill="#f3edf2"/>
<g filter="url(#magF)">
<path d="M418.81,459.19 C420.60,456.94 425.02,453.13 428.16,451.91 C431.31,450.70 435.42,450.35 437.68,451.91 C439.95,453.47 441.31,457.98 441.76,461.27 C442.22,464.57 440.40,467.88 440.40,471.67 C440.40,475.46 441.99,480.23 441.76,484.02 C441.54,487.81 440.63,492.17 439.04,494.42 C437.46,496.68 434.06,498.24 432.24,497.54 C430.43,496.85 429.04,493.56 428.16,490.26 C427.28,486.97 428.08,480.88 426.97,477.78 C425.87,474.68 423.12,473.73 421.53,471.67 C419.95,469.61 417.91,467.51 417.45,465.43 C417.00,463.35 417.03,461.45 418.81,459.19Z" fill="none" stroke="#c35fc0" stroke-width="3.28" opacity="0.59"/>
<path d="M420.27,460.05 C421.84,457.93 425.74,454.35 428.52,453.22 C431.29,452.08 434.92,451.75 436.92,453.22 C438.92,454.68 440.12,458.91 440.52,462.00 C440.92,465.09 439.32,468.20 439.32,471.76 C439.32,475.32 440.72,479.79 440.52,483.35 C440.32,486.91 439.52,491.00 438.12,493.11 C436.72,495.22 433.72,496.69 432.12,496.04 C430.52,495.39 429.29,492.30 428.52,489.21 C427.74,486.12 428.44,480.40 427.47,477.49 C426.49,474.59 424.07,473.69 422.67,471.76 C421.27,469.83 419.47,467.86 419.07,465.90 C418.67,463.95 418.69,462.16 420.27,460.05Z" fill="none" stroke="#a0229e" stroke-width="1.07" opacity="0.72"/>
<path d="M450.62,457.93 C451.76,456.02 454.93,453.94 457.42,453.77 C459.92,453.59 463.09,454.81 465.58,456.89 C468.08,458.97 471.25,462.80 472.38,466.25 C473.52,469.69 472.84,473.59 472.38,477.56 C471.93,481.52 471.02,486.92 469.66,490.04 C468.30,493.16 466.04,495.76 464.22,496.28 C462.41,496.80 459.92,495.24 458.78,493.16 C457.65,491.08 458.10,487.41 457.42,483.80 C456.74,480.18 455.84,474.54 454.70,471.45 C453.57,468.35 451.30,467.46 450.62,465.21 C449.94,462.95 449.49,459.83 450.62,457.93Z" fill="none" stroke="#c35fc0" stroke-width="3.28" opacity="0.59"/>
<path d="M451.87,458.91 C452.87,457.12 455.67,455.16 457.87,455.00 C460.07,454.84 462.87,455.98 465.07,457.93 C467.27,459.88 470.07,463.48 471.07,466.71 C472.07,469.95 471.47,473.61 471.07,477.33 C470.67,481.05 469.87,486.11 468.67,489.04 C467.47,491.97 465.47,494.41 463.87,494.90 C462.27,495.38 460.07,493.92 459.07,491.97 C458.07,490.02 458.47,486.58 457.87,483.18 C457.27,479.79 456.47,474.50 455.47,471.59 C454.47,468.69 452.47,467.85 451.87,465.74 C451.27,463.62 450.87,460.70 451.87,458.91Z" fill="none" stroke="#a0229e" stroke-width="1.07" opacity="0.72"/>
</g></g>
<path d="M414.30,464.00 C415.37,460.68 417.38,457.07 419.90,455.20 C422.42,453.33 426.22,453.07 429.40,452.80 C432.58,452.53 436.33,453.07 439.00,453.60 C441.67,454.13 443.27,455.87 445.40,456.00 C447.53,456.13 449.13,454.80 451.80,454.40 C454.47,454.00 457.93,453.47 461.40,453.60 C464.87,453.73 469.53,453.73 472.60,455.20 C475.67,456.67 478.33,459.33 479.80,462.40 C481.27,465.47 481.53,469.62 481.40,473.60 C481.27,477.58 480.47,482.85 479.00,486.30 C477.53,489.75 475.53,492.30 472.60,494.30 C469.67,496.30 465.93,497.77 461.40,498.30 C456.87,498.83 449.93,497.37 445.40,497.50 C440.87,497.63 437.92,499.37 434.20,499.10 C430.48,498.83 426.15,497.77 423.10,495.90 C420.05,494.03 417.50,491.37 415.90,487.90 C414.30,484.43 413.77,479.08 413.50,475.10 C413.23,471.12 413.23,467.32 414.30,464.00Z" fill="url(#dotsV)"/>
<path d="M415.10,529.76 C416.70,525.89 419.65,520.60 423.10,518.11 C426.55,515.61 432.08,514.92 435.80,514.78 C439.52,514.64 443.00,516.44 445.40,517.28 C447.80,518.11 448.33,519.69 450.20,519.77 C452.07,519.86 453.67,517.93 456.60,517.80 C459.53,517.66 464.33,517.50 467.80,518.94 C471.27,520.38 475.13,522.98 477.40,526.43 C479.67,529.88 481.00,535.22 481.40,539.64 C481.80,544.06 481.27,549.07 479.80,552.95 C478.33,556.83 475.67,560.57 472.60,562.93 C469.53,565.29 465.13,566.68 461.40,567.09 C457.67,567.51 453.93,565.29 450.20,565.43 C446.47,565.57 442.98,568.06 439.00,567.92 C435.02,567.79 430.02,566.81 426.30,564.60 C422.58,562.38 418.83,558.49 416.70,554.61 C414.57,550.73 413.77,545.44 413.50,541.30 C413.23,537.16 413.50,533.62 415.10,529.76Z" fill="#ecd7e8"/>
<path d="M415.10,529.76 C416.70,525.89 419.65,520.60 423.10,518.11 C426.55,515.61 432.08,514.92 435.80,514.78 C439.52,514.64 443.00,516.44 445.40,517.28 C447.80,518.11 448.33,519.69 450.20,519.77 C452.07,519.86 453.67,517.93 456.60,517.80 C459.53,517.66 464.33,517.50 467.80,518.94 C471.27,520.38 475.13,522.98 477.40,526.43 C479.67,529.88 481.00,535.22 481.40,539.64 C481.80,544.06 481.27,549.07 479.80,552.95 C478.33,556.83 475.67,560.57 472.60,562.93 C469.53,565.29 465.13,566.68 461.40,567.09 C457.67,567.51 453.93,565.29 450.20,565.43 C446.47,565.57 442.98,568.06 439.00,567.92 C435.02,567.79 430.02,566.81 426.30,564.60 C422.58,562.38 418.83,558.49 416.70,554.61 C414.57,550.73 413.77,545.44 413.50,541.30 C413.23,537.16 413.50,533.62 415.10,529.76Z" fill="#fff" filter="url(#spPk)"/>
<clipPath id="clipS4"><path d="M415.10,529.76 C416.70,525.89 419.65,520.60 423.10,518.11 C426.55,515.61 432.08,514.92 435.80,514.78 C439.52,514.64 443.00,516.44 445.40,517.28 C447.80,518.11 448.33,519.69 450.20,519.77 C452.07,519.86 453.67,517.93 456.60,517.80 C459.53,517.66 464.33,517.50 467.80,518.94 C471.27,520.38 475.13,522.98 477.40,526.43 C479.67,529.88 481.00,535.22 481.40,539.64 C481.80,544.06 481.27,549.07 479.80,552.95 C478.33,556.83 475.67,560.57 472.60,562.93 C469.53,565.29 465.13,566.68 461.40,567.09 C457.67,567.51 453.93,565.29 450.20,565.43 C446.47,565.57 442.98,568.06 439.00,567.92 C435.02,567.79 430.02,566.81 426.30,564.60 C422.58,562.38 418.83,558.49 416.70,554.61 C414.57,550.73 413.77,545.44 413.50,541.30 C413.23,537.16 413.50,533.62 415.10,529.76Z"/></clipPath>
<g clip-path="url(#clipS4)">
<path d="M422.00,528.37 C423.14,525.51 425.94,522.13 428.82,520.69 C431.69,519.25 436.55,519.09 439.26,519.73 C441.96,520.37 444.28,521.83 445.06,524.53 C445.83,527.23 445.06,532.75 443.90,535.93 C442.74,539.11 439.06,540.41 438.10,543.61 C437.13,546.81 438.87,551.93 438.10,555.13 C437.32,558.33 435.20,562.17 433.46,562.81 C431.72,563.45 428.62,561.85 427.66,558.97 C426.69,556.09 428.60,549.05 427.66,545.53 C426.71,542.01 422.94,540.71 422.00,537.85 C421.06,534.99 420.87,531.23 422.00,528.37Z" fill="#f3edf2"/>
<path d="M453.78,524.12 C454.82,521.10 458.22,521.24 460.74,521.24 C463.25,521.24 466.54,521.74 468.86,524.12 C471.18,526.50 473.11,533.30 474.66,535.52 C476.20,537.74 477.94,534.88 478.14,537.44 C478.33,540.00 477.17,546.72 475.82,550.88 C474.46,555.04 472.34,560.16 470.02,562.40 C467.70,564.64 464.22,565.60 461.90,564.32 C459.58,563.04 457.33,558.88 456.10,554.72 C454.87,550.56 454.89,544.46 454.50,539.36 C454.12,534.26 452.74,527.14 453.78,524.12Z" fill="#f3edf2"/>
<g filter="url(#magF)">
<path d="M420.06,527.45 C421.39,524.35 424.68,520.69 428.05,519.13 C431.42,517.57 437.12,517.39 440.29,518.09 C443.46,518.78 446.18,520.36 447.09,523.29 C448.00,526.21 447.09,532.19 445.73,535.64 C444.37,539.08 440.06,540.49 438.93,543.96 C437.80,547.42 439.84,552.97 438.93,556.44 C438.02,559.90 435.53,564.06 433.49,564.76 C431.45,565.45 427.82,563.72 426.69,560.60 C425.56,557.48 427.79,549.85 426.69,546.04 C425.58,542.22 421.16,540.82 420.06,537.72 C418.95,534.62 418.73,530.55 420.06,527.45Z" fill="none" stroke="#c35fc0" stroke-width="3.28" opacity="0.59"/>
<path d="M421.61,528.18 C422.79,525.27 425.69,521.84 428.66,520.37 C431.64,518.91 436.66,518.75 439.46,519.40 C442.26,520.05 444.66,521.53 445.46,524.28 C446.26,527.02 445.46,532.64 444.26,535.87 C443.06,539.10 439.26,540.42 438.26,543.68 C437.26,546.93 439.06,552.13 438.26,555.39 C437.46,558.64 435.26,562.55 433.46,563.20 C431.66,563.85 428.46,562.22 427.46,559.29 C426.46,556.36 428.44,549.21 427.46,545.63 C426.49,542.05 422.59,540.73 421.61,537.82 C420.64,534.91 420.44,531.09 421.61,528.18Z" fill="none" stroke="#a0229e" stroke-width="1.07" opacity="0.72"/>
<path d="M451.76,522.68 C452.98,519.41 456.98,519.56 459.93,519.56 C462.87,519.56 466.73,520.10 469.45,522.68 C472.17,525.26 474.43,532.62 476.25,535.03 C478.06,537.43 480.10,534.33 480.32,537.11 C480.55,539.88 479.19,547.16 477.61,551.67 C476.02,556.17 473.53,561.72 470.81,564.15 C468.09,566.57 464.01,567.61 461.29,566.23 C458.56,564.84 455.93,560.33 454.49,555.83 C453.04,551.32 453.07,544.71 452.61,539.19 C452.16,533.66 450.55,525.95 451.76,522.68Z" fill="none" stroke="#c35fc0" stroke-width="3.28" opacity="0.59"/>
<path d="M453.38,523.83 C454.45,520.76 457.97,520.90 460.57,520.90 C463.18,520.90 466.58,521.41 468.98,523.83 C471.38,526.25 473.38,533.16 474.98,535.42 C476.58,537.68 478.38,534.77 478.57,537.37 C478.77,539.97 477.58,546.81 476.18,551.04 C474.78,555.27 472.58,560.47 470.18,562.75 C467.78,565.03 464.18,566.00 461.77,564.70 C459.37,563.40 457.05,559.17 455.77,554.94 C454.50,550.71 454.52,544.51 454.12,539.32 C453.73,534.14 452.30,526.90 453.38,523.83Z" fill="none" stroke="#a0229e" stroke-width="1.07" opacity="0.72"/>
</g></g>
<path d="M415.10,529.76 C416.70,525.89 419.65,520.60 423.10,518.11 C426.55,515.61 432.08,514.92 435.80,514.78 C439.52,514.64 443.00,516.44 445.40,517.28 C447.80,518.11 448.33,519.69 450.20,519.77 C452.07,519.86 453.67,517.93 456.60,517.80 C459.53,517.66 464.33,517.50 467.80,518.94 C471.27,520.38 475.13,522.98 477.40,526.43 C479.67,529.88 481.00,535.22 481.40,539.64 C481.80,544.06 481.27,549.07 479.80,552.95 C478.33,556.83 475.67,560.57 472.60,562.93 C469.53,565.29 465.13,566.68 461.40,567.09 C457.67,567.51 453.93,565.29 450.20,565.43 C446.47,565.57 442.98,568.06 439.00,567.92 C435.02,567.79 430.02,566.81 426.30,564.60 C422.58,562.38 418.83,558.49 416.70,554.61 C414.57,550.73 413.77,545.44 413.50,541.30 C413.23,537.16 413.50,533.62 415.10,529.76Z" fill="url(#dotsS)"/>
<path d="M467.5,529.3 L474.5,537.3 L475.5,533.3" fill="none" stroke="#ffffff" stroke-width="1.3" stroke-linejoin="round"/>
<line x1="460.5" y1="549.3" x2="460.5" y2="552.3" stroke="#ffffff" stroke-width="1.2"/>
<circle cx="449.0" cy="606.5" r="23.6" fill="#efe8ee"/>
<g filter="url(#magF)">
<path d="M429.00,592.50 C429.83,593.17 433.67,594.17 434.00,596.50 C434.33,598.83 431.50,603.50 431.00,606.50 C430.50,609.50 431.00,613.17 431.00,614.50" fill="none" stroke="#a0229e" stroke-width="0.77" opacity="0.42" stroke-linecap="round"/>
<path d="M447.00,584.50 C446.83,586.50 446.50,592.50 446.00,596.50 C445.50,600.50 444.17,604.83 444.00,608.50 C443.83,612.17 445.17,615.17 445.00,618.50 C444.83,621.83 443.33,626.83 443.00,628.50" fill="none" stroke="#a0229e" stroke-width="1.10" opacity="0.68" stroke-linecap="round"/>
<path d="M457.00,584.50 C457.17,586.50 457.83,592.50 458.00,596.50 C458.17,600.50 457.83,604.83 458.00,608.50 C458.17,612.17 459.00,615.17 459.00,618.50 C459.00,621.83 458.17,626.83 458.00,628.50" fill="none" stroke="#a0229e" stroke-width="1.10" opacity="0.68" stroke-linecap="round"/>
</g>
<circle cx="449.0" cy="606.5" r="23.6" fill="url(#dotsL)"/>
<path d="M506.00,464.00 C507.07,460.68 509.08,457.07 511.60,455.20 C514.12,453.33 517.92,453.07 521.10,452.80 C524.28,452.53 528.03,453.07 530.70,453.60 C533.37,454.13 534.97,455.87 537.10,456.00 C539.23,456.13 540.83,454.80 543.50,454.40 C546.17,454.00 549.63,453.47 553.10,453.60 C556.57,453.73 561.23,453.73 564.30,455.20 C567.37,456.67 570.03,459.33 571.50,462.40 C572.97,465.47 573.23,469.62 573.10,473.60 C572.97,477.58 572.17,482.85 570.70,486.30 C569.23,489.75 567.23,492.30 564.30,494.30 C561.37,496.30 557.63,497.77 553.10,498.30 C548.57,498.83 541.63,497.37 537.10,497.50 C532.57,497.63 529.62,499.37 525.90,499.10 C522.18,498.83 517.85,497.77 514.80,495.90 C511.75,494.03 509.20,491.37 507.60,487.90 C506.00,484.43 505.47,479.08 505.20,475.10 C504.93,471.12 504.93,467.32 506.00,464.00Z" fill="#f2ebf1"/>
<path d="M506.00,464.00 C507.07,460.68 509.08,457.07 511.60,455.20 C514.12,453.33 517.92,453.07 521.10,452.80 C524.28,452.53 528.03,453.07 530.70,453.60 C533.37,454.13 534.97,455.87 537.10,456.00 C539.23,456.13 540.83,454.80 543.50,454.40 C546.17,454.00 549.63,453.47 553.10,453.60 C556.57,453.73 561.23,453.73 564.30,455.20 C567.37,456.67 570.03,459.33 571.50,462.40 C572.97,465.47 573.23,469.62 573.10,473.60 C572.97,477.58 572.17,482.85 570.70,486.30 C569.23,489.75 567.23,492.30 564.30,494.30 C561.37,496.30 557.63,497.77 553.10,498.30 C548.57,498.83 541.63,497.37 537.10,497.50 C532.57,497.63 529.62,499.37 525.90,499.10 C522.18,498.83 517.85,497.77 514.80,495.90 C511.75,494.03 509.20,491.37 507.60,487.90 C506.00,484.43 505.47,479.08 505.20,475.10 C504.93,471.12 504.93,467.32 506.00,464.00Z" fill="#fff" filter="url(#spPkV)"/>
<clipPath id="clipV5"><path d="M506.00,464.00 C507.07,460.68 509.08,457.07 511.60,455.20 C514.12,453.33 517.92,453.07 521.10,452.80 C524.28,452.53 528.03,453.07 530.70,453.60 C533.37,454.13 534.97,455.87 537.10,456.00 C539.23,456.13 540.83,454.80 543.50,454.40 C546.17,454.00 549.63,453.47 553.10,453.60 C556.57,453.73 561.23,453.73 564.30,455.20 C567.37,456.67 570.03,459.33 571.50,462.40 C572.97,465.47 573.23,469.62 573.10,473.60 C572.97,477.58 572.17,482.85 570.70,486.30 C569.23,489.75 567.23,492.30 564.30,494.30 C561.37,496.30 557.63,497.77 553.10,498.30 C548.57,498.83 541.63,497.37 537.10,497.50 C532.57,497.63 529.62,499.37 525.90,499.10 C522.18,498.83 517.85,497.77 514.80,495.90 C511.75,494.03 509.20,491.37 507.60,487.90 C506.00,484.43 505.47,479.08 505.20,475.10 C504.93,471.12 504.93,467.32 506.00,464.00Z"/></clipPath>
<g clip-path="url(#clipV5)">
<path d="M511.42,464.15 C512.87,461.68 515.60,459.15 518.26,458.15 C520.92,457.15 524.91,457.55 527.38,458.15 C529.85,458.75 532.00,458.88 533.08,461.75 C534.15,464.62 533.90,470.42 533.84,475.35 C533.77,480.28 534.28,488.35 532.70,491.35 C531.11,494.35 527.25,493.48 524.34,493.35 C521.42,493.22 517.56,492.48 515.22,490.55 C512.87,488.62 511.23,484.68 510.28,481.75 C509.33,478.82 509.33,475.88 509.52,472.95 C509.71,470.02 509.96,466.62 511.42,464.15Z" fill="#f3edf2"/>
<path d="M544.64,461.16 C545.91,458.29 547.94,458.69 550.72,458.36 C553.51,458.03 558.64,457.89 561.36,459.16 C564.09,460.43 565.92,462.96 567.06,465.96 C568.20,468.96 568.39,473.83 568.20,477.16 C568.01,480.49 567.32,483.56 565.92,485.96 C564.53,488.36 562.38,490.36 559.84,491.56 C557.31,492.76 553.38,493.43 550.72,493.16 C548.06,492.89 545.15,492.89 543.88,489.96 C542.62,487.03 543.00,480.36 543.12,475.56 C543.25,470.76 543.38,464.03 544.64,461.16Z" fill="#f3edf2"/>
<g filter="url(#magF)">
<path d="M510.61,463.62 C512.18,461.03 515.12,458.37 517.99,457.32 C520.86,456.27 525.17,456.69 527.83,457.32 C530.50,457.95 532.82,458.09 533.98,461.10 C535.14,464.11 534.87,470.20 534.80,475.38 C534.73,480.56 535.28,489.03 533.57,492.18 C531.86,495.33 527.70,494.42 524.55,494.28 C521.41,494.14 517.24,493.37 514.71,491.34 C512.18,489.31 510.41,485.18 509.38,482.10 C508.36,479.02 508.36,475.94 508.56,472.86 C508.77,469.78 509.04,466.21 510.61,463.62Z" fill="none" stroke="#c35fc0" stroke-width="2.79" opacity="0.59"/>
<path d="M511.15,464.02 C512.64,461.52 515.44,458.95 518.17,457.94 C520.90,456.93 524.99,457.33 527.53,457.94 C530.06,458.55 532.27,458.68 533.38,461.59 C534.48,464.49 534.22,470.36 534.16,475.36 C534.09,480.35 534.61,488.52 532.99,491.56 C531.36,494.60 527.40,493.72 524.41,493.58 C521.42,493.45 517.45,492.70 515.05,490.75 C512.64,488.79 510.95,484.81 509.98,481.84 C509.00,478.87 509.00,475.90 509.20,472.93 C509.39,469.96 509.65,466.51 511.15,464.02Z" fill="none" stroke="#a0229e" stroke-width="0.82" opacity="0.68"/>
<path d="M543.78,460.43 C545.15,457.42 547.34,457.84 550.34,457.49 C553.35,457.14 558.88,457.00 561.82,458.33 C564.76,459.66 566.74,462.32 567.97,465.47 C569.20,468.62 569.41,473.73 569.20,477.23 C569.00,480.73 568.25,483.95 566.74,486.47 C565.24,488.99 562.92,491.09 560.18,492.35 C557.45,493.61 553.21,494.31 550.34,494.03 C547.47,493.75 544.33,493.75 542.96,490.67 C541.60,487.59 542.01,480.59 542.14,475.55 C542.28,470.51 542.42,463.44 543.78,460.43Z" fill="none" stroke="#c35fc0" stroke-width="2.79" opacity="0.59"/>
<path d="M544.36,460.98 C545.66,458.07 547.74,458.48 550.60,458.14 C553.46,457.80 558.72,457.67 561.52,458.95 C564.31,460.23 566.20,462.80 567.37,465.84 C568.54,468.87 568.73,473.80 568.54,477.18 C568.34,480.55 567.63,483.66 566.20,486.09 C564.77,488.52 562.56,490.54 559.96,491.76 C557.36,492.97 553.33,493.65 550.60,493.38 C547.87,493.11 544.88,493.11 543.58,490.14 C542.28,487.17 542.67,480.42 542.80,475.56 C542.93,470.70 543.06,463.88 544.36,460.98Z" fill="none" stroke="#a0229e" stroke-width="0.82" opacity="0.68"/>
</g></g>
<path d="M506.00,464.00 C507.07,460.68 509.08,457.07 511.60,455.20 C514.12,453.33 517.92,453.07 521.10,452.80 C524.28,452.53 528.03,453.07 530.70,453.60 C533.37,454.13 534.97,455.87 537.10,456.00 C539.23,456.13 540.83,454.80 543.50,454.40 C546.17,454.00 549.63,453.47 553.10,453.60 C556.57,453.73 561.23,453.73 564.30,455.20 C567.37,456.67 570.03,459.33 571.50,462.40 C572.97,465.47 573.23,469.62 573.10,473.60 C572.97,477.58 572.17,482.85 570.70,486.30 C569.23,489.75 567.23,492.30 564.30,494.30 C561.37,496.30 557.63,497.77 553.10,498.30 C548.57,498.83 541.63,497.37 537.10,497.50 C532.57,497.63 529.62,499.37 525.90,499.10 C522.18,498.83 517.85,497.77 514.80,495.90 C511.75,494.03 509.20,491.37 507.60,487.90 C506.00,484.43 505.47,479.08 505.20,475.10 C504.93,471.12 504.93,467.32 506.00,464.00Z" fill="url(#dotsV)"/>
<path d="M506.80,529.76 C508.40,525.89 511.35,520.60 514.80,518.11 C518.25,515.61 523.78,514.92 527.50,514.78 C531.22,514.64 534.70,516.44 537.10,517.28 C539.50,518.11 540.03,519.69 541.90,519.77 C543.77,519.86 545.37,517.93 548.30,517.80 C551.23,517.66 556.03,517.50 559.50,518.94 C562.97,520.38 566.83,522.98 569.10,526.43 C571.37,529.88 572.70,535.22 573.10,539.64 C573.50,544.06 572.97,549.07 571.50,552.95 C570.03,556.83 567.37,560.57 564.30,562.93 C561.23,565.29 556.83,566.68 553.10,567.09 C549.37,567.51 545.63,565.29 541.90,565.43 C538.17,565.57 534.68,568.06 530.70,567.92 C526.72,567.79 521.72,566.81 518.00,564.60 C514.28,562.38 510.53,558.49 508.40,554.61 C506.27,550.73 505.47,545.44 505.20,541.30 C504.93,537.16 505.20,533.62 506.80,529.76Z" fill="#ecd7e8"/>
<path d="M506.80,529.76 C508.40,525.89 511.35,520.60 514.80,518.11 C518.25,515.61 523.78,514.92 527.50,514.78 C531.22,514.64 534.70,516.44 537.10,517.28 C539.50,518.11 540.03,519.69 541.90,519.77 C543.77,519.86 545.37,517.93 548.30,517.80 C551.23,517.66 556.03,517.50 559.50,518.94 C562.97,520.38 566.83,522.98 569.10,526.43 C571.37,529.88 572.70,535.22 573.10,539.64 C573.50,544.06 572.97,549.07 571.50,552.95 C570.03,556.83 567.37,560.57 564.30,562.93 C561.23,565.29 556.83,566.68 553.10,567.09 C549.37,567.51 545.63,565.29 541.90,565.43 C538.17,565.57 534.68,568.06 530.70,567.92 C526.72,567.79 521.72,566.81 518.00,564.60 C514.28,562.38 510.53,558.49 508.40,554.61 C506.27,550.73 505.47,545.44 505.20,541.30 C504.93,537.16 505.20,533.62 506.80,529.76Z" fill="#fff" filter="url(#spPk)"/>
<clipPath id="clipS5"><path d="M506.80,529.76 C508.40,525.89 511.35,520.60 514.80,518.11 C518.25,515.61 523.78,514.92 527.50,514.78 C531.22,514.64 534.70,516.44 537.10,517.28 C539.50,518.11 540.03,519.69 541.90,519.77 C543.77,519.86 545.37,517.93 548.30,517.80 C551.23,517.66 556.03,517.50 559.50,518.94 C562.97,520.38 566.83,522.98 569.10,526.43 C571.37,529.88 572.70,535.22 573.10,539.64 C573.50,544.06 572.97,549.07 571.50,552.95 C570.03,556.83 567.37,560.57 564.30,562.93 C561.23,565.29 556.83,566.68 553.10,567.09 C549.37,567.51 545.63,565.29 541.90,565.43 C538.17,565.57 534.68,568.06 530.70,567.92 C526.72,567.79 521.72,566.81 518.00,564.60 C514.28,562.38 510.53,558.49 508.40,554.61 C506.27,550.73 505.47,545.44 505.20,541.30 C504.93,537.16 505.20,533.62 506.80,529.76Z"/></clipPath>
<g clip-path="url(#clipS5)">
<path d="M511.66,530.82 C513.11,528.09 515.84,524.75 518.50,523.22 C521.16,521.69 524.96,521.29 527.62,521.62 C530.28,521.95 533.13,521.95 534.46,525.22 C535.79,528.49 535.60,535.62 535.60,541.22 C535.60,546.82 536.04,555.49 534.46,558.82 C532.87,562.15 529.01,561.35 526.10,561.22 C523.18,561.09 519.51,560.02 516.98,558.02 C514.44,556.02 512.10,552.29 510.90,549.22 C509.69,546.15 509.63,542.69 509.76,539.62 C509.88,536.55 510.20,533.55 511.66,530.82Z" fill="#f3edf2"/>
<path d="M545.54,526.35 C546.87,523.35 549.72,523.55 552.38,523.55 C555.04,523.55 559.03,524.68 561.50,526.35 C563.97,528.02 566.04,530.75 567.20,533.55 C568.37,536.35 568.68,539.95 568.49,543.15 C568.30,546.35 567.48,550.08 566.06,552.75 C564.64,555.42 562.51,557.82 559.98,559.15 C557.45,560.48 553.39,560.88 550.86,560.75 C548.33,560.62 545.86,561.55 544.78,558.35 C543.70,555.15 544.27,546.88 544.40,541.55 C544.53,536.22 544.21,529.35 545.54,526.35Z" fill="#f3edf2"/>
<g filter="url(#magF)">
<path d="M510.79,530.32 C512.36,527.45 515.30,523.95 518.17,522.34 C521.04,520.73 525.14,520.31 528.01,520.66 C530.88,521.01 533.96,521.01 535.39,524.44 C536.83,527.87 536.62,535.36 536.62,541.24 C536.62,547.12 537.10,556.22 535.39,559.72 C533.68,563.22 529.52,562.38 526.37,562.24 C523.23,562.10 519.27,560.98 516.53,558.88 C513.80,556.78 511.27,552.86 509.97,549.64 C508.67,546.42 508.61,542.78 508.74,539.56 C508.88,536.34 509.22,533.19 510.79,530.32Z" fill="none" stroke="#c35fc0" stroke-width="2.79" opacity="0.59"/>
<path d="M511.37,530.69 C512.86,527.93 515.66,524.55 518.39,523.00 C521.12,521.45 525.02,521.04 527.75,521.38 C530.48,521.72 533.40,521.72 534.77,525.02 C536.13,528.33 535.94,535.55 535.94,541.22 C535.94,546.89 536.39,555.67 534.77,559.04 C533.14,562.42 529.18,561.61 526.19,561.47 C523.20,561.34 519.43,560.26 516.83,558.23 C514.23,556.21 511.82,552.43 510.59,549.32 C509.35,546.22 509.29,542.71 509.42,539.60 C509.55,536.50 509.87,533.46 511.37,530.69Z" fill="none" stroke="#a0229e" stroke-width="0.82" opacity="0.68"/>
<path d="M544.71,525.54 C546.14,522.39 549.22,522.60 552.09,522.60 C554.96,522.60 559.26,523.79 561.93,525.54 C564.59,527.29 566.82,530.16 568.08,533.10 C569.33,536.04 569.67,539.82 569.47,543.18 C569.26,546.54 568.38,550.46 566.85,553.26 C565.31,556.06 563.02,558.58 560.29,559.98 C557.55,561.38 553.18,561.80 550.45,561.66 C547.71,561.52 545.05,562.50 543.89,559.14 C542.72,555.78 543.34,547.10 543.48,541.50 C543.61,535.90 543.27,528.69 544.71,525.54Z" fill="none" stroke="#c35fc0" stroke-width="2.79" opacity="0.59"/>
<path d="M545.26,526.15 C546.63,523.11 549.55,523.31 552.28,523.31 C555.01,523.31 559.11,524.46 561.64,526.15 C564.18,527.83 566.30,530.60 567.49,533.44 C568.69,536.27 569.01,539.92 568.82,543.16 C568.62,546.40 567.78,550.18 566.32,552.88 C564.87,555.58 562.68,558.01 560.08,559.36 C557.48,560.71 553.32,561.11 550.72,560.98 C548.12,560.84 545.59,561.79 544.48,558.55 C543.38,555.31 543.96,546.94 544.09,541.54 C544.22,536.14 543.90,529.18 545.26,526.15Z" fill="none" stroke="#a0229e" stroke-width="0.82" opacity="0.68"/>
</g></g>
<path d="M506.80,529.76 C508.40,525.89 511.35,520.60 514.80,518.11 C518.25,515.61 523.78,514.92 527.50,514.78 C531.22,514.64 534.70,516.44 537.10,517.28 C539.50,518.11 540.03,519.69 541.90,519.77 C543.77,519.86 545.37,517.93 548.30,517.80 C551.23,517.66 556.03,517.50 559.50,518.94 C562.97,520.38 566.83,522.98 569.10,526.43 C571.37,529.88 572.70,535.22 573.10,539.64 C573.50,544.06 572.97,549.07 571.50,552.95 C570.03,556.83 567.37,560.57 564.30,562.93 C561.23,565.29 556.83,566.68 553.10,567.09 C549.37,567.51 545.63,565.29 541.90,565.43 C538.17,565.57 534.68,568.06 530.70,567.92 C526.72,567.79 521.72,566.81 518.00,564.60 C514.28,562.38 510.53,558.49 508.40,554.61 C506.27,550.73 505.47,545.44 505.20,541.30 C504.93,537.16 505.20,533.62 506.80,529.76Z" fill="url(#dotsS)"/>
<path d="M559.2,529.3 L566.2,537.3 L567.2,533.3" fill="none" stroke="#ffffff" stroke-width="1.3" stroke-linejoin="round"/>
<line x1="552.2" y1="549.3" x2="552.2" y2="552.3" stroke="#ffffff" stroke-width="1.2"/>
<circle cx="541.3" cy="606.5" r="23.6" fill="#efe8ee"/>
<g filter="url(#magF)">
<path d="M527.30,586.50 C528.80,586.83 534.47,586.50 536.30,588.50 C538.13,590.50 537.97,594.83 538.30,598.50 C538.63,602.17 538.63,606.83 538.30,610.50 C537.97,614.17 536.47,617.50 536.30,620.50 C536.13,623.50 537.13,627.17 537.30,628.50" fill="none" stroke="#a0229e" stroke-width="1.19" opacity="0.72" stroke-linecap="round"/>
<path d="M543.30,584.50 C543.63,586.50 544.80,592.50 545.30,596.50 C545.80,600.50 545.97,604.83 546.30,608.50 C546.63,612.17 547.30,615.17 547.30,618.50 C547.30,621.83 546.47,626.83 546.30,628.50" fill="none" stroke="#a0229e" stroke-width="1.36" opacity="0.77" stroke-linecap="round"/>
<path d="M519.30,600.50 C519.47,602.17 519.97,607.83 520.30,610.50 C520.63,613.17 521.13,615.50 521.30,616.50" fill="none" stroke="#a0229e" stroke-width="0.85" opacity="0.42" stroke-linecap="round"/>
</g>
<circle cx="541.3" cy="606.5" r="23.6" fill="url(#dotsL)"/>
<path d="M592.60,464.00 C593.67,460.68 595.68,457.07 598.20,455.20 C600.72,453.33 604.52,453.07 607.70,452.80 C610.88,452.53 614.63,453.07 617.30,453.60 C619.97,454.13 621.57,455.87 623.70,456.00 C625.83,456.13 627.43,454.80 630.10,454.40 C632.77,454.00 636.23,453.47 639.70,453.60 C643.17,453.73 647.83,453.73 650.90,455.20 C653.97,456.67 656.63,459.33 658.10,462.40 C659.57,465.47 659.83,469.62 659.70,473.60 C659.57,477.58 658.77,482.85 657.30,486.30 C655.83,489.75 653.83,492.30 650.90,494.30 C647.97,496.30 644.23,497.77 639.70,498.30 C635.17,498.83 628.23,497.37 623.70,497.50 C619.17,497.63 616.22,499.37 612.50,499.10 C608.78,498.83 604.45,497.77 601.40,495.90 C598.35,494.03 595.80,491.37 594.20,487.90 C592.60,484.43 592.07,479.08 591.80,475.10 C591.53,471.12 591.53,467.32 592.60,464.00Z" fill="#f2ebf1"/>
<path d="M592.60,464.00 C593.67,460.68 595.68,457.07 598.20,455.20 C600.72,453.33 604.52,453.07 607.70,452.80 C610.88,452.53 614.63,453.07 617.30,453.60 C619.97,454.13 621.57,455.87 623.70,456.00 C625.83,456.13 627.43,454.80 630.10,454.40 C632.77,454.00 636.23,453.47 639.70,453.60 C643.17,453.73 647.83,453.73 650.90,455.20 C653.97,456.67 656.63,459.33 658.10,462.40 C659.57,465.47 659.83,469.62 659.70,473.60 C659.57,477.58 658.77,482.85 657.30,486.30 C655.83,489.75 653.83,492.30 650.90,494.30 C647.97,496.30 644.23,497.77 639.70,498.30 C635.17,498.83 628.23,497.37 623.70,497.50 C619.17,497.63 616.22,499.37 612.50,499.10 C608.78,498.83 604.45,497.77 601.40,495.90 C598.35,494.03 595.80,491.37 594.20,487.90 C592.60,484.43 592.07,479.08 591.80,475.10 C591.53,471.12 591.53,467.32 592.60,464.00Z" fill="#fff" filter="url(#spPkV)"/>
<clipPath id="clipV6"><path d="M592.60,464.00 C593.67,460.68 595.68,457.07 598.20,455.20 C600.72,453.33 604.52,453.07 607.70,452.80 C610.88,452.53 614.63,453.07 617.30,453.60 C619.97,454.13 621.57,455.87 623.70,456.00 C625.83,456.13 627.43,454.80 630.10,454.40 C632.77,454.00 636.23,453.47 639.70,453.60 C643.17,453.73 647.83,453.73 650.90,455.20 C653.97,456.67 656.63,459.33 658.10,462.40 C659.57,465.47 659.83,469.62 659.70,473.60 C659.57,477.58 658.77,482.85 657.30,486.30 C655.83,489.75 653.83,492.30 650.90,494.30 C647.97,496.30 644.23,497.77 639.70,498.30 C635.17,498.83 628.23,497.37 623.70,497.50 C619.17,497.63 616.22,499.37 612.50,499.10 C608.78,498.83 604.45,497.77 601.40,495.90 C598.35,494.03 595.80,491.37 594.20,487.90 C592.60,484.43 592.07,479.08 591.80,475.10 C591.53,471.12 591.53,467.32 592.60,464.00Z"/></clipPath>
<g clip-path="url(#clipV6)">
<path d="M596.14,462.82 C597.87,460.05 601.09,457.20 604.24,456.07 C607.39,454.95 612.12,455.40 615.04,456.07 C617.96,456.75 620.51,456.90 621.79,460.12 C623.06,463.35 622.76,469.88 622.69,475.43 C622.61,480.98 623.21,490.05 621.34,493.43 C619.46,496.80 614.89,495.83 611.44,495.68 C607.99,495.52 603.41,494.70 600.64,492.52 C597.87,490.35 595.91,485.93 594.79,482.62 C593.66,479.32 593.66,476.03 593.89,472.73 C594.12,469.43 594.41,465.60 596.14,462.82Z" fill="#f3edf2"/>
<path d="M629.23,459.33 C630.73,456.11 633.13,456.56 636.43,456.18 C639.73,455.81 645.81,455.65 649.03,457.08 C652.26,458.50 654.43,461.36 655.78,464.73 C657.13,468.11 657.36,473.58 657.13,477.33 C656.91,481.08 656.08,484.53 654.43,487.23 C652.78,489.93 650.23,492.18 647.23,493.53 C644.23,494.88 639.58,495.63 636.43,495.33 C633.28,495.03 629.83,495.03 628.33,491.73 C626.83,488.43 627.28,480.93 627.43,475.53 C627.58,470.13 627.73,462.55 629.23,459.33Z" fill="#f3edf2"/>
<g filter="url(#magF)">
<path d="M594.80,461.50 C596.72,458.42 600.30,455.25 603.80,454.00 C607.30,452.75 612.55,453.25 615.80,454.00 C619.05,454.75 621.88,454.92 623.30,458.50 C624.72,462.08 624.38,469.33 624.30,475.50 C624.22,481.67 624.88,491.75 622.80,495.50 C620.72,499.25 615.63,498.17 611.80,498.00 C607.97,497.83 602.88,496.92 599.80,494.50 C596.72,492.08 594.55,487.17 593.30,483.50 C592.05,479.83 592.05,476.17 592.30,472.50 C592.55,468.83 592.88,464.58 594.80,461.50Z" fill="none" stroke="#c35fc0" stroke-width="1.64" opacity="0.51"/>
<path d="M627.80,457.50 C629.47,453.92 632.13,454.42 635.80,454.00 C639.47,453.58 646.22,453.42 649.80,455.00 C653.38,456.58 655.80,459.75 657.30,463.50 C658.80,467.25 659.05,473.33 658.80,477.50 C658.55,481.67 657.63,485.50 655.80,488.50 C653.97,491.50 651.13,494.00 647.80,495.50 C644.47,497.00 639.30,497.83 635.80,497.50 C632.30,497.17 628.47,497.17 626.80,493.50 C625.13,489.83 625.63,481.50 625.80,475.50 C625.97,469.50 626.13,461.08 627.80,457.50Z" fill="none" stroke="#c35fc0" stroke-width="1.64" opacity="0.51"/>
<path d="M624.8,475.5 L626.8,475.5 L638.8,499.5 L616.8,499.5 Z" fill="#a0229e" opacity="0.75"/>
<path d="M649.8,473.5 Q661.8,481.5 651.8,489.5 Z" fill="#c35fc0" opacity="0.7"/>
</g></g>
<path d="M592.60,464.00 C593.67,460.68 595.68,457.07 598.20,455.20 C600.72,453.33 604.52,453.07 607.70,452.80 C610.88,452.53 614.63,453.07 617.30,453.60 C619.97,454.13 621.57,455.87 623.70,456.00 C625.83,456.13 627.43,454.80 630.10,454.40 C632.77,454.00 636.23,453.47 639.70,453.60 C643.17,453.73 647.83,453.73 650.90,455.20 C653.97,456.67 656.63,459.33 658.10,462.40 C659.57,465.47 659.83,469.62 659.70,473.60 C659.57,477.58 658.77,482.85 657.30,486.30 C655.83,489.75 653.83,492.30 650.90,494.30 C647.97,496.30 644.23,497.77 639.70,498.30 C635.17,498.83 628.23,497.37 623.70,497.50 C619.17,497.63 616.22,499.37 612.50,499.10 C608.78,498.83 604.45,497.77 601.40,495.90 C598.35,494.03 595.80,491.37 594.20,487.90 C592.60,484.43 592.07,479.08 591.80,475.10 C591.53,471.12 591.53,467.32 592.60,464.00Z" fill="url(#dotsV)"/>
<path d="M593.40,529.76 C595.00,525.89 597.95,520.60 601.40,518.11 C604.85,515.61 610.38,514.92 614.10,514.78 C617.82,514.64 621.30,516.44 623.70,517.28 C626.10,518.11 626.63,519.69 628.50,519.77 C630.37,519.86 631.97,517.93 634.90,517.80 C637.83,517.66 642.63,517.50 646.10,518.94 C649.57,520.38 653.43,522.98 655.70,526.43 C657.97,529.88 659.30,535.22 659.70,539.64 C660.10,544.06 659.57,549.07 658.10,552.95 C656.63,556.83 653.97,560.57 650.90,562.93 C647.83,565.29 643.43,566.68 639.70,567.09 C635.97,567.51 632.23,565.29 628.50,565.43 C624.77,565.57 621.28,568.06 617.30,567.92 C613.32,567.79 608.32,566.81 604.60,564.60 C600.88,562.38 597.13,558.49 595.00,554.61 C592.87,550.73 592.07,545.44 591.80,541.30 C591.53,537.16 591.80,533.62 593.40,529.76Z" fill="#ecd7e8"/>
<path d="M593.40,529.76 C595.00,525.89 597.95,520.60 601.40,518.11 C604.85,515.61 610.38,514.92 614.10,514.78 C617.82,514.64 621.30,516.44 623.70,517.28 C626.10,518.11 626.63,519.69 628.50,519.77 C630.37,519.86 631.97,517.93 634.90,517.80 C637.83,517.66 642.63,517.50 646.10,518.94 C649.57,520.38 653.43,522.98 655.70,526.43 C657.97,529.88 659.30,535.22 659.70,539.64 C660.10,544.06 659.57,549.07 658.10,552.95 C656.63,556.83 653.97,560.57 650.90,562.93 C647.83,565.29 643.43,566.68 639.70,567.09 C635.97,567.51 632.23,565.29 628.50,565.43 C624.77,565.57 621.28,568.06 617.30,567.92 C613.32,567.79 608.32,566.81 604.60,564.60 C600.88,562.38 597.13,558.49 595.00,554.61 C592.87,550.73 592.07,545.44 591.80,541.30 C591.53,537.16 591.80,533.62 593.40,529.76Z" fill="#fff" filter="url(#spPk)"/>
<clipPath id="clipS6"><path d="M593.40,529.76 C595.00,525.89 597.95,520.60 601.40,518.11 C604.85,515.61 610.38,514.92 614.10,514.78 C617.82,514.64 621.30,516.44 623.70,517.28 C626.10,518.11 626.63,519.69 628.50,519.77 C630.37,519.86 631.97,517.93 634.90,517.80 C637.83,517.66 642.63,517.50 646.10,518.94 C649.57,520.38 653.43,522.98 655.70,526.43 C657.97,529.88 659.30,535.22 659.70,539.64 C660.10,544.06 659.57,549.07 658.10,552.95 C656.63,556.83 653.97,560.57 650.90,562.93 C647.83,565.29 643.43,566.68 639.70,567.09 C635.97,567.51 632.23,565.29 628.50,565.43 C624.77,565.57 621.28,568.06 617.30,567.92 C613.32,567.79 608.32,566.81 604.60,564.60 C600.88,562.38 597.13,558.49 595.00,554.61 C592.87,550.73 592.07,545.44 591.80,541.30 C591.53,537.16 591.80,533.62 593.40,529.76Z"/></clipPath>
<g clip-path="url(#clipS6)">
<path d="M596.24,529.56 C597.97,526.48 601.19,522.74 604.34,521.01 C607.49,519.28 611.99,518.83 615.14,519.21 C618.29,519.58 621.66,519.59 623.24,523.26 C624.82,526.93 624.59,534.96 624.59,541.26 C624.59,547.56 625.12,557.31 623.24,561.06 C621.37,564.81 616.79,563.91 613.34,563.76 C609.89,563.61 605.54,562.41 602.54,560.16 C599.54,557.91 596.76,553.71 595.34,550.26 C593.91,546.81 593.84,542.91 593.99,539.46 C594.14,536.01 594.51,532.63 596.24,529.56Z" fill="#f3edf2"/>
<path d="M630.19,524.32 C631.77,520.95 635.14,521.17 638.29,521.17 C641.44,521.17 646.17,522.45 649.09,524.32 C652.02,526.20 654.46,529.27 655.84,532.42 C657.22,535.57 657.60,539.62 657.37,543.22 C657.15,546.82 656.17,551.02 654.49,554.02 C652.81,557.02 650.29,559.72 647.29,561.22 C644.29,562.72 639.49,563.17 636.49,563.02 C633.49,562.88 630.57,563.92 629.29,560.32 C628.02,556.72 628.69,547.42 628.84,541.42 C628.99,535.42 628.62,527.70 630.19,524.32Z" fill="#f3edf2"/>
<g filter="url(#magF)">
<path d="M594.80,528.30 C596.72,524.88 600.30,520.72 603.80,518.80 C607.30,516.88 612.30,516.38 615.80,516.80 C619.30,517.22 623.05,517.22 624.80,521.30 C626.55,525.38 626.30,534.30 626.30,541.30 C626.30,548.30 626.88,559.13 624.80,563.30 C622.72,567.47 617.63,566.47 613.80,566.30 C609.97,566.13 605.13,564.80 601.80,562.30 C598.47,559.80 595.38,555.13 593.80,551.30 C592.22,547.47 592.13,543.13 592.30,539.30 C592.47,535.47 592.88,531.72 594.80,528.30Z" fill="none" stroke="#c35fc0" stroke-width="1.64" opacity="0.51"/>
<path d="M628.80,522.30 C630.55,518.55 634.30,518.80 637.80,518.80 C641.30,518.80 646.55,520.22 649.80,522.30 C653.05,524.38 655.77,527.80 657.30,531.30 C658.83,534.80 659.25,539.30 659.00,543.30 C658.75,547.30 657.67,551.97 655.80,555.30 C653.93,558.63 651.13,561.63 647.80,563.30 C644.47,564.97 639.13,565.47 635.80,565.30 C632.47,565.13 629.22,566.30 627.80,562.30 C626.38,558.30 627.13,547.97 627.30,541.30 C627.47,534.63 627.05,526.05 628.80,522.30Z" fill="none" stroke="#c35fc0" stroke-width="1.64" opacity="0.51"/>
<path d="M624.8,531.3 L626.8,531.3 L633.8,567.3 L616.8,567.3 Z" fill="#a0229e" opacity="0.75"/>
<path d="M589.8,539.3 Q601.8,549.3 595.8,561.3 L589.8,553.3 Z" fill="#a0229e" opacity="0.7"/>
</g></g>
<path d="M593.40,529.76 C595.00,525.89 597.95,520.60 601.40,518.11 C604.85,515.61 610.38,514.92 614.10,514.78 C617.82,514.64 621.30,516.44 623.70,517.28 C626.10,518.11 626.63,519.69 628.50,519.77 C630.37,519.86 631.97,517.93 634.90,517.80 C637.83,517.66 642.63,517.50 646.10,518.94 C649.57,520.38 653.43,522.98 655.70,526.43 C657.97,529.88 659.30,535.22 659.70,539.64 C660.10,544.06 659.57,549.07 658.10,552.95 C656.63,556.83 653.97,560.57 650.90,562.93 C647.83,565.29 643.43,566.68 639.70,567.09 C635.97,567.51 632.23,565.29 628.50,565.43 C624.77,565.57 621.28,568.06 617.30,567.92 C613.32,567.79 608.32,566.81 604.60,564.60 C600.88,562.38 597.13,558.49 595.00,554.61 C592.87,550.73 592.07,545.44 591.80,541.30 C591.53,537.16 591.80,533.62 593.40,529.76Z" fill="url(#dotsS)"/>
<path d="M645.8,529.3 L652.8,537.3 L653.8,533.3" fill="none" stroke="#ffffff" stroke-width="1.3" stroke-linejoin="round"/>
<line x1="638.8" y1="549.3" x2="638.8" y2="552.3" stroke="#ffffff" stroke-width="1.2"/>
<circle cx="630.5" cy="606.5" r="23.6" fill="#efe8ee"/>
<g filter="url(#magF)">
<path d="M631.5,583.5 C632.5,596.5 635.5,606.5 636.5,629.5 L626.5,629.5 C627.5,614.5 628.5,598.5 629.5,583.5 Z" fill="#a0229e" opacity="0.85"/>
</g>
<circle cx="630.5" cy="606.5" r="23.6" fill="url(#dotsL)"/>
<linearGradient id="magG" x1="0" y1="0" x2="0" y2="1"><stop offset="0" stop-color="#8e1a8c"/><stop offset="0.5" stop-color="#c77cc5"/><stop offset="1" stop-color="#f4eef4"/></linearGradient>
<rect x="688.5" y="505" width="11.5" height="67.5" fill="url(#magG)"/>
<text x="693.50" y="488.30" font-size="9.3" text-anchor="middle" fill="#1a1a1a" font-weight="normal" >Topic</text>
<text x="693.50" y="498.30" font-size="9.3" text-anchor="middle" fill="#1a1a1a" font-weight="normal" >proportion</text>
<text x="702.50" y="511.80" font-size="9.3" text-anchor="start" fill="#1a1a1a" font-weight="normal" >High</text>
<text x="702.50" y="573.30" font-size="9.3" text-anchor="start" fill="#1a1a1a" font-weight="normal" >Low</text>
<text x="0.00" y="657.80" font-size="13.5" text-anchor="start" fill="#000" font-weight="bold" >f</text>
<circle cx="19.3" cy="654.9" r="2.5" fill="#1f77b4"/>
<text x="25.30" y="658.20" font-size="9.0" text-anchor="start" fill="#1a1a1a" font-weight="normal" >Layer 1</text>
<circle cx="65.4" cy="654.9" r="2.5" fill="#ff7f0e"/>
<text x="71.40" y="658.20" font-size="9.0" text-anchor="start" fill="#1a1a1a" font-weight="normal" >Layer 2</text>
<circle cx="112.0" cy="654.9" r="2.5" fill="#2ca02c"/>
<text x="118.00" y="658.20" font-size="9.0" text-anchor="start" fill="#1a1a1a" font-weight="normal" >Layer 3</text>
<circle cx="19.3" cy="668.8" r="2.5" fill="#d62728"/>
<text x="25.30" y="672.10" font-size="9.0" text-anchor="start" fill="#1a1a1a" font-weight="normal" >Layer 4</text>
<circle cx="65.4" cy="668.8" r="2.5" fill="#9467bd"/>
<text x="71.40" y="672.10" font-size="9.0" text-anchor="start" fill="#1a1a1a" font-weight="normal" >Layer 5</text>
<circle cx="112.0" cy="668.8" r="2.5" fill="#8c564b"/>
<text x="118.00" y="672.10" font-size="9.0" text-anchor="start" fill="#1a1a1a" font-weight="normal" >Layer 6</text>
<circle cx="19.3" cy="683.9" r="2.5" fill="#e377c2"/>
<text x="25.30" y="687.20" font-size="9.0" text-anchor="start" fill="#1a1a1a" font-weight="normal" >WM</text>
<text x="71.80" y="701.30" font-size="9.0" text-anchor="middle" fill="#1a1a1a" font-weight="normal" >12 slides</text>
<rect x="1.0" y="704.9" width="136.4" height="156.1" fill="#bebebe" stroke="#a8a8a8" stroke-width="0.4"/>
<rect x="3.0" y="706.9" width="132.4" height="6" fill="url(#fdots)"/>
<path d="M30.0,705.4 H109.0 L109.0,712.4 L30.0,712.4 Z" fill="#9d78ad"/>
<line x1="24.0" y1="711.4" x2="70.0" y2="711.4" stroke="#3d7fbf" stroke-width="0.8"/>
<line x1="70.0" y1="711.4" x2="108.0" y2="711.4" stroke="#f08a3a" stroke-width="0.8"/>
<rect x="6.6" y="713.3" width="136.4" height="154.6" fill="#bebebe" stroke="#a8a8a8" stroke-width="0.4"/>
<rect x="8.6" y="715.3" width="132.4" height="6" fill="url(#fdots)"/>
<path d="M36.8,713.8 H115.8 L115.8,720.8 L36.8,720.8 Z" fill="#9d78ad"/>
<line x1="30.8" y1="719.8" x2="76.8" y2="719.8" stroke="#3d7fbf" stroke-width="0.8"/>
<line x1="76.8" y1="719.8" x2="114.8" y2="719.8" stroke="#f08a3a" stroke-width="0.8"/>
<rect x="15.0" y="720.4" width="136.8" height="160" fill="#bebebe" stroke="#a8a8a8" stroke-width="0.4"/>
<rect x="17.0" y="722.4" width="132.8" height="6" fill="url(#fdots)"/>
<path d="M46.4,720.9 H125.4 L125.4,727.9 L46.4,727.9 Z" fill="#9d78ad"/>
<rect x="17" y="871" width="133" height="5" fill="url(#fdots)"/>
<path d="M22.16,750.97 C21.61,749.26 22.71,742.77 23.27,741.00 C23.82,739.22 25.60,734.35 27.70,733.24 C29.81,732.13 40.44,730.40 44.32,729.92 C48.20,729.43 62.05,728.59 66.48,728.37 C70.91,728.14 83.32,727.77 88.64,727.70 C93.96,727.63 115.68,726.70 119.67,727.70 C123.66,728.70 126.98,735.12 128.53,737.67 C130.08,740.22 134.29,750.30 135.18,753.19 C136.07,756.07 137.06,762.94 137.40,766.48 C137.73,770.03 138.06,785.32 138.50,788.64 C138.95,791.97 141.16,796.18 141.83,799.72 C142.49,803.27 145.04,819.34 145.15,824.10 C145.26,828.86 144.16,844.49 142.94,847.37 C141.72,850.25 136.84,852.35 132.96,852.91 C129.09,853.46 108.59,852.69 104.16,852.91 C99.72,853.13 90.64,854.50 88.64,855.12 C86.65,855.75 86.43,859.11 84.21,859.11 C81.99,859.11 68.70,854.75 66.48,855.12 C64.27,855.50 63.38,861.95 62.05,862.88 C60.72,863.81 57.17,865.10 53.19,864.43 C49.20,863.77 25.37,859.38 22.16,856.23 C18.95,853.09 20.94,837.51 21.05,832.96 C21.16,828.42 22.71,815.24 23.27,810.80 C23.82,806.37 26.26,793.07 26.59,788.64 C26.93,784.21 26.37,769.54 26.59,766.48 C26.81,763.42 29.25,759.61 28.81,758.06 C28.37,756.51 22.71,752.68 22.16,750.97Z" fill="#3f7fc1" filter="url(#fhex)"/>
<path d="M24.82,761.16 C26.64,757.35 40.16,752.70 44.32,750.53 C48.49,748.35 62.36,741.55 66.48,739.45 C70.60,737.34 80.44,730.54 85.54,729.47 C90.64,728.41 112.75,726.17 117.45,728.81 C122.15,731.45 130.64,751.41 132.52,755.84 C134.40,760.28 135.69,769.41 136.29,773.13 C136.89,776.85 137.95,790.37 138.50,793.07 C139.06,795.78 141.16,797.06 141.83,800.17 C142.49,803.27 145.04,819.38 145.15,824.10 C145.26,828.82 144.16,844.49 142.94,847.37 C141.72,850.25 136.84,852.35 132.96,852.91 C129.09,853.46 108.59,852.69 104.16,852.91 C99.72,853.13 90.64,854.50 88.64,855.12 C86.65,855.75 86.43,859.11 84.21,859.11 C81.99,859.11 68.70,854.75 66.48,855.12 C64.27,855.50 63.38,861.95 62.05,862.88 C60.72,863.81 57.17,865.10 53.19,864.43 C49.20,863.77 25.37,859.38 22.16,856.23 C18.95,853.09 20.94,837.51 21.05,832.96 C21.16,828.42 22.76,815.24 23.27,810.80 C23.78,806.37 25.99,793.61 26.15,788.64 C26.30,783.68 23.00,764.98 24.82,761.16Z" fill="#f08a36" filter="url(#fhex)"/>
<path d="M25.71,765.15 C27.52,761.78 40.24,757.11 44.32,754.96 C48.40,752.81 62.16,745.76 66.48,743.66 C70.80,741.55 82.70,735.12 87.53,733.91 C92.37,732.69 110.52,729.05 114.79,731.47 C119.07,733.88 128.49,752.79 130.30,758.06 C132.12,763.34 132.37,779.82 132.96,784.21 C133.56,788.60 135.73,797.95 136.29,801.94 C136.84,805.93 138.50,819.89 138.50,824.10 C138.50,828.31 136.84,841.34 136.29,844.04 C135.73,846.75 136.18,850.25 132.96,851.14 C129.75,852.02 108.59,852.51 104.16,852.91 C99.72,853.31 90.64,854.50 88.64,855.12 C86.65,855.75 86.43,859.11 84.21,859.11 C81.99,859.11 68.70,854.75 66.48,855.12 C64.27,855.50 63.38,861.95 62.05,862.88 C60.72,863.81 57.17,865.10 53.19,864.43 C49.20,863.77 25.37,859.38 22.16,856.23 C18.95,853.09 20.94,837.51 21.05,832.96 C21.16,828.42 22.76,815.24 23.27,810.80 C23.78,806.37 25.91,793.21 26.15,788.64 C26.39,784.08 23.89,768.52 25.71,765.15Z" fill="#3f9d4e" filter="url(#fhex)"/>
<path d="M26.15,786.87 C28.25,783.32 40.29,777.83 44.32,775.35 C48.35,772.86 63.16,763.73 66.48,762.05 C69.81,760.37 73.97,758.86 77.56,758.50 C81.15,758.15 99.06,758.15 102.38,758.50 C105.71,758.86 109.47,760.59 110.80,762.05 C112.13,763.51 114.79,770.03 115.68,773.13 C116.57,776.23 119.36,788.86 119.67,793.07 C119.98,797.29 119.62,811.25 118.78,815.24 C117.94,819.22 112.71,829.15 111.25,832.96 C109.78,836.78 106.42,851.14 104.16,853.35 C101.89,855.57 90.64,854.55 88.64,855.12 C86.65,855.70 86.43,859.11 84.21,859.11 C81.99,859.11 68.70,854.75 66.48,855.12 C64.27,855.50 63.38,861.95 62.05,862.88 C60.72,863.81 57.17,865.10 53.19,864.43 C49.20,863.77 25.37,859.38 22.16,856.23 C18.95,853.09 20.94,837.51 21.05,832.96 C21.16,828.42 22.76,815.41 23.27,810.80 C23.78,806.19 24.04,790.42 26.15,786.87Z" fill="#d8373a" filter="url(#fhex)"/>
<path d="M26.15,791.30 C28.25,788.24 40.29,782.66 44.32,780.22 C48.35,777.78 63.16,768.65 66.48,766.93 C69.81,765.20 74.06,763.38 77.56,762.94 C81.06,762.49 98.39,762.09 101.50,762.49 C104.60,762.89 107.43,765.42 108.59,766.93 C109.74,768.43 112.27,774.73 113.02,777.56 C113.77,780.40 115.90,791.52 116.12,795.29 C116.34,799.06 115.99,811.47 115.24,815.24 C114.48,819.00 109.96,829.20 108.59,832.96 C107.21,836.73 103.49,850.69 101.50,852.91 C99.50,855.12 90.37,854.50 88.64,855.12 C86.91,855.75 86.43,859.11 84.21,859.11 C81.99,859.11 68.70,854.75 66.48,855.12 C64.27,855.50 63.38,861.95 62.05,862.88 C60.72,863.81 57.17,865.10 53.19,864.43 C49.20,863.77 25.37,859.38 22.16,856.23 C18.95,853.09 20.94,837.51 21.05,832.96 C21.16,828.42 22.76,814.97 23.27,810.80 C23.78,806.64 24.04,794.36 26.15,791.30Z" fill="#9a6fc0" filter="url(#fhex)"/>
<path d="M23.93,813.46 C26.04,811.07 40.07,803.27 44.32,800.17 C48.58,797.06 62.67,784.83 66.48,782.44 C70.29,780.04 79.78,776.76 82.44,776.23 C85.10,775.70 91.57,776.32 93.07,777.12 C94.58,777.92 96.93,782.39 97.51,784.21 C98.08,786.03 98.84,792.63 98.84,795.29 C98.84,797.95 98.08,807.04 97.51,810.80 C96.93,814.57 93.92,828.53 93.07,832.96 C92.23,837.40 89.97,852.51 89.09,855.12 C88.20,857.74 86.47,859.11 84.21,859.11 C81.95,859.11 68.70,854.75 66.48,855.12 C64.27,855.50 63.38,861.95 62.05,862.88 C60.72,863.81 57.17,865.10 53.19,864.43 C49.20,863.77 25.37,859.38 22.16,856.23 C18.95,853.09 20.94,836.18 21.05,832.96 C21.16,829.75 22.98,826.05 23.27,824.10 C23.56,822.15 21.83,815.86 23.93,813.46Z" fill="#8e5a52" filter="url(#fhex)"/>
<path d="M22.16,825.21 C23.27,821.60 29.92,821.62 33.24,820.11 C36.57,818.60 52.08,811.40 55.40,810.14 C58.73,808.88 64.71,807.41 66.48,807.48 C68.25,807.55 72.64,809.14 73.13,810.80 C73.62,812.47 71.98,821.44 71.36,824.10 C70.74,826.76 67.59,834.52 66.93,837.40 C66.26,840.28 65.20,850.36 64.71,852.91 C64.22,855.46 63.20,861.73 62.05,862.88 C60.90,864.03 57.17,865.10 53.19,864.43 C49.20,863.77 25.26,860.16 22.16,856.23 C19.06,852.31 21.05,828.82 22.16,825.21Z" fill="#d97bc8" filter="url(#fhex)"/>
<path d="M24.38,745.43 C24.82,744.88 31.47,743.32 33.24,743.21 C35.01,743.10 41.66,743.88 42.11,744.32 C42.55,744.76 39.00,747.20 37.67,747.65 C36.34,748.09 30.14,748.98 28.81,748.75 C27.48,748.53 23.93,745.98 24.38,745.43Z" fill="#c4c4c4"/>
<path d="M53.19,733.24 C53.41,732.80 60.72,731.02 62.05,731.02 C63.38,731.02 66.70,732.80 66.48,733.24 C66.26,733.68 61.16,735.46 59.83,735.46 C58.50,735.46 52.96,733.68 53.19,733.24Z" fill="#c4c4c4"/>
<polygon points="126.3,852.9 133.0,849.6 139.6,848.5 138.5,852.9 130.7,855.1" fill="#9a6fc0" />
<polygon points="123.0,865.1 130.7,857.8 133.0,860.0 126.3,866.2" fill="#9a6fc0" />
<text x="169.00" y="659.00" font-size="13.5" text-anchor="start" fill="#000" font-weight="bold" >g</text>
<text x="321.50" y="659.70" font-size="9.6" text-anchor="middle" fill="#1a1a1a" font-weight="normal" >Bio conservation</text>
<text x="511.80" y="659.70" font-size="9.6" text-anchor="middle" fill="#1a1a1a" font-weight="normal" >Batch correction</text>
<text x="664.30" y="659.70" font-size="9.6" text-anchor="middle" fill="#1a1a1a" font-weight="normal" >Aggregate score</text>
<line x1="235.8" y1="664.2" x2="408.2" y2="664.2" stroke="#333" stroke-width="0.6"/>
<line x1="426.4" y1="664.2" x2="597.7" y2="664.2" stroke="#333" stroke-width="0.6"/>
<line x1="612.7" y1="664.2" x2="716" y2="664.2" stroke="#333" stroke-width="0.6"/>
<text x="175.30" y="679.60" font-size="6.4" text-anchor="start" fill="#1a1a1a" font-weight="normal" >Method</text>
<text x="245.60" y="675.90" font-size="6.4" text-anchor="middle" fill="#1a1a1a" font-weight="normal" >Isolated</text>
<text x="245.60" y="683.40" font-size="6.4" text-anchor="middle" fill="#1a1a1a" font-weight="normal" >labels</text>
<text x="283.50" y="675.90" font-size="6.4" text-anchor="middle" fill="#1a1a1a" font-weight="normal" >KMeans</text>
<text x="283.50" y="683.40" font-size="6.4" text-anchor="middle" fill="#1a1a1a" font-weight="normal" >NMI</text>
<text x="322.00" y="675.90" font-size="6.4" text-anchor="middle" fill="#1a1a1a" font-weight="normal" >KMeans</text>
<text x="322.00" y="683.40" font-size="6.4" text-anchor="middle" fill="#1a1a1a" font-weight="normal" >ARI</text>
<text x="359.80" y="675.90" font-size="6.4" text-anchor="middle" fill="#1a1a1a" font-weight="normal" >Silhouette</text>
<text x="359.80" y="683.40" font-size="6.4" text-anchor="middle" fill="#1a1a1a" font-weight="normal" >label</text>
<text x="397.40" y="679.60" font-size="6.4" text-anchor="middle" fill="#1a1a1a" font-weight="normal" >cLISI</text>
<text x="435.80" y="675.90" font-size="6.4" text-anchor="middle" fill="#1a1a1a" font-weight="normal" >Silhouette</text>
<text x="435.80" y="683.40" font-size="6.4" text-anchor="middle" fill="#1a1a1a" font-weight="normal" >batch</text>
<text x="473.60" y="679.60" font-size="6.4" text-anchor="middle" fill="#1a1a1a" font-weight="normal" >iLISI</text>
<text x="512.00" y="679.60" font-size="6.4" text-anchor="middle" fill="#1a1a1a" font-weight="normal" >KBET</text>
<text x="550.00" y="675.90" font-size="6.4" text-anchor="middle" fill="#1a1a1a" font-weight="normal" >Graph</text>
<text x="550.00" y="683.40" font-size="6.4" text-anchor="middle" fill="#1a1a1a" font-weight="normal" >connectivity</text>
<text x="588.90" y="675.90" font-size="6.4" text-anchor="middle" fill="#1a1a1a" font-weight="normal" >PCR</text>
<text x="588.90" y="683.40" font-size="6.4" text-anchor="middle" fill="#1a1a1a" font-weight="normal" >comparison</text>
<text x="626.20" y="675.90" font-size="6.4" text-anchor="middle" fill="#1a1a1a" font-weight="normal" >Batch</text>
<text x="626.20" y="683.40" font-size="6.4" text-anchor="middle" fill="#1a1a1a" font-weight="normal" >correction</text>
<text x="664.30" y="675.90" font-size="6.4" text-anchor="middle" fill="#1a1a1a" font-weight="normal" >Bio</text>
<text x="664.30" y="683.40" font-size="6.4" text-anchor="middle" fill="#1a1a1a" font-weight="normal" >conservation</text>
<text x="702.50" y="679.60" font-size="6.4" text-anchor="middle" fill="#1a1a1a" font-weight="normal" >Total</text>
<line x1="169.4" y1="688.9" x2="722" y2="688.9" stroke="#333" stroke-width="0.7"/>
<line x1="169.4" y1="871.4" x2="722" y2="871.4" stroke="#999" stroke-width="1.2"/>
<text x="175.30" y="700.90" font-size="6.5" text-anchor="start" fill="#1a1a1a" font-weight="normal" >STAMP</text>
<circle cx="245.60" cy="698.60" r="7.6" fill="#28833f"/>
<text x="245.60" y="701.00" font-size="6.7" text-anchor="middle" fill="#ffffff" font-weight="normal" >0.66</text>
<circle cx="283.50" cy="698.60" r="7.6" fill="#28833f"/>
<text x="283.50" y="701.00" font-size="6.7" text-anchor="middle" fill="#ffffff" font-weight="normal" >0.49</text>
<circle cx="322.00" cy="698.60" r="7.6" fill="#1b7837"/>
<text x="322.00" y="701.00" font-size="6.7" text-anchor="middle" fill="#ffffff" font-weight="normal" >0.35</text>
<circle cx="359.80" cy="698.60" r="7.6" fill="#085423"/>
<text x="359.80" y="701.00" font-size="6.7" text-anchor="middle" fill="#ffffff" font-weight="normal" >0.56</text>
<circle cx="397.40" cy="698.60" r="7.6" fill="#a6dba0"/>
<text x="397.40" y="701.00" font-size="6.7" text-anchor="middle" fill="#222222" font-weight="normal" >0.96</text>
<circle cx="435.80" cy="698.60" r="7.6" fill="#c2a5cf"/>
<text x="435.80" y="701.00" font-size="6.7" text-anchor="middle" fill="#222222" font-weight="normal" >0.85</text>
<circle cx="473.60" cy="698.60" r="7.6" fill="#f2ecf2"/>
<text x="473.60" y="701.00" font-size="6.7" text-anchor="middle" fill="#222222" font-weight="normal" >0.27</text>
<circle cx="512.00" cy="698.60" r="7.6" fill="#f7f7f7"/>
<text x="512.00" y="701.00" font-size="6.7" text-anchor="middle" fill="#222222" font-weight="normal" >0.08</text>
<circle cx="550.00" cy="698.60" r="7.6" fill="#e2f2de"/>
<text x="550.00" y="701.00" font-size="6.7" text-anchor="middle" fill="#222222" font-weight="normal" >0.94</text>
<circle cx="588.90" cy="698.60" r="7.6" fill="#0e5e29"/>
<text x="588.90" y="701.00" font-size="6.7" text-anchor="middle" fill="#ffffff" font-weight="normal" >0.78</text>
<rect x="608.2" y="693.90" width="21.05" height="9.4" fill="#2b98c8"/>
<text x="627.05" y="701.00" font-size="6.7" text-anchor="end" fill="#1b2b40" font-weight="normal" >0.58</text>
<rect x="646.4" y="693.90" width="21.78" height="9.4" fill="#2b98c8"/>
<text x="665.98" y="701.00" font-size="6.7" text-anchor="end" fill="#1b2b40" font-weight="normal" >0.60</text>
<rect x="684.5" y="693.90" width="21.42" height="9.4" fill="#2b98c8"/>
<text x="703.72" y="701.00" font-size="6.7" text-anchor="end" fill="#1b2b40" font-weight="normal" >0.59</text>
<text x="175.30" y="719.20" font-size="6.5" text-anchor="start" fill="#1a1a1a" font-weight="normal" >LDVAE</text>
<circle cx="245.60" cy="716.90" r="7.6" fill="#f7f7f7"/>
<text x="245.60" y="719.30" font-size="6.7" text-anchor="middle" fill="#222222" font-weight="normal" >0.57</text>
<circle cx="283.50" cy="716.90" r="7.6" fill="#b0dfaa"/>
<text x="283.50" y="719.30" font-size="6.7" text-anchor="middle" fill="#222222" font-weight="normal" >0.41</text>
<circle cx="322.00" cy="716.90" r="7.6" fill="#caeac4"/>
<text x="322.00" y="719.30" font-size="6.7" text-anchor="middle" fill="#222222" font-weight="normal" >0.26</text>
<circle cx="359.80" cy="716.90" r="7.6" fill="#c0e6ba"/>
<text x="359.80" y="719.30" font-size="6.7" text-anchor="middle" fill="#222222" font-weight="normal" >0.52</text>
<circle cx="397.40" cy="716.90" r="7.6" fill="#e8f4e5"/>
<text x="397.40" y="719.30" font-size="6.7" text-anchor="middle" fill="#222222" font-weight="normal" >0.92</text>
<circle cx="435.80" cy="716.90" r="7.6" fill="#c0e6ba"/>
<text x="435.80" y="719.30" font-size="6.7" text-anchor="middle" fill="#222222" font-weight="normal" >0.93</text>
<circle cx="473.60" cy="716.90" r="7.6" fill="#a6dba0"/>
<text x="473.60" y="719.30" font-size="6.7" text-anchor="middle" fill="#222222" font-weight="normal" >0.37</text>
<circle cx="512.00" cy="716.90" r="7.6" fill="#69b76e"/>
<text x="512.00" y="719.30" font-size="6.7" text-anchor="middle" fill="#222222" font-weight="normal" >0.20</text>
<circle cx="550.00" cy="716.90" r="7.6" fill="#ebf4e9"/>
<text x="550.00" y="719.30" font-size="6.7" text-anchor="middle" fill="#222222" font-weight="normal" >0.92</text>
<circle cx="588.90" cy="716.90" r="7.6" fill="#b5e1af"/>
<text x="588.90" y="719.30" font-size="6.7" text-anchor="middle" fill="#222222" font-weight="normal" >0.27</text>
<rect x="608.2" y="712.20" width="19.60" height="9.4" fill="#35a7cc"/>
<text x="625.60" y="719.30" font-size="6.7" text-anchor="end" fill="#1b2b40" font-weight="normal" >0.54</text>
<rect x="646.4" y="712.20" width="19.60" height="9.4" fill="#35a7cc"/>
<text x="663.80" y="719.30" font-size="6.7" text-anchor="end" fill="#1b2b40" font-weight="normal" >0.54</text>
<rect x="684.5" y="712.20" width="19.60" height="9.4" fill="#35a7cc"/>
<text x="701.90" y="719.30" font-size="6.7" text-anchor="end" fill="#1b2b40" font-weight="normal" >0.54</text>
<text x="175.30" y="737.50" font-size="6.5" text-anchor="start" fill="#1a1a1a" font-weight="normal" >SpiceMix</text>
<circle cx="245.60" cy="735.20" r="7.6" fill="#78c07a"/>
<text x="245.60" y="737.60" font-size="6.7" text-anchor="middle" fill="#222222" font-weight="normal" >0.63</text>
<circle cx="283.50" cy="735.20" r="7.6" fill="#bae3b4"/>
<text x="283.50" y="737.60" font-size="6.7" text-anchor="middle" fill="#222222" font-weight="normal" >0.40</text>
<circle cx="322.00" cy="735.20" r="7.6" fill="#caeac4"/>
<text x="322.00" y="737.60" font-size="6.7" text-anchor="middle" fill="#222222" font-weight="normal" >0.26</text>
<circle cx="359.80" cy="735.20" r="7.6" fill="#e5f3e1"/>
<text x="359.80" y="737.60" font-size="6.7" text-anchor="middle" fill="#222222" font-weight="normal" >0.51</text>
<circle cx="397.40" cy="735.20" r="7.6" fill="#f2ecf2"/>
<text x="397.40" y="737.60" font-size="6.7" text-anchor="middle" fill="#222222" font-weight="normal" >0.90</text>
<circle cx="435.80" cy="735.20" r="7.6" fill="#f4f0f4"/>
<text x="435.80" y="737.60" font-size="6.7" text-anchor="middle" fill="#222222" font-weight="normal" >0.90</text>
<circle cx="473.60" cy="735.20" r="7.6" fill="#c5e8bf"/>
<text x="473.60" y="737.60" font-size="6.7" text-anchor="middle" fill="#222222" font-weight="normal" >0.34</text>
<circle cx="512.00" cy="735.20" r="7.6" fill="#e8f4e5"/>
<text x="512.00" y="737.60" font-size="6.7" text-anchor="middle" fill="#222222" font-weight="normal" >0.09</text>
<circle cx="550.00" cy="735.20" r="7.6" fill="#f4f0f4"/>
<text x="550.00" y="737.60" font-size="6.7" text-anchor="middle" fill="#222222" font-weight="normal" >0.89</text>
<circle cx="588.90" cy="735.20" r="7.6" fill="#f4f0f4"/>
<text x="588.90" y="737.60" font-size="6.7" text-anchor="middle" fill="#222222" font-weight="normal" >0.00</text>
<rect x="608.2" y="730.50" width="15.97" height="9.4" fill="#5ec3c0"/>
<text x="626.47" y="737.60" font-size="6.7" text-anchor="start" fill="#222" font-weight="normal" >0.44</text>
<rect x="646.4" y="730.50" width="19.60" height="9.4" fill="#35a7cc"/>
<text x="663.80" y="737.60" font-size="6.7" text-anchor="end" fill="#1b2b40" font-weight="normal" >0.54</text>
<rect x="684.5" y="730.50" width="18.15" height="9.4" fill="#3fb3c8"/>
<text x="700.45" y="737.60" font-size="6.7" text-anchor="end" fill="#1b2b40" font-weight="normal" >0.50</text>
<text x="175.30" y="755.80" font-size="6.5" text-anchor="start" fill="#1a1a1a" font-weight="normal" >NSFH</text>
<circle cx="245.60" cy="753.50" r="7.6" fill="#e7d4e8"/>
<text x="245.60" y="755.90" font-size="6.7" text-anchor="middle" fill="#222222" font-weight="normal" >0.54</text>
<circle cx="283.50" cy="753.50" r="7.6" fill="#ae8abd"/>
<text x="283.50" y="755.90" font-size="6.7" text-anchor="middle" fill="#222222" font-weight="normal" >0.23</text>
<circle cx="322.00" cy="753.50" r="7.6" fill="#ba9ac8"/>
<text x="322.00" y="755.90" font-size="6.7" text-anchor="middle" fill="#222222" font-weight="normal" >0.14</text>
<circle cx="359.80" cy="753.50" r="7.6" fill="#eadbeb"/>
<text x="359.80" y="755.90" font-size="6.7" text-anchor="middle" fill="#222222" font-weight="normal" >0.49</text>
<circle cx="397.40" cy="753.50" r="7.6" fill="#a17bb2"/>
<text x="397.40" y="755.90" font-size="6.7" text-anchor="middle" fill="#ffffff" font-weight="normal" >0.84</text>
<circle cx="435.80" cy="753.50" r="7.6" fill="#eef5ec"/>
<text x="435.80" y="755.90" font-size="6.7" text-anchor="middle" fill="#222222" font-weight="normal" >0.91</text>
<circle cx="473.60" cy="753.50" r="7.6" fill="#97d293"/>
<text x="473.60" y="755.90" font-size="6.7" text-anchor="middle" fill="#222222" font-weight="normal" >0.38</text>
<circle cx="512.00" cy="753.50" r="7.6" fill="#f7f7f7"/>
<text x="512.00" y="755.90" font-size="6.7" text-anchor="middle" fill="#222222" font-weight="normal" >0.08</text>
<circle cx="550.00" cy="753.50" r="7.6" fill="#eadbeb"/>
<text x="550.00" y="755.90" font-size="6.7" text-anchor="middle" fill="#222222" font-weight="normal" >0.86</text>
<circle cx="588.90" cy="753.50" r="7.6" fill="#1b7837"/>
<text x="588.90" y="755.90" font-size="6.7" text-anchor="middle" fill="#ffffff" font-weight="normal" >0.61</text>
<rect x="608.2" y="748.80" width="20.69" height="9.4" fill="#2e9dca"/>
<text x="626.69" y="755.90" font-size="6.7" text-anchor="end" fill="#1b2b40" font-weight="normal" >0.57</text>
<rect x="646.4" y="748.80" width="16.34" height="9.4" fill="#62c4bf"/>
<text x="665.03" y="755.90" font-size="6.7" text-anchor="start" fill="#222" font-weight="normal" >0.45</text>
<rect x="684.5" y="748.80" width="17.79" height="9.4" fill="#4bbac5"/>
<text x="704.59" y="755.90" font-size="6.7" text-anchor="start" fill="#222" font-weight="normal" >0.49</text>
<text x="175.30" y="774.10" font-size="6.5" text-anchor="start" fill="#1a1a1a" font-weight="normal" >PRECAST</text>
<circle cx="245.60" cy="771.80" r="7.6" fill="#b695c4"/>
<text x="245.60" y="774.20" font-size="6.7" text-anchor="middle" fill="#222222" font-weight="normal" >0.51</text>
<circle cx="283.50" cy="771.80" r="7.6" fill="#d9f0d3"/>
<text x="283.50" y="774.20" font-size="6.7" text-anchor="middle" fill="#222222" font-weight="normal" >0.38</text>
<circle cx="322.00" cy="771.80" r="7.6" fill="#8fce8d"/>
<text x="322.00" y="774.20" font-size="6.7" text-anchor="middle" fill="#222222" font-weight="normal" >0.29</text>
<circle cx="359.80" cy="771.80" r="7.6" fill="#e7d4e8"/>
<text x="359.80" y="774.20" font-size="6.7" text-anchor="middle" fill="#222222" font-weight="normal" >0.48</text>
<circle cx="397.40" cy="771.80" r="7.6" fill="#ba9ac8"/>
<text x="397.40" y="774.20" font-size="6.7" text-anchor="middle" fill="#ffffff" font-weight="normal" >0.85</text>
<circle cx="435.80" cy="771.80" r="7.6" fill="#762a83"/>
<text x="435.80" y="774.20" font-size="6.7" text-anchor="middle" fill="#ffffff" font-weight="normal" >0.81</text>
<circle cx="473.60" cy="771.80" r="7.6" fill="#78c07a"/>
<text x="473.60" y="774.20" font-size="6.7" text-anchor="middle" fill="#ffffff" font-weight="normal" >0.42</text>
<circle cx="512.00" cy="771.80" r="7.6" fill="#085423"/>
<text x="512.00" y="774.20" font-size="6.7" text-anchor="middle" fill="#ffffff" font-weight="normal" >0.31</text>
<circle cx="550.00" cy="771.80" r="7.6" fill="#7d388b"/>
<text x="550.00" y="774.20" font-size="6.7" text-anchor="middle" fill="#ffffff" font-weight="normal" >0.59</text>
<circle cx="588.90" cy="771.80" r="7.6" fill="#e2f2de"/>
<text x="588.90" y="774.20" font-size="6.7" text-anchor="middle" fill="#222222" font-weight="normal" >0.13</text>
<rect x="608.2" y="767.10" width="16.34" height="9.4" fill="#5ec3c0"/>
<text x="626.84" y="774.20" font-size="6.7" text-anchor="start" fill="#222" font-weight="normal" >0.45</text>
<rect x="646.4" y="767.10" width="18.15" height="9.4" fill="#3aafca"/>
<text x="662.35" y="774.20" font-size="6.7" text-anchor="end" fill="#1b2b40" font-weight="normal" >0.50</text>
<rect x="684.5" y="767.10" width="17.42" height="9.4" fill="#4fbcc4"/>
<text x="704.22" y="774.20" font-size="6.7" text-anchor="start" fill="#222" font-weight="normal" >0.48</text>
<text x="175.30" y="792.40" font-size="6.5" text-anchor="start" fill="#1a1a1a" font-weight="normal" >NMF</text>
<circle cx="245.60" cy="790.10" r="7.6" fill="#b0dfaa"/>
<text x="245.60" y="792.50" font-size="6.7" text-anchor="middle" fill="#222222" font-weight="normal" >0.60</text>
<circle cx="283.50" cy="790.10" r="7.6" fill="#f7f7f7"/>
<text x="283.50" y="792.50" font-size="6.7" text-anchor="middle" fill="#222222" font-weight="normal" >0.33</text>
<circle cx="322.00" cy="790.10" r="7.6" fill="#ede2ee"/>
<text x="322.00" y="792.50" font-size="6.7" text-anchor="middle" fill="#222222" font-weight="normal" >0.20</text>
<circle cx="359.80" cy="790.10" r="7.6" fill="#e5f3e1"/>
<text x="359.80" y="792.50" font-size="6.7" text-anchor="middle" fill="#222222" font-weight="normal" >0.51</text>
<circle cx="397.40" cy="790.10" r="7.6" fill="#f7f7f7"/>
<text x="397.40" y="792.50" font-size="6.7" text-anchor="middle" fill="#222222" font-weight="normal" >0.91</text>
<circle cx="435.80" cy="790.10" r="7.6" fill="#eef5ec"/>
<text x="435.80" y="792.50" font-size="6.7" text-anchor="middle" fill="#222222" font-weight="normal" >0.91</text>
<circle cx="473.60" cy="790.10" r="7.6" fill="#f1e9f1"/>
<text x="473.60" y="792.50" font-size="6.7" text-anchor="middle" fill="#222222" font-weight="normal" >0.26</text>
<circle cx="512.00" cy="790.10" r="7.6" fill="#eadbeb"/>
<text x="512.00" y="792.50" font-size="6.7" text-anchor="middle" fill="#222222" font-weight="normal" >0.04</text>
<circle cx="550.00" cy="790.10" r="7.6" fill="#f1e9f1"/>
<text x="550.00" y="792.50" font-size="6.7" text-anchor="middle" fill="#222222" font-weight="normal" >0.88</text>
<circle cx="588.90" cy="790.10" r="7.6" fill="#f4f0f4"/>
<text x="588.90" y="792.50" font-size="6.7" text-anchor="middle" fill="#222222" font-weight="normal" >0.00</text>
<rect x="608.2" y="785.40" width="15.25" height="9.4" fill="#68c7be"/>
<text x="625.75" y="792.50" font-size="6.7" text-anchor="start" fill="#222" font-weight="normal" >0.42</text>
<rect x="646.4" y="785.40" width="18.51" height="9.4" fill="#38acca"/>
<text x="662.71" y="792.50" font-size="6.7" text-anchor="end" fill="#1b2b40" font-weight="normal" >0.51</text>
<rect x="684.5" y="785.40" width="17.06" height="9.4" fill="#52bdc3"/>
<text x="703.86" y="792.50" font-size="6.7" text-anchor="start" fill="#222" font-weight="normal" >0.47</text>
<text x="175.30" y="810.70" font-size="6.5" text-anchor="start" fill="#1a1a1a" font-weight="normal" >DeepST</text>
<circle cx="245.60" cy="808.40" r="7.6" fill="#efe6f0"/>
<text x="245.60" y="810.80" font-size="6.7" text-anchor="middle" fill="#222222" font-weight="normal" >0.56</text>
<circle cx="283.50" cy="808.40" r="7.6" fill="#f7f7f7"/>
<text x="283.50" y="810.80" font-size="6.7" text-anchor="middle" fill="#222222" font-weight="normal" >0.33</text>
<circle cx="322.00" cy="808.40" r="7.6" fill="#e5f3e1"/>
<text x="322.00" y="810.80" font-size="6.7" text-anchor="middle" fill="#222222" font-weight="normal" >0.23</text>
<circle cx="359.80" cy="808.40" r="7.6" fill="#e0cbe3"/>
<text x="359.80" y="810.80" font-size="6.7" text-anchor="middle" fill="#222222" font-weight="normal" >0.49</text>
<circle cx="397.40" cy="808.40" r="7.6" fill="#479e54"/>
<text x="397.40" y="810.80" font-size="6.7" text-anchor="middle" fill="#ffffff" font-weight="normal" >0.97</text>
<circle cx="435.80" cy="808.40" r="7.6" fill="#ba9ac8"/>
<text x="435.80" y="810.80" font-size="6.7" text-anchor="middle" fill="#ffffff" font-weight="normal" >0.85</text>
<circle cx="473.60" cy="808.40" r="7.6" fill="#ae8abd"/>
<text x="473.60" y="810.80" font-size="6.7" text-anchor="middle" fill="#ffffff" font-weight="normal" >0.15</text>
<circle cx="512.00" cy="808.40" r="7.6" fill="#cdb3d6"/>
<text x="512.00" y="810.80" font-size="6.7" text-anchor="middle" fill="#222222" font-weight="normal" >0.00</text>
<circle cx="550.00" cy="808.40" r="7.6" fill="#dff1da"/>
<text x="550.00" y="810.80" font-size="6.7" text-anchor="middle" fill="#222222" font-weight="normal" >0.93</text>
<circle cx="588.90" cy="808.40" r="7.6" fill="#f7f7f7"/>
<text x="588.90" y="810.80" font-size="6.7" text-anchor="middle" fill="#222222" font-weight="normal" >0.02</text>
<rect x="608.2" y="803.70" width="14.16" height="9.4" fill="#74cabc"/>
<text x="624.66" y="810.80" font-size="6.7" text-anchor="start" fill="#222" font-weight="normal" >0.39</text>
<rect x="646.4" y="803.70" width="18.88" height="9.4" fill="#35a9cb"/>
<text x="663.08" y="810.80" font-size="6.7" text-anchor="end" fill="#1b2b40" font-weight="normal" >0.52</text>
<rect x="684.5" y="803.70" width="17.06" height="9.4" fill="#52bdc3"/>
<text x="703.86" y="810.80" font-size="6.7" text-anchor="start" fill="#222" font-weight="normal" >0.47</text>
<text x="175.30" y="829.00" font-size="6.5" text-anchor="start" fill="#1a1a1a" font-weight="normal" >STAligner</text>
<circle cx="245.60" cy="826.70" r="7.6" fill="#f7f7f7"/>
<text x="245.60" y="829.10" font-size="6.7" text-anchor="middle" fill="#222222" font-weight="normal" >0.57</text>
<circle cx="283.50" cy="826.70" r="7.6" fill="#eadbeb"/>
<text x="283.50" y="829.10" font-size="6.7" text-anchor="middle" fill="#222222" font-weight="normal" >0.30</text>
<circle cx="322.00" cy="826.70" r="7.6" fill="#e0cbe3"/>
<text x="322.00" y="829.10" font-size="6.7" text-anchor="middle" fill="#222222" font-weight="normal" >0.17</text>
<circle cx="359.80" cy="826.70" r="7.6" fill="#eef5ec"/>
<text x="359.80" y="829.10" font-size="6.7" text-anchor="middle" fill="#222222" font-weight="normal" >0.51</text>
<circle cx="397.40" cy="826.70" r="7.6" fill="#97d293"/>
<text x="397.40" y="829.10" font-size="6.7" text-anchor="middle" fill="#222222" font-weight="normal" >0.96</text>
<circle cx="435.80" cy="826.70" r="7.6" fill="#f1f6f0"/>
<text x="435.80" y="829.10" font-size="6.7" text-anchor="middle" fill="#222222" font-weight="normal" >0.91</text>
<circle cx="473.60" cy="826.70" r="7.6" fill="#a580b6"/>
<text x="473.60" y="829.10" font-size="6.7" text-anchor="middle" fill="#ffffff" font-weight="normal" >0.14</text>
<circle cx="512.00" cy="826.70" r="7.6" fill="#d8c1de"/>
<text x="512.00" y="829.10" font-size="6.7" text-anchor="middle" fill="#222222" font-weight="normal" >0.01</text>
<circle cx="550.00" cy="826.70" r="7.6" fill="#b0dfaa"/>
<text x="550.00" y="829.10" font-size="6.7" text-anchor="middle" fill="#222222" font-weight="normal" >0.99</text>
<circle cx="588.90" cy="826.70" r="7.6" fill="#f4f0f4"/>
<text x="588.90" y="829.10" font-size="6.7" text-anchor="middle" fill="#222222" font-weight="normal" >0.00</text>
<rect x="608.2" y="822.00" width="14.88" height="9.4" fill="#6cc8bd"/>
<text x="625.38" y="829.10" font-size="6.7" text-anchor="start" fill="#222" font-weight="normal" >0.41</text>
<rect x="646.4" y="822.00" width="18.15" height="9.4" fill="#3aafca"/>
<text x="662.35" y="829.10" font-size="6.7" text-anchor="end" fill="#1b2b40" font-weight="normal" >0.50</text>
<rect x="684.5" y="822.00" width="16.70" height="9.4" fill="#56bec3"/>
<text x="703.50" y="829.10" font-size="6.7" text-anchor="start" fill="#222" font-weight="normal" >0.46</text>
<text x="175.30" y="847.30" font-size="6.5" text-anchor="start" fill="#1a1a1a" font-weight="normal" >PCA</text>
<circle cx="245.60" cy="845.00" r="7.6" fill="#ae8abd"/>
<text x="245.60" y="847.40" font-size="6.7" text-anchor="middle" fill="#222222" font-weight="normal" >0.52</text>
<circle cx="283.50" cy="845.00" r="7.6" fill="#f7f7f7"/>
<text x="283.50" y="847.40" font-size="6.7" text-anchor="middle" fill="#222222" font-weight="normal" >0.33</text>
<circle cx="322.00" cy="845.00" r="7.6" fill="#efe6f0"/>
<text x="322.00" y="847.40" font-size="6.7" text-anchor="middle" fill="#222222" font-weight="normal" >0.20</text>
<circle cx="359.80" cy="845.00" r="7.6" fill="#f7f7f7"/>
<text x="359.80" y="847.40" font-size="6.7" text-anchor="middle" fill="#222222" font-weight="normal" >0.50</text>
<circle cx="397.40" cy="845.00" r="7.6" fill="#f4f0f4"/>
<text x="397.40" y="847.40" font-size="6.7" text-anchor="middle" fill="#222222" font-weight="normal" >0.90</text>
<circle cx="435.80" cy="845.00" r="7.6" fill="#bae3b4"/>
<text x="435.80" y="847.40" font-size="6.7" text-anchor="middle" fill="#222222" font-weight="normal" >0.94</text>
<circle cx="473.60" cy="845.00" r="7.6" fill="#f7f7f7"/>
<text x="473.60" y="847.40" font-size="6.7" text-anchor="middle" fill="#222222" font-weight="normal" >0.28</text>
<circle cx="512.00" cy="845.00" r="7.6" fill="#f7f7f7"/>
<text x="512.00" y="847.40" font-size="6.7" text-anchor="middle" fill="#222222" font-weight="normal" >0.07</text>
<circle cx="550.00" cy="845.00" r="7.6" fill="#7d388b"/>
<text x="550.00" y="847.40" font-size="6.7" text-anchor="middle" fill="#ffffff" font-weight="normal" >0.61</text>
<circle cx="588.90" cy="845.00" r="7.6" fill="#f4f0f4"/>
<text x="588.90" y="847.40" font-size="6.7" text-anchor="middle" fill="#222222" font-weight="normal" >0.00</text>
<rect x="608.2" y="840.30" width="13.79" height="9.4" fill="#78ccbb"/>
<text x="624.29" y="847.40" font-size="6.7" text-anchor="start" fill="#222" font-weight="normal" >0.38</text>
<rect x="646.4" y="840.30" width="17.79" height="9.4" fill="#45b6c6"/>
<text x="666.49" y="847.40" font-size="6.7" text-anchor="start" fill="#222" font-weight="normal" >0.49</text>
<rect x="684.5" y="840.30" width="15.97" height="9.4" fill="#5ac0c1"/>
<text x="702.77" y="847.40" font-size="6.7" text-anchor="start" fill="#222" font-weight="normal" >0.44</text>
<text x="175.30" y="865.60" font-size="6.5" text-anchor="start" fill="#1a1a1a" font-weight="normal" >LDA</text>
<circle cx="245.60" cy="863.30" r="7.6" fill="#b0dfaa"/>
<text x="245.60" y="865.70" font-size="6.7" text-anchor="middle" fill="#222222" font-weight="normal" >0.60</text>
<circle cx="283.50" cy="863.30" r="7.6" fill="#a17bb2"/>
<text x="283.50" y="865.70" font-size="6.7" text-anchor="middle" fill="#ffffff" font-weight="normal" >0.21</text>
<circle cx="322.00" cy="863.30" r="7.6" fill="#ae8abd"/>
<text x="322.00" y="865.70" font-size="6.7" text-anchor="middle" fill="#222222" font-weight="normal" >0.13</text>
<circle cx="359.80" cy="863.30" r="7.6" fill="#ae8abd"/>
<text x="359.80" y="865.70" font-size="6.7" text-anchor="middle" fill="#ffffff" font-weight="normal" >0.47</text>
<circle cx="397.40" cy="863.30" r="7.6" fill="#f2ecf2"/>
<text x="397.40" y="865.70" font-size="6.7" text-anchor="middle" fill="#222222" font-weight="normal" >0.90</text>
<circle cx="435.80" cy="863.30" r="7.6" fill="#c2a5cf"/>
<text x="435.80" y="865.70" font-size="6.7" text-anchor="middle" fill="#222222" font-weight="normal" >0.86</text>
<circle cx="473.60" cy="863.30" r="7.6" fill="#e7d4e8"/>
<text x="473.60" y="865.70" font-size="6.7" text-anchor="middle" fill="#222222" font-weight="normal" >0.23</text>
<circle cx="512.00" cy="863.30" r="7.6" fill="#d8c1de"/>
<text x="512.00" y="865.70" font-size="6.7" text-anchor="middle" fill="#222222" font-weight="normal" >0.01</text>
<circle cx="550.00" cy="863.30" r="7.6" fill="#f7f7f7"/>
<text x="550.00" y="865.70" font-size="6.7" text-anchor="middle" fill="#222222" font-weight="normal" >0.90</text>
<circle cx="588.90" cy="863.30" r="7.6" fill="#f4f0f4"/>
<text x="588.90" y="865.70" font-size="6.7" text-anchor="middle" fill="#222222" font-weight="normal" >0.00</text>
<rect x="608.2" y="858.60" width="14.52" height="9.4" fill="#70c9bc"/>
<text x="625.02" y="865.70" font-size="6.7" text-anchor="start" fill="#222" font-weight="normal" >0.40</text>
<rect x="646.4" y="858.60" width="16.70" height="9.4" fill="#56bec3"/>
<text x="665.40" y="865.70" font-size="6.7" text-anchor="start" fill="#222" font-weight="normal" >0.46</text>
<rect x="684.5" y="858.60" width="15.97" height="9.4" fill="#5ac0c1"/>
<text x="702.77" y="865.70" font-size="6.7" text-anchor="start" fill="#222" font-weight="normal" >0.44</text>
</svg></body></html>
